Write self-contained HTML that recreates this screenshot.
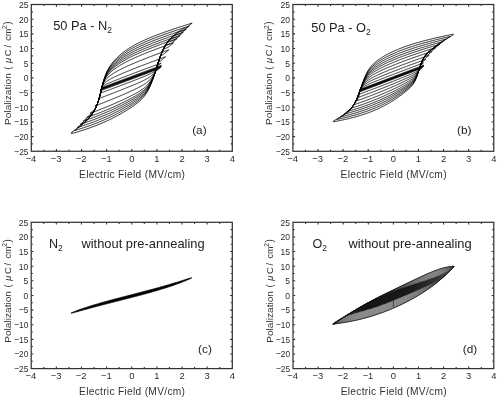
<!DOCTYPE html>
<html><head><meta charset="utf-8"><style>
html,body{margin:0;padding:0;background:#fff;width:498px;height:398px;overflow:hidden}
svg{display:block;will-change:transform}
text{font-family:"Liberation Sans", sans-serif}
</style></head><body>
<svg width="498" height="398" viewBox="0 0 498 398">
<path d="M43.86 151.25v-1.6M43.86 4.5v1.6M56.42 151.25v-2.2M56.42 4.5v2.2M68.99 151.25v-1.6M68.99 4.5v1.6M81.55 151.25v-2.2M81.55 4.5v2.2M94.11 151.25v-1.6M94.11 4.5v1.6M106.67 151.25v-2.2M106.67 4.5v2.2M119.24 151.25v-1.6M119.24 4.5v1.6M131.8 151.25v-2.2M131.8 4.5v2.2M144.36 151.25v-1.6M144.36 4.5v1.6M156.93 151.25v-2.2M156.93 4.5v2.2M169.49 151.25v-1.6M169.49 4.5v1.6M182.05 151.25v-2.2M182.05 4.5v2.2M194.61 151.25v-1.6M194.61 4.5v1.6M207.18 151.25v-2.2M207.18 4.5v2.2M219.74 151.25v-1.6M219.74 4.5v1.6M31.3 143.91h1.6M232.3 143.91h-1.6M31.3 136.58h2.2M232.3 136.58h-2.2M31.3 129.24h1.6M232.3 129.24h-1.6M31.3 121.9h2.2M232.3 121.9h-2.2M31.3 114.56h1.6M232.3 114.56h-1.6M31.3 107.22h2.2M232.3 107.22h-2.2M31.3 99.89h1.6M232.3 99.89h-1.6M31.3 92.55h2.2M232.3 92.55h-2.2M31.3 85.21h1.6M232.3 85.21h-1.6M31.3 77.88h2.2M232.3 77.88h-2.2M31.3 70.54h1.6M232.3 70.54h-1.6M31.3 63.2h2.2M232.3 63.2h-2.2M31.3 55.86h1.6M232.3 55.86h-1.6M31.3 48.52h2.2M232.3 48.52h-2.2M31.3 41.19h1.6M232.3 41.19h-1.6M31.3 33.85h2.2M232.3 33.85h-2.2M31.3 26.51h1.6M232.3 26.51h-1.6M31.3 19.18h2.2M232.3 19.18h-2.2M31.3 11.84h1.6M232.3 11.84h-1.6" stroke="#333" stroke-width="1.1" fill="none"/>
<rect x="31.3" y="4.5" width="201" height="146.75" stroke="#333" stroke-width="1.25" fill="none"/>
<g font-size="9.4" fill="#2a2a2a" text-anchor="middle">
<text x="31" y="161.85">−4</text>
<text x="56.12" y="161.85">−3</text>
<text x="81.25" y="161.85">−2</text>
<text x="106.38" y="161.85">−1</text>
<text x="131.8" y="161.85">0</text>
<text x="156.93" y="161.85">1</text>
<text x="182.05" y="161.85">2</text>
<text x="207.18" y="161.85">3</text>
<text x="232.3" y="161.85">4</text>
</g>
<g font-size="9.4" fill="#2a2a2a" text-anchor="end">
<text x="28.4" y="154.65" textLength="14.1" lengthAdjust="spacingAndGlyphs">−25</text>
<text x="28.4" y="139.98" textLength="14.1" lengthAdjust="spacingAndGlyphs">−20</text>
<text x="28.4" y="125.3" textLength="14.1" lengthAdjust="spacingAndGlyphs">−15</text>
<text x="28.4" y="110.62" textLength="14.1" lengthAdjust="spacingAndGlyphs">−10</text>
<text x="28.4" y="95.95" textLength="9.35" lengthAdjust="spacingAndGlyphs">−5</text>
<text x="28.4" y="81.28" textLength="4.75" lengthAdjust="spacingAndGlyphs">0</text>
<text x="28.4" y="66.6" textLength="4.75" lengthAdjust="spacingAndGlyphs">5</text>
<text x="28.4" y="51.92" textLength="9.5" lengthAdjust="spacingAndGlyphs">10</text>
<text x="28.4" y="37.25" textLength="9.5" lengthAdjust="spacingAndGlyphs">15</text>
<text x="28.4" y="22.57" textLength="9.5" lengthAdjust="spacingAndGlyphs">20</text>
<text x="28.4" y="7.9" textLength="9.5" lengthAdjust="spacingAndGlyphs">25</text>
</g>
<text x="132.2" y="178.05" font-size="10.2" fill="#333" text-anchor="middle" letter-spacing="0.3">Electric Field (MV/cm)</text>
<text transform="translate(10.8 125) rotate(-90)" font-size="9.4" fill="#333"><tspan x="0" textLength="51.8" lengthAdjust="spacingAndGlyphs">Polalization</tspan><tspan x="55.2">(</tspan><tspan x="62" font-style="italic">μ</tspan><tspan x="68.8" textLength="6.9" lengthAdjust="spacingAndGlyphs">C</tspan><tspan x="77.4">/</tspan><tspan x="84.2" textLength="12" lengthAdjust="spacingAndGlyphs">cm</tspan><tspan x="96.1" font-size="6.8" dy="-3.9">2</tspan><tspan x="100.2" dy="3.9" font-size="10.2">)</tspan></text>
<path d="M305.45 151.3v-1.6M305.45 4.5v1.6M318.01 151.3v-2.2M318.01 4.5v2.2M330.56 151.3v-1.6M330.56 4.5v1.6M343.11 151.3v-2.2M343.11 4.5v2.2M355.67 151.3v-1.6M355.67 4.5v1.6M368.22 151.3v-2.2M368.22 4.5v2.2M380.77 151.3v-1.6M380.77 4.5v1.6M393.32 151.3v-2.2M393.32 4.5v2.2M405.88 151.3v-1.6M405.88 4.5v1.6M418.43 151.3v-2.2M418.43 4.5v2.2M430.98 151.3v-1.6M430.98 4.5v1.6M443.54 151.3v-2.2M443.54 4.5v2.2M456.09 151.3v-1.6M456.09 4.5v1.6M468.64 151.3v-2.2M468.64 4.5v2.2M481.2 151.3v-1.6M481.2 4.5v1.6M292.9 143.96h1.6M493.75 143.96h-1.6M292.9 136.62h2.2M493.75 136.62h-2.2M292.9 129.28h1.6M493.75 129.28h-1.6M292.9 121.94h2.2M493.75 121.94h-2.2M292.9 114.6h1.6M493.75 114.6h-1.6M292.9 107.26h2.2M493.75 107.26h-2.2M292.9 99.92h1.6M493.75 99.92h-1.6M292.9 92.58h2.2M493.75 92.58h-2.2M292.9 85.24h1.6M493.75 85.24h-1.6M292.9 77.9h2.2M493.75 77.9h-2.2M292.9 70.56h1.6M493.75 70.56h-1.6M292.9 63.22h2.2M493.75 63.22h-2.2M292.9 55.88h1.6M493.75 55.88h-1.6M292.9 48.54h2.2M493.75 48.54h-2.2M292.9 41.2h1.6M493.75 41.2h-1.6M292.9 33.86h2.2M493.75 33.86h-2.2M292.9 26.52h1.6M493.75 26.52h-1.6M292.9 19.18h2.2M493.75 19.18h-2.2M292.9 11.84h1.6M493.75 11.84h-1.6" stroke="#333" stroke-width="1.1" fill="none"/>
<rect x="292.9" y="4.5" width="200.85" height="146.8" stroke="#333" stroke-width="1.25" fill="none"/>
<g font-size="9.4" fill="#2a2a2a" text-anchor="middle">
<text x="292.6" y="161.9">−4</text>
<text x="317.71" y="161.9">−3</text>
<text x="342.81" y="161.9">−2</text>
<text x="367.92" y="161.9">−1</text>
<text x="393.32" y="161.9">0</text>
<text x="418.43" y="161.9">1</text>
<text x="443.54" y="161.9">2</text>
<text x="468.64" y="161.9">3</text>
<text x="493.75" y="161.9">4</text>
</g>
<g font-size="9.4" fill="#2a2a2a" text-anchor="end">
<text x="290" y="154.7" textLength="14.1" lengthAdjust="spacingAndGlyphs">−25</text>
<text x="290" y="140.02" textLength="14.1" lengthAdjust="spacingAndGlyphs">−20</text>
<text x="290" y="125.34" textLength="14.1" lengthAdjust="spacingAndGlyphs">−15</text>
<text x="290" y="110.66" textLength="14.1" lengthAdjust="spacingAndGlyphs">−10</text>
<text x="290" y="95.98" textLength="9.35" lengthAdjust="spacingAndGlyphs">−5</text>
<text x="290" y="81.3" textLength="4.75" lengthAdjust="spacingAndGlyphs">0</text>
<text x="290" y="66.62" textLength="4.75" lengthAdjust="spacingAndGlyphs">5</text>
<text x="290" y="51.94" textLength="9.5" lengthAdjust="spacingAndGlyphs">10</text>
<text x="290" y="37.26" textLength="9.5" lengthAdjust="spacingAndGlyphs">15</text>
<text x="290" y="22.58" textLength="9.5" lengthAdjust="spacingAndGlyphs">20</text>
<text x="290" y="7.9" textLength="9.5" lengthAdjust="spacingAndGlyphs">25</text>
</g>
<text x="393.72" y="178.1" font-size="10.2" fill="#333" text-anchor="middle" letter-spacing="0.3">Electric Field (MV/cm)</text>
<text transform="translate(272.4 125) rotate(-90)" font-size="9.4" fill="#333"><tspan x="0" textLength="51.8" lengthAdjust="spacingAndGlyphs">Polalization</tspan><tspan x="55.2">(</tspan><tspan x="62" font-style="italic">μ</tspan><tspan x="68.8" textLength="6.9" lengthAdjust="spacingAndGlyphs">C</tspan><tspan x="77.4">/</tspan><tspan x="84.2" textLength="12" lengthAdjust="spacingAndGlyphs">cm</tspan><tspan x="96.1" font-size="6.8" dy="-3.9">2</tspan><tspan x="100.2" dy="3.9" font-size="10.2">)</tspan></text>
<path d="M43.77 368.6v-1.6M43.77 222.3v1.6M56.34 368.6v-2.2M56.34 222.3v2.2M68.91 368.6v-1.6M68.91 222.3v1.6M81.48 368.6v-2.2M81.48 222.3v2.2M94.04 368.6v-1.6M94.04 222.3v1.6M106.61 368.6v-2.2M106.61 222.3v2.2M119.18 368.6v-1.6M119.18 222.3v1.6M131.75 368.6v-2.2M131.75 222.3v2.2M144.32 368.6v-1.6M144.32 222.3v1.6M156.89 368.6v-2.2M156.89 222.3v2.2M169.46 368.6v-1.6M169.46 222.3v1.6M182.03 368.6v-2.2M182.03 222.3v2.2M194.59 368.6v-1.6M194.59 222.3v1.6M207.16 368.6v-2.2M207.16 222.3v2.2M219.73 368.6v-1.6M219.73 222.3v1.6M31.2 361.29h1.6M232.3 361.29h-1.6M31.2 353.97h2.2M232.3 353.97h-2.2M31.2 346.66h1.6M232.3 346.66h-1.6M31.2 339.34h2.2M232.3 339.34h-2.2M31.2 332.03h1.6M232.3 332.03h-1.6M31.2 324.71h2.2M232.3 324.71h-2.2M31.2 317.4h1.6M232.3 317.4h-1.6M31.2 310.08h2.2M232.3 310.08h-2.2M31.2 302.77h1.6M232.3 302.77h-1.6M31.2 295.45h2.2M232.3 295.45h-2.2M31.2 288.13h1.6M232.3 288.13h-1.6M31.2 280.82h2.2M232.3 280.82h-2.2M31.2 273.5h1.6M232.3 273.5h-1.6M31.2 266.19h2.2M232.3 266.19h-2.2M31.2 258.88h1.6M232.3 258.88h-1.6M31.2 251.56h2.2M232.3 251.56h-2.2M31.2 244.25h1.6M232.3 244.25h-1.6M31.2 236.93h2.2M232.3 236.93h-2.2M31.2 229.62h1.6M232.3 229.62h-1.6" stroke="#333" stroke-width="1.1" fill="none"/>
<rect x="31.2" y="222.3" width="201.1" height="146.3" stroke="#333" stroke-width="1.25" fill="none"/>
<g font-size="9.4" fill="#2a2a2a" text-anchor="middle">
<text x="30.9" y="379.2">−4</text>
<text x="56.04" y="379.2">−3</text>
<text x="81.18" y="379.2">−2</text>
<text x="106.31" y="379.2">−1</text>
<text x="131.75" y="379.2">0</text>
<text x="156.89" y="379.2">1</text>
<text x="182.03" y="379.2">2</text>
<text x="207.16" y="379.2">3</text>
<text x="232.3" y="379.2">4</text>
</g>
<g font-size="9.4" fill="#2a2a2a" text-anchor="end">
<text x="28.3" y="372" textLength="14.1" lengthAdjust="spacingAndGlyphs">−25</text>
<text x="28.3" y="357.37" textLength="14.1" lengthAdjust="spacingAndGlyphs">−20</text>
<text x="28.3" y="342.74" textLength="14.1" lengthAdjust="spacingAndGlyphs">−15</text>
<text x="28.3" y="328.11" textLength="14.1" lengthAdjust="spacingAndGlyphs">−10</text>
<text x="28.3" y="313.48" textLength="9.35" lengthAdjust="spacingAndGlyphs">−5</text>
<text x="28.3" y="298.85" textLength="4.75" lengthAdjust="spacingAndGlyphs">0</text>
<text x="28.3" y="284.22" textLength="4.75" lengthAdjust="spacingAndGlyphs">5</text>
<text x="28.3" y="269.59" textLength="9.5" lengthAdjust="spacingAndGlyphs">10</text>
<text x="28.3" y="254.96" textLength="9.5" lengthAdjust="spacingAndGlyphs">15</text>
<text x="28.3" y="240.33" textLength="9.5" lengthAdjust="spacingAndGlyphs">20</text>
<text x="28.3" y="225.7" textLength="9.5" lengthAdjust="spacingAndGlyphs">25</text>
</g>
<text x="132.15" y="395.4" font-size="10.2" fill="#333" text-anchor="middle" letter-spacing="0.3">Electric Field (MV/cm)</text>
<text transform="translate(10.7 342.8) rotate(-90)" font-size="9.4" fill="#333"><tspan x="0" textLength="51.8" lengthAdjust="spacingAndGlyphs">Polalization</tspan><tspan x="55.2">(</tspan><tspan x="62" font-style="italic">μ</tspan><tspan x="68.8" textLength="6.9" lengthAdjust="spacingAndGlyphs">C</tspan><tspan x="77.4">/</tspan><tspan x="84.2" textLength="12" lengthAdjust="spacingAndGlyphs">cm</tspan><tspan x="96.1" font-size="6.8" dy="-3.9">2</tspan><tspan x="100.2" dy="3.9" font-size="10.2">)</tspan></text>
<path d="M305.55 368.6v-1.6M305.55 222.3v1.6M318.1 368.6v-2.2M318.1 222.3v2.2M330.65 368.6v-1.6M330.65 222.3v1.6M343.2 368.6v-2.2M343.2 222.3v2.2M355.75 368.6v-1.6M355.75 222.3v1.6M368.3 368.6v-2.2M368.3 222.3v2.2M380.85 368.6v-1.6M380.85 222.3v1.6M393.4 368.6v-2.2M393.4 222.3v2.2M405.95 368.6v-1.6M405.95 222.3v1.6M418.5 368.6v-2.2M418.5 222.3v2.2M431.05 368.6v-1.6M431.05 222.3v1.6M443.6 368.6v-2.2M443.6 222.3v2.2M456.15 368.6v-1.6M456.15 222.3v1.6M468.7 368.6v-2.2M468.7 222.3v2.2M481.25 368.6v-1.6M481.25 222.3v1.6M293 361.29h1.6M493.8 361.29h-1.6M293 353.97h2.2M493.8 353.97h-2.2M293 346.66h1.6M493.8 346.66h-1.6M293 339.34h2.2M493.8 339.34h-2.2M293 332.03h1.6M493.8 332.03h-1.6M293 324.71h2.2M493.8 324.71h-2.2M293 317.4h1.6M493.8 317.4h-1.6M293 310.08h2.2M493.8 310.08h-2.2M293 302.77h1.6M493.8 302.77h-1.6M293 295.45h2.2M493.8 295.45h-2.2M293 288.13h1.6M493.8 288.13h-1.6M293 280.82h2.2M493.8 280.82h-2.2M293 273.5h1.6M493.8 273.5h-1.6M293 266.19h2.2M493.8 266.19h-2.2M293 258.88h1.6M493.8 258.88h-1.6M293 251.56h2.2M493.8 251.56h-2.2M293 244.25h1.6M493.8 244.25h-1.6M293 236.93h2.2M493.8 236.93h-2.2M293 229.62h1.6M493.8 229.62h-1.6" stroke="#333" stroke-width="1.1" fill="none"/>
<rect x="293" y="222.3" width="200.8" height="146.3" stroke="#333" stroke-width="1.25" fill="none"/>
<g font-size="9.4" fill="#2a2a2a" text-anchor="middle">
<text x="292.7" y="379.2">−4</text>
<text x="317.8" y="379.2">−3</text>
<text x="342.9" y="379.2">−2</text>
<text x="368" y="379.2">−1</text>
<text x="393.4" y="379.2">0</text>
<text x="418.5" y="379.2">1</text>
<text x="443.6" y="379.2">2</text>
<text x="468.7" y="379.2">3</text>
<text x="493.8" y="379.2">4</text>
</g>
<g font-size="9.4" fill="#2a2a2a" text-anchor="end">
<text x="290.1" y="372" textLength="14.1" lengthAdjust="spacingAndGlyphs">−25</text>
<text x="290.1" y="357.37" textLength="14.1" lengthAdjust="spacingAndGlyphs">−20</text>
<text x="290.1" y="342.74" textLength="14.1" lengthAdjust="spacingAndGlyphs">−15</text>
<text x="290.1" y="328.11" textLength="14.1" lengthAdjust="spacingAndGlyphs">−10</text>
<text x="290.1" y="313.48" textLength="9.35" lengthAdjust="spacingAndGlyphs">−5</text>
<text x="290.1" y="298.85" textLength="4.75" lengthAdjust="spacingAndGlyphs">0</text>
<text x="290.1" y="284.22" textLength="4.75" lengthAdjust="spacingAndGlyphs">5</text>
<text x="290.1" y="269.59" textLength="9.5" lengthAdjust="spacingAndGlyphs">10</text>
<text x="290.1" y="254.96" textLength="9.5" lengthAdjust="spacingAndGlyphs">15</text>
<text x="290.1" y="240.33" textLength="9.5" lengthAdjust="spacingAndGlyphs">20</text>
<text x="290.1" y="225.7" textLength="9.5" lengthAdjust="spacingAndGlyphs">25</text>
</g>
<text x="393.8" y="395.4" font-size="10.2" fill="#333" text-anchor="middle" letter-spacing="0.3">Electric Field (MV/cm)</text>
<text transform="translate(272.5 342.8) rotate(-90)" font-size="9.4" fill="#333"><tspan x="0" textLength="51.8" lengthAdjust="spacingAndGlyphs">Polalization</tspan><tspan x="55.2">(</tspan><tspan x="62" font-style="italic">μ</tspan><tspan x="68.8" textLength="6.9" lengthAdjust="spacingAndGlyphs">C</tspan><tspan x="77.4">/</tspan><tspan x="84.2" textLength="12" lengthAdjust="spacingAndGlyphs">cm</tspan><tspan x="96.1" font-size="6.8" dy="-3.9">2</tspan><tspan x="100.2" dy="3.9" font-size="10.2">)</tspan></text>
<text x="53.2" y="29.8" font-size="12.8" fill="#222">50 Pa - N<tspan font-size="8.5" dy="2.8">2</tspan></text>
<text x="311.3" y="31.8" font-size="12.8" fill="#222">50 Pa - O<tspan font-size="8.5" dy="2.8">2</tspan></text>
<text x="49" y="248.1" font-size="12.5" fill="#222">N<tspan font-size="8.5" dy="3">2</tspan></text>
<text x="81.4" y="248.1" font-size="12.9" fill="#222">without pre-annealing</text>
<text x="312.6" y="248.1" font-size="12.5" fill="#222">O<tspan font-size="8.5" dy="3">2</tspan></text>
<text x="348.4" y="248.1" font-size="12.9" fill="#222">without pre-annealing</text>
<text x="192.2" y="134.4" font-size="11.8" fill="#222">(a)</text>
<text x="457.1" y="134.4" font-size="11.8" fill="#222">(b)</text>
<text x="198.1" y="353" font-size="11.8" fill="#222">(c)</text>
<text x="462.8" y="353" font-size="11.8" fill="#222">(d)</text>
<path d="M161.2 66.84L160.92 66.95L160.64 67.05L160.37 67.15L160.09 67.25L159.81 67.35L159.54 67.46L159.26 67.56L158.98 67.66L158.71 67.76L158.43 67.87L158.15 67.97L157.88 68.07L157.6 68.17L157.33 68.28L157.05 68.38L156.77 68.48L156.5 68.58L156.22 68.69L155.94 68.79L155.67 68.89L155.39 68.99L155.11 69.1L154.84 69.2L154.56 69.3L154.28 69.4L154.01 69.5L153.73 69.61L153.45 69.71L153.18 69.81L152.9 69.91L152.63 70.02L152.35 70.12L152.07 70.22L151.8 70.32L151.52 70.43L151.24 70.53L150.97 70.63L150.69 70.73L150.41 70.84L150.14 70.94L149.86 71.04L149.58 71.14L149.31 71.25L149.03 71.35L148.75 71.45L148.48 71.55L148.2 71.65L147.92 71.76L147.65 71.86L147.37 71.96L147.1 72.06L146.82 72.17L146.54 72.27L146.27 72.37L145.99 72.47L145.71 72.58L145.44 72.68L145.16 72.78L144.88 72.88L144.61 72.99L144.33 73.09L144.05 73.19L143.78 73.29L143.5 73.4L143.22 73.5L142.95 73.6L142.67 73.7L142.39 73.8L142.12 73.91L141.84 74.01L141.57 74.11L141.29 74.21L141.01 74.32L140.74 74.42L140.46 74.52L140.18 74.62L139.91 74.73L139.63 74.83L139.35 74.93L139.08 75.03L138.8 75.14L138.52 75.24L138.25 75.34L137.97 75.44L137.69 75.55L137.42 75.65L137.14 75.75L136.87 75.85L136.59 75.95L136.31 76.06L136.04 76.16L135.76 76.26L135.48 76.36L135.21 76.47L134.93 76.57L134.65 76.67L134.38 76.77L134.1 76.88L133.82 76.98L133.55 77.08L133.27 77.18L132.99 77.29L132.72 77.39L132.44 77.49L132.16 77.59L131.89 77.7L131.61 77.8L131.34 77.9L131.06 78L130.78 78.11L130.51 78.21L130.23 78.31L129.95 78.41L129.68 78.51L129.4 78.62L129.12 78.72L128.85 78.82L128.57 78.92L128.29 79.03L128.02 79.13L127.74 79.23L127.46 79.33L127.19 79.44L126.91 79.54L126.64 79.64L126.36 79.74L126.08 79.85L125.81 79.95L125.53 80.05L125.25 80.15L124.98 80.26L124.7 80.36L124.42 80.46L124.15 80.56L123.87 80.66L123.59 80.77L123.32 80.87L123.04 80.97L122.76 81.07L122.49 81.18L122.21 81.28L121.93 81.38L121.66 81.48L121.38 81.59L121.11 81.69L120.83 81.79L120.55 81.89L120.28 82L120 82.1L119.72 82.2L119.45 82.3L119.17 82.41L118.89 82.51L118.62 82.61L118.34 82.71L118.06 82.81L117.79 82.92L117.51 83.02L117.23 83.12L116.96 83.22L116.68 83.33L116.4 83.43L116.13 83.53L115.85 83.63L115.58 83.74L115.3 83.84L115.02 83.94L114.75 84.04L114.47 84.15L114.19 84.25L113.92 84.35L113.64 84.45L113.36 84.56L113.09 84.66L112.81 84.76L112.53 84.86L112.26 84.96L111.98 85.07L111.7 85.17L111.43 85.27L111.15 85.37L110.88 85.48L110.6 85.58L110.32 85.68L110.05 85.78L109.77 85.89L109.49 85.99L109.22 86.09L108.94 86.19L108.66 86.3L108.39 86.4L108.11 86.5L107.83 86.6L107.56 86.71L107.28 86.81L107 86.91L106.73 87.01L106.45 87.12L106.17 87.22L105.9 87.32L105.62 87.42L105.35 87.52L105.07 87.63L104.79 87.73L104.52 87.83L104.24 87.93L103.96 88.04L103.69 88.14L103.41 88.24L103.13 88.34L102.86 88.45L102.58 88.55L102.3 88.65L102.03 88.75L101.75 88.86L101.47 88.56L101.2 88.8L100.92 89.03L100.64 89.27L100.92 89.16L101.2 89.06L101.47 88.96L101.75 88.86L102.03 88.75L102.3 88.65L102.58 88.55L102.86 88.45L103.13 88.34L103.41 88.24L103.69 88.14L103.96 88.04L104.24 87.93L104.52 87.83L104.79 87.73L105.07 87.63L105.35 87.52L105.62 87.42L105.9 87.32L106.17 87.22L106.45 87.12L106.73 87.01L107 86.91L107.28 86.81L107.56 86.71L107.83 86.6L108.11 86.5L108.39 86.4L108.66 86.3L108.94 86.19L109.22 86.09L109.49 85.99L109.77 85.89L110.05 85.78L110.32 85.68L110.6 85.58L110.88 85.48L111.15 85.37L111.43 85.27L111.7 85.17L111.98 85.07L112.26 84.96L112.53 84.86L112.81 84.76L113.09 84.66L113.36 84.56L113.64 84.45L113.92 84.35L114.19 84.25L114.47 84.15L114.75 84.04L115.02 83.94L115.3 83.84L115.58 83.74L115.85 83.63L116.13 83.53L116.4 83.43L116.68 83.33L116.96 83.22L117.23 83.12L117.51 83.02L117.79 82.92L118.06 82.81L118.34 82.71L118.62 82.61L118.89 82.51L119.17 82.41L119.45 82.3L119.72 82.2L120 82.1L120.28 82L120.55 81.89L120.83 81.79L121.11 81.69L121.38 81.59L121.66 81.48L121.93 81.38L122.21 81.28L122.49 81.18L122.76 81.07L123.04 80.97L123.32 80.87L123.59 80.77L123.87 80.66L124.15 80.56L124.42 80.46L124.7 80.36L124.98 80.26L125.25 80.15L125.53 80.05L125.81 79.95L126.08 79.85L126.36 79.74L126.64 79.64L126.91 79.54L127.19 79.44L127.46 79.33L127.74 79.23L128.02 79.13L128.29 79.03L128.57 78.92L128.85 78.82L129.12 78.72L129.4 78.62L129.68 78.51L129.95 78.41L130.23 78.31L130.51 78.21L130.78 78.11L131.06 78L131.34 77.9L131.61 77.8L131.89 77.7L132.16 77.59L132.44 77.49L132.72 77.39L132.99 77.29L133.27 77.18L133.55 77.08L133.82 76.98L134.1 76.88L134.38 76.77L134.65 76.67L134.93 76.57L135.21 76.47L135.48 76.36L135.76 76.26L136.04 76.16L136.31 76.06L136.59 75.95L136.87 75.85L137.14 75.75L137.42 75.65L137.69 75.55L137.97 75.44L138.25 75.34L138.52 75.24L138.8 75.14L139.08 75.03L139.35 74.93L139.63 74.83L139.91 74.73L140.18 74.62L140.46 74.52L140.74 74.42L141.01 74.32L141.29 74.21L141.57 74.11L141.84 74.01L142.12 73.91L142.39 73.8L142.67 73.7L142.95 73.6L143.22 73.5L143.5 73.4L143.78 73.29L144.05 73.19L144.33 73.09L144.61 72.99L144.88 72.88L145.16 72.78L145.44 72.68L145.71 72.58L145.99 72.47L146.27 72.37L146.54 72.27L146.82 72.17L147.1 72.06L147.37 71.96L147.65 71.86L147.92 71.76L148.2 71.65L148.48 71.55L148.75 71.45L149.03 71.35L149.31 71.25L149.58 71.14L149.86 71.04L150.14 70.94L150.41 70.84L150.69 70.73L150.97 70.63L151.24 70.53L151.52 70.43L151.8 70.32L152.07 70.22L152.35 70.12L152.63 70.02L152.9 69.91L153.18 69.81L153.45 69.71L153.73 69.61L154.01 69.5L154.28 69.4L154.56 69.3L154.84 69.2L155.11 69.1L155.39 68.99L155.67 68.89L155.94 68.79L156.22 68.69L156.5 70.83L156.77 70.59L157.05 70.36L157.33 70.13L157.6 69.89L157.88 69.66L158.15 69.42L158.43 69.19L158.71 68.95L158.98 68.72L159.26 68.48L159.54 68.25L159.81 68.02L160.09 67.78L160.37 67.55L160.64 67.31L160.92 67.08L161.2 66.84ZM161.2 66.54L160.92 66.65L160.64 66.75L160.37 66.85L160.09 66.95L159.81 67.05L159.54 67.16L159.26 67.26L158.98 67.36L158.71 67.46L158.43 67.57L158.15 67.67L157.88 67.77L157.6 67.87L157.33 67.98L157.05 68.08L156.77 68.18L156.5 68.28L156.22 68.39L155.94 68.49L155.67 68.59L155.39 68.69L155.11 68.8L154.84 68.9L154.56 69L154.28 69.1L154.01 69.2L153.73 69.31L153.45 69.41L153.18 69.51L152.9 69.61L152.63 69.72L152.35 69.82L152.07 69.92L151.8 70.02L151.52 70.13L151.24 70.23L150.97 70.33L150.69 70.43L150.41 70.54L150.14 70.64L149.86 70.74L149.58 70.84L149.31 70.95L149.03 71.05L148.75 71.15L148.48 71.25L148.2 71.36L147.92 71.46L147.65 71.56L147.37 71.66L147.1 71.76L146.82 71.87L146.54 71.97L146.27 72.07L145.99 72.17L145.71 72.28L145.44 72.38L145.16 72.48L144.88 72.58L144.61 72.69L144.33 72.79L144.05 72.89L143.78 72.99L143.5 73.1L143.22 73.2L142.95 73.3L142.67 73.4L142.39 73.51L142.12 73.61L141.84 73.71L141.57 73.81L141.29 73.92L141.01 74.02L140.74 74.12L140.46 74.22L140.18 74.33L139.91 74.43L139.63 74.53L139.35 74.63L139.08 74.74L138.8 74.84L138.52 74.94L138.25 75.04L137.97 75.14L137.69 75.25L137.42 75.35L137.14 75.45L136.87 75.55L136.59 75.66L136.31 75.76L136.04 75.86L135.76 75.96L135.48 76.07L135.21 76.17L134.93 76.27L134.65 76.37L134.38 76.48L134.1 76.58L133.82 76.68L133.55 76.78L133.27 76.89L132.99 76.99L132.72 77.09L132.44 77.19L132.16 77.3L131.89 77.4L131.61 77.5L131.34 77.6L131.06 77.71L130.78 77.81L130.51 77.91L130.23 78.01L129.95 78.12L129.68 78.22L129.4 78.32L129.12 78.42L128.85 78.53L128.57 78.63L128.29 78.73L128.02 78.83L127.74 78.94L127.46 79.04L127.19 79.14L126.91 79.24L126.64 79.35L126.36 79.45L126.08 79.55L125.81 79.65L125.53 79.76L125.25 79.86L124.98 79.96L124.7 80.06L124.42 80.17L124.15 80.27L123.87 80.37L123.59 80.47L123.32 80.58L123.04 80.68L122.76 80.78L122.49 80.88L122.21 80.99L121.93 81.09L121.66 81.19L121.38 81.29L121.11 81.4L120.83 81.5L120.55 81.6L120.28 81.7L120 81.81L119.72 81.91L119.45 82.01L119.17 82.12L118.89 82.22L118.62 82.32L118.34 82.42L118.06 82.53L117.79 82.63L117.51 82.73L117.23 82.83L116.96 82.94L116.68 83.04L116.4 83.14L116.13 83.24L115.85 83.35L115.58 83.45L115.3 83.55L115.02 83.66L114.75 83.76L114.47 83.86L114.19 83.96L113.92 84.07L113.64 84.17L113.36 84.27L113.09 84.37L112.81 84.48L112.53 84.58L112.26 84.68L111.98 84.79L111.7 84.89L111.43 84.99L111.15 85.09L110.88 85.2L110.6 85.3L110.32 85.4L110.05 85.51L109.77 85.61L109.49 85.71L109.22 85.82L108.94 85.92L108.66 86.02L108.39 86.13L108.11 86.23L107.83 86.33L107.56 86.44L107.28 86.54L107 86.64L106.73 86.75L106.45 86.85L106.17 86.95L105.9 87.06L105.62 87.16L105.35 87.27L105.07 87.37L104.79 87.48L104.52 87.58L104.24 87.69L103.96 87.79L103.69 87.9L103.41 88.01L103.13 88.11L102.86 88.22L102.58 88.33L102.3 88.45L102.03 88.56L101.75 88.69L101.47 88.86L101.2 89.1L100.92 89.33L100.64 89.57L100.92 89.46L101.2 89.36L101.47 89.26L101.75 89.16L102.03 89.05L102.3 88.95L102.58 88.85L102.86 88.75L103.13 88.64L103.41 88.54L103.69 88.44L103.96 88.34L104.24 88.24L104.52 88.13L104.79 88.03L105.07 87.93L105.35 87.83L105.62 87.72L105.9 87.62L106.17 87.52L106.45 87.42L106.73 87.31L107 87.21L107.28 87.11L107.56 87.01L107.83 86.9L108.11 86.8L108.39 86.7L108.66 86.6L108.94 86.49L109.22 86.39L109.49 86.29L109.77 86.19L110.05 86.08L110.32 85.98L110.6 85.88L110.88 85.78L111.15 85.67L111.43 85.57L111.7 85.47L111.98 85.37L112.26 85.26L112.53 85.16L112.81 85.06L113.09 84.96L113.36 84.85L113.64 84.75L113.92 84.65L114.19 84.55L114.47 84.45L114.75 84.34L115.02 84.24L115.3 84.14L115.58 84.04L115.85 83.93L116.13 83.83L116.4 83.73L116.68 83.63L116.96 83.52L117.23 83.42L117.51 83.32L117.79 83.22L118.06 83.11L118.34 83.01L118.62 82.91L118.89 82.81L119.17 82.7L119.45 82.6L119.72 82.5L120 82.4L120.28 82.29L120.55 82.19L120.83 82.09L121.11 81.99L121.38 81.88L121.66 81.78L121.93 81.68L122.21 81.58L122.49 81.47L122.76 81.37L123.04 81.27L123.32 81.17L123.59 81.06L123.87 80.96L124.15 80.86L124.42 80.76L124.7 80.65L124.98 80.55L125.25 80.45L125.53 80.35L125.81 80.24L126.08 80.14L126.36 80.04L126.64 79.94L126.91 79.83L127.19 79.73L127.46 79.63L127.74 79.53L128.02 79.42L128.29 79.32L128.57 79.22L128.85 79.12L129.12 79.01L129.4 78.91L129.68 78.81L129.95 78.71L130.23 78.6L130.51 78.5L130.78 78.4L131.06 78.3L131.34 78.19L131.61 78.09L131.89 77.99L132.16 77.89L132.44 77.78L132.72 77.68L132.99 77.58L133.27 77.48L133.55 77.37L133.82 77.27L134.1 77.17L134.38 77.07L134.65 76.96L134.93 76.86L135.21 76.76L135.48 76.66L135.76 76.55L136.04 76.45L136.31 76.35L136.59 76.25L136.87 76.14L137.14 76.04L137.42 75.94L137.69 75.84L137.97 75.73L138.25 75.63L138.52 75.53L138.8 75.43L139.08 75.32L139.35 75.22L139.63 75.12L139.91 75.02L140.18 74.91L140.46 74.81L140.74 74.71L141.01 74.6L141.29 74.5L141.57 74.4L141.84 74.3L142.12 74.19L142.39 74.09L142.67 73.99L142.95 73.89L143.22 73.78L143.5 73.68L143.78 73.58L144.05 73.47L144.33 73.37L144.61 73.27L144.88 73.17L145.16 73.06L145.44 72.96L145.71 72.86L145.99 72.75L146.27 72.65L146.54 72.55L146.82 72.45L147.1 72.34L147.37 72.24L147.65 72.14L147.92 72.03L148.2 71.93L148.48 71.83L148.75 71.72L149.03 71.62L149.31 71.52L149.58 71.41L149.86 71.31L150.14 71.2L150.41 71.1L150.69 71L150.97 70.89L151.24 70.79L151.52 70.68L151.8 70.58L152.07 70.48L152.35 70.37L152.63 70.27L152.9 70.16L153.18 70.06L153.45 69.95L153.73 69.84L154.01 69.74L154.28 69.63L154.56 69.52L154.84 69.42L155.11 69.31L155.39 69.2L155.67 69.08L155.94 68.97L156.22 68.83L156.5 70.53L156.77 70.3L157.05 70.06L157.33 69.83L157.6 69.59L157.88 69.36L158.15 69.12L158.43 68.89L158.71 68.65L158.98 68.42L159.26 68.18L159.54 67.95L159.81 67.72L160.09 67.48L160.37 67.25L160.64 67.01L160.92 66.78L161.2 66.54ZM161.2 66.09L160.92 66.2L160.64 66.3L160.37 66.4L160.09 66.5L159.81 66.6L159.54 66.71L159.26 66.81L158.98 66.91L158.71 67.01L158.43 67.12L158.15 67.22L157.88 67.32L157.6 67.42L157.33 67.53L157.05 67.63L156.77 67.73L156.5 67.83L156.22 67.94L155.94 68.04L155.67 68.14L155.39 68.24L155.11 68.35L154.84 68.45L154.56 68.55L154.28 68.65L154.01 68.76L153.73 68.86L153.45 68.96L153.18 69.06L152.9 69.16L152.63 69.27L152.35 69.37L152.07 69.47L151.8 69.57L151.52 69.68L151.24 69.78L150.97 69.88L150.69 69.98L150.41 70.09L150.14 70.19L149.86 70.29L149.58 70.39L149.31 70.5L149.03 70.6L148.75 70.7L148.48 70.8L148.2 70.91L147.92 71.01L147.65 71.11L147.37 71.21L147.1 71.32L146.82 71.42L146.54 71.52L146.27 71.62L145.99 71.73L145.71 71.83L145.44 71.93L145.16 72.03L144.88 72.14L144.61 72.24L144.33 72.34L144.05 72.44L143.78 72.55L143.5 72.65L143.22 72.75L142.95 72.85L142.67 72.96L142.39 73.06L142.12 73.16L141.84 73.26L141.57 73.37L141.29 73.47L141.01 73.57L140.74 73.67L140.46 73.78L140.18 73.88L139.91 73.98L139.63 74.08L139.35 74.19L139.08 74.29L138.8 74.39L138.52 74.49L138.25 74.6L137.97 74.7L137.69 74.8L137.42 74.9L137.14 75.01L136.87 75.11L136.59 75.21L136.31 75.31L136.04 75.42L135.76 75.52L135.48 75.62L135.21 75.72L134.93 75.83L134.65 75.93L134.38 76.03L134.1 76.13L133.82 76.24L133.55 76.34L133.27 76.44L132.99 76.54L132.72 76.65L132.44 76.75L132.16 76.85L131.89 76.95L131.61 77.06L131.34 77.16L131.06 77.26L130.78 77.36L130.51 77.47L130.23 77.57L129.95 77.67L129.68 77.77L129.4 77.88L129.12 77.98L128.85 78.08L128.57 78.19L128.29 78.29L128.02 78.39L127.74 78.49L127.46 78.6L127.19 78.7L126.91 78.8L126.64 78.9L126.36 79.01L126.08 79.11L125.81 79.21L125.53 79.32L125.25 79.42L124.98 79.52L124.7 79.62L124.42 79.73L124.15 79.83L123.87 79.93L123.59 80.03L123.32 80.14L123.04 80.24L122.76 80.34L122.49 80.45L122.21 80.55L121.93 80.65L121.66 80.75L121.38 80.86L121.11 80.96L120.83 81.06L120.55 81.17L120.28 81.27L120 81.37L119.72 81.47L119.45 81.58L119.17 81.68L118.89 81.78L118.62 81.89L118.34 81.99L118.06 82.09L117.79 82.2L117.51 82.3L117.23 82.4L116.96 82.51L116.68 82.61L116.4 82.71L116.13 82.81L115.85 82.92L115.58 83.02L115.3 83.12L115.02 83.23L114.75 83.33L114.47 83.43L114.19 83.54L113.92 83.64L113.64 83.74L113.36 83.85L113.09 83.95L112.81 84.05L112.53 84.16L112.26 84.26L111.98 84.37L111.7 84.47L111.43 84.57L111.15 84.68L110.88 84.78L110.6 84.88L110.32 84.99L110.05 85.09L109.77 85.2L109.49 85.3L109.22 85.4L108.94 85.51L108.66 85.61L108.39 85.72L108.11 85.82L107.83 85.93L107.56 86.03L107.28 86.14L107 86.24L106.73 86.35L106.45 86.45L106.17 86.56L105.9 86.67L105.62 86.77L105.35 86.88L105.07 86.99L104.79 87.1L104.52 87.21L104.24 87.32L103.96 87.43L103.69 87.54L103.41 87.66L103.13 87.77L102.86 87.89L102.58 88.01L102.3 88.14L102.03 88.28L101.75 88.44L101.47 89.31L101.2 89.55L100.92 89.78L100.64 90.02L100.92 89.92L101.2 89.81L101.47 89.71L101.75 89.61L102.03 89.51L102.3 89.4L102.58 89.3L102.86 89.2L103.13 89.1L103.41 88.99L103.69 88.89L103.96 88.79L104.24 88.69L104.52 88.58L104.79 88.48L105.07 88.38L105.35 88.28L105.62 88.17L105.9 88.07L106.17 87.97L106.45 87.87L106.73 87.76L107 87.66L107.28 87.56L107.56 87.46L107.83 87.35L108.11 87.25L108.39 87.15L108.66 87.05L108.94 86.94L109.22 86.84L109.49 86.74L109.77 86.64L110.05 86.53L110.32 86.43L110.6 86.33L110.88 86.23L111.15 86.12L111.43 86.02L111.7 85.92L111.98 85.82L112.26 85.71L112.53 85.61L112.81 85.51L113.09 85.41L113.36 85.3L113.64 85.2L113.92 85.1L114.19 85L114.47 84.89L114.75 84.79L115.02 84.69L115.3 84.59L115.58 84.48L115.85 84.38L116.13 84.28L116.4 84.18L116.68 84.07L116.96 83.97L117.23 83.87L117.51 83.77L117.79 83.66L118.06 83.56L118.34 83.46L118.62 83.36L118.89 83.25L119.17 83.15L119.45 83.05L119.72 82.95L120 82.84L120.28 82.74L120.55 82.64L120.83 82.54L121.11 82.43L121.38 82.33L121.66 82.23L121.93 82.13L122.21 82.02L122.49 81.92L122.76 81.82L123.04 81.71L123.32 81.61L123.59 81.51L123.87 81.41L124.15 81.3L124.42 81.2L124.7 81.1L124.98 81L125.25 80.89L125.53 80.79L125.81 80.69L126.08 80.59L126.36 80.48L126.64 80.38L126.91 80.28L127.19 80.18L127.46 80.07L127.74 79.97L128.02 79.87L128.29 79.77L128.57 79.66L128.85 79.56L129.12 79.46L129.4 79.35L129.68 79.25L129.95 79.15L130.23 79.05L130.51 78.94L130.78 78.84L131.06 78.74L131.34 78.64L131.61 78.53L131.89 78.43L132.16 78.33L132.44 78.22L132.72 78.12L132.99 78.02L133.27 77.92L133.55 77.81L133.82 77.71L134.1 77.61L134.38 77.51L134.65 77.4L134.93 77.3L135.21 77.2L135.48 77.09L135.76 76.99L136.04 76.89L136.31 76.79L136.59 76.68L136.87 76.58L137.14 76.48L137.42 76.37L137.69 76.27L137.97 76.17L138.25 76.07L138.52 75.96L138.8 75.86L139.08 75.76L139.35 75.65L139.63 75.55L139.91 75.45L140.18 75.35L140.46 75.24L140.74 75.14L141.01 75.04L141.29 74.93L141.57 74.83L141.84 74.73L142.12 74.62L142.39 74.52L142.67 74.42L142.95 74.31L143.22 74.21L143.5 74.11L143.78 74L144.05 73.9L144.33 73.8L144.61 73.69L144.88 73.59L145.16 73.49L145.44 73.38L145.71 73.28L145.99 73.17L146.27 73.07L146.54 72.97L146.82 72.86L147.1 72.76L147.37 72.65L147.65 72.55L147.92 72.45L148.2 72.34L148.48 72.24L148.75 72.13L149.03 72.03L149.31 71.92L149.58 71.82L149.86 71.71L150.14 71.6L150.41 71.5L150.69 71.39L150.97 71.29L151.24 71.18L151.52 71.07L151.8 70.96L152.07 70.86L152.35 70.75L152.63 70.64L152.9 70.53L153.18 70.42L153.45 70.31L153.73 70.2L154.01 70.09L154.28 69.97L154.56 69.86L154.84 69.74L155.11 69.62L155.39 69.5L155.67 69.37L155.94 69.23L156.22 69.04L156.5 70.08L156.77 69.85L157.05 69.61L157.33 69.38L157.6 69.14L157.88 68.91L158.15 68.67L158.43 68.44L158.71 68.2L158.98 67.97L159.26 67.73L159.54 67.5L159.81 67.27L160.09 67.03L160.37 66.8L160.64 66.56L160.92 66.33L161.2 66.09ZM161.2 65.49L160.92 65.59L160.64 65.7L160.37 65.8L160.09 65.9L159.81 66L159.54 66.11L159.26 66.21L158.98 66.31L158.71 66.41L158.43 66.52L158.15 66.62L157.88 66.72L157.6 66.82L157.33 66.92L157.05 67.03L156.77 67.13L156.5 67.23L156.22 67.33L155.94 67.44L155.67 67.54L155.39 67.64L155.11 67.74L154.84 67.85L154.56 67.95L154.28 68.05L154.01 68.15L153.73 68.26L153.45 68.36L153.18 68.46L152.9 68.56L152.63 68.67L152.35 68.77L152.07 68.87L151.8 68.97L151.52 69.08L151.24 69.18L150.97 69.28L150.69 69.38L150.41 69.49L150.14 69.59L149.86 69.69L149.58 69.79L149.31 69.9L149.03 70L148.75 70.1L148.48 70.2L148.2 70.31L147.92 70.41L147.65 70.51L147.37 70.61L147.1 70.72L146.82 70.82L146.54 70.92L146.27 71.02L145.99 71.13L145.71 71.23L145.44 71.33L145.16 71.43L144.88 71.54L144.61 71.64L144.33 71.74L144.05 71.84L143.78 71.95L143.5 72.05L143.22 72.15L142.95 72.25L142.67 72.36L142.39 72.46L142.12 72.56L141.84 72.66L141.57 72.77L141.29 72.87L141.01 72.97L140.74 73.08L140.46 73.18L140.18 73.28L139.91 73.38L139.63 73.49L139.35 73.59L139.08 73.69L138.8 73.79L138.52 73.9L138.25 74L137.97 74.1L137.69 74.2L137.42 74.31L137.14 74.41L136.87 74.51L136.59 74.62L136.31 74.72L136.04 74.82L135.76 74.92L135.48 75.03L135.21 75.13L134.93 75.23L134.65 75.34L134.38 75.44L134.1 75.54L133.82 75.64L133.55 75.75L133.27 75.85L132.99 75.95L132.72 76.05L132.44 76.16L132.16 76.26L131.89 76.36L131.61 76.47L131.34 76.57L131.06 76.67L130.78 76.78L130.51 76.88L130.23 76.98L129.95 77.08L129.68 77.19L129.4 77.29L129.12 77.39L128.85 77.5L128.57 77.6L128.29 77.7L128.02 77.81L127.74 77.91L127.46 78.01L127.19 78.11L126.91 78.22L126.64 78.32L126.36 78.42L126.08 78.53L125.81 78.63L125.53 78.73L125.25 78.84L124.98 78.94L124.7 79.04L124.42 79.15L124.15 79.25L123.87 79.35L123.59 79.46L123.32 79.56L123.04 79.66L122.76 79.77L122.49 79.87L122.21 79.97L121.93 80.08L121.66 80.18L121.38 80.29L121.11 80.39L120.83 80.49L120.55 80.6L120.28 80.7L120 80.8L119.72 80.91L119.45 81.01L119.17 81.11L118.89 81.22L118.62 81.32L118.34 81.43L118.06 81.53L117.79 81.63L117.51 81.74L117.23 81.84L116.96 81.95L116.68 82.05L116.4 82.15L116.13 82.26L115.85 82.36L115.58 82.47L115.3 82.57L115.02 82.68L114.75 82.78L114.47 82.89L114.19 82.99L113.92 83.09L113.64 83.2L113.36 83.3L113.09 83.41L112.81 83.51L112.53 83.62L112.26 83.72L111.98 83.83L111.7 83.93L111.43 84.04L111.15 84.15L110.88 84.25L110.6 84.36L110.32 84.46L110.05 84.57L109.77 84.68L109.49 84.78L109.22 84.89L108.94 85L108.66 85.1L108.39 85.21L108.11 85.32L107.83 85.43L107.56 85.54L107.28 85.64L107 85.75L106.73 85.86L106.45 85.98L106.17 86.09L105.9 86.2L105.62 86.31L105.35 86.43L105.07 86.54L104.79 86.66L104.52 86.78L104.24 86.9L103.96 87.02L103.69 87.14L103.41 87.27L103.13 87.4L102.86 87.54L102.58 87.68L102.3 87.84L102.03 88.02L101.75 88.25L101.47 89.32L101.2 90.16L100.92 90.39L100.64 90.62L100.92 90.52L101.2 90.42L101.47 90.32L101.75 90.21L102.03 90.11L102.3 90.01L102.58 89.91L102.86 89.8L103.13 89.7L103.41 89.6L103.69 89.5L103.96 89.39L104.24 89.29L104.52 89.19L104.79 89.09L105.07 88.98L105.35 88.88L105.62 88.78L105.9 88.68L106.17 88.57L106.45 88.47L106.73 88.37L107 88.27L107.28 88.16L107.56 88.06L107.83 87.96L108.11 87.86L108.39 87.75L108.66 87.65L108.94 87.55L109.22 87.45L109.49 87.34L109.77 87.24L110.05 87.14L110.32 87.03L110.6 86.93L110.88 86.83L111.15 86.73L111.43 86.62L111.7 86.52L111.98 86.42L112.26 86.32L112.53 86.21L112.81 86.11L113.09 86.01L113.36 85.91L113.64 85.8L113.92 85.7L114.19 85.6L114.47 85.49L114.75 85.39L115.02 85.29L115.3 85.19L115.58 85.08L115.85 84.98L116.13 84.88L116.4 84.78L116.68 84.67L116.96 84.57L117.23 84.47L117.51 84.36L117.79 84.26L118.06 84.16L118.34 84.06L118.62 83.95L118.89 83.85L119.17 83.75L119.45 83.64L119.72 83.54L120 83.44L120.28 83.34L120.55 83.23L120.83 83.13L121.11 83.03L121.38 82.92L121.66 82.82L121.93 82.72L122.21 82.62L122.49 82.51L122.76 82.41L123.04 82.31L123.32 82.2L123.59 82.1L123.87 82L124.15 81.9L124.42 81.79L124.7 81.69L124.98 81.59L125.25 81.48L125.53 81.38L125.81 81.28L126.08 81.18L126.36 81.07L126.64 80.97L126.91 80.87L127.19 80.76L127.46 80.66L127.74 80.56L128.02 80.45L128.29 80.35L128.57 80.25L128.85 80.15L129.12 80.04L129.4 79.94L129.68 79.84L129.95 79.73L130.23 79.63L130.51 79.53L130.78 79.42L131.06 79.32L131.34 79.22L131.61 79.11L131.89 79.01L132.16 78.91L132.44 78.8L132.72 78.7L132.99 78.6L133.27 78.49L133.55 78.39L133.82 78.29L134.1 78.19L134.38 78.08L134.65 77.98L134.93 77.88L135.21 77.77L135.48 77.67L135.76 77.57L136.04 77.46L136.31 77.36L136.59 77.26L136.87 77.15L137.14 77.05L137.42 76.94L137.69 76.84L137.97 76.74L138.25 76.63L138.52 76.53L138.8 76.43L139.08 76.32L139.35 76.22L139.63 76.12L139.91 76.01L140.18 75.91L140.46 75.8L140.74 75.7L141.01 75.6L141.29 75.49L141.57 75.39L141.84 75.28L142.12 75.18L142.39 75.07L142.67 74.97L142.95 74.87L143.22 74.76L143.5 74.66L143.78 74.55L144.05 74.45L144.33 74.34L144.61 74.24L144.88 74.13L145.16 74.03L145.44 73.92L145.71 73.81L145.99 73.71L146.27 73.6L146.54 73.5L146.82 73.39L147.1 73.28L147.37 73.18L147.65 73.07L147.92 72.96L148.2 72.85L148.48 72.75L148.75 72.64L149.03 72.53L149.31 72.42L149.58 72.31L149.86 72.2L150.14 72.09L150.41 71.98L150.69 71.87L150.97 71.76L151.24 71.64L151.52 71.53L151.8 71.42L152.07 71.3L152.35 71.19L152.63 71.07L152.9 70.95L153.18 70.83L153.45 70.71L153.73 70.59L154.01 70.47L154.28 70.34L154.56 70.21L154.84 70.08L155.11 69.94L155.39 69.8L155.67 69.64L155.94 69.45L156.22 69.18L156.5 69.48L156.77 69.24L157.05 69.01L157.33 68.77L157.6 68.54L157.88 68.31L158.15 68.07L158.43 67.84L158.71 67.6L158.98 67.37L159.26 67.13L159.54 66.9L159.81 66.66L160.09 66.43L160.37 66.19L160.64 65.96L160.92 65.73L161.2 65.49ZM161.2 63.08L160.92 63.18L160.64 63.28L160.37 63.38L160.09 63.48L159.81 63.59L159.54 63.69L159.26 63.79L158.98 63.89L158.71 64L158.43 64.1L158.15 64.2L157.88 64.3L157.6 64.41L157.33 64.51L157.05 64.61L156.77 64.71L156.5 64.82L156.22 64.92L155.94 65.02L155.67 65.12L155.39 65.23L155.11 65.33L154.84 65.43L154.56 65.53L154.28 65.64L154.01 65.74L153.73 65.84L153.45 65.95L153.18 66.05L152.9 66.15L152.63 66.25L152.35 66.36L152.07 66.46L151.8 66.56L151.52 66.66L151.24 66.77L150.97 66.87L150.69 66.97L150.41 67.08L150.14 67.18L149.86 67.28L149.58 67.38L149.31 67.49L149.03 67.59L148.75 67.69L148.48 67.8L148.2 67.9L147.92 68L147.65 68.1L147.37 68.21L147.1 68.31L146.82 68.41L146.54 68.52L146.27 68.62L145.99 68.72L145.71 68.83L145.44 68.93L145.16 69.03L144.88 69.14L144.61 69.24L144.33 69.34L144.05 69.45L143.78 69.55L143.5 69.65L143.22 69.76L142.95 69.86L142.67 69.96L142.39 70.07L142.12 70.17L141.84 70.27L141.57 70.38L141.29 70.48L141.01 70.58L140.74 70.69L140.46 70.79L140.18 70.89L139.91 71L139.63 71.1L139.35 71.2L139.08 71.31L138.8 71.41L138.52 71.52L138.25 71.62L137.97 71.72L137.69 71.83L137.42 71.93L137.14 72.04L136.87 72.14L136.59 72.24L136.31 72.35L136.04 72.45L135.76 72.56L135.48 72.66L135.21 72.76L134.93 72.87L134.65 72.97L134.38 73.08L134.1 73.18L133.82 73.29L133.55 73.39L133.27 73.49L132.99 73.6L132.72 73.7L132.44 73.81L132.16 73.91L131.89 74.02L131.61 74.12L131.34 74.23L131.06 74.33L130.78 74.44L130.51 74.54L130.23 74.65L129.95 74.75L129.68 74.86L129.4 74.96L129.12 75.07L128.85 75.17L128.57 75.28L128.29 75.38L128.02 75.49L127.74 75.6L127.46 75.7L127.19 75.81L126.91 75.91L126.64 76.02L126.36 76.13L126.08 76.23L125.81 76.34L125.53 76.44L125.25 76.55L124.98 76.66L124.7 76.76L124.42 76.87L124.15 76.98L123.87 77.08L123.59 77.19L123.32 77.3L123.04 77.4L122.76 77.51L122.49 77.62L122.21 77.73L121.93 77.83L121.66 77.94L121.38 78.05L121.11 78.16L120.83 78.26L120.55 78.37L120.28 78.48L120 78.59L119.72 78.7L119.45 78.81L119.17 78.92L118.89 79.02L118.62 79.13L118.34 79.24L118.06 79.35L117.79 79.46L117.51 79.57L117.23 79.68L116.96 79.79L116.68 79.9L116.4 80.01L116.13 80.12L115.85 80.23L115.58 80.34L115.3 80.46L115.02 80.57L114.75 80.68L114.47 80.79L114.19 80.9L113.92 81.02L113.64 81.13L113.36 81.24L113.09 81.36L112.81 81.47L112.53 81.58L112.26 81.7L111.98 81.81L111.7 81.93L111.43 82.04L111.15 82.16L110.88 82.28L110.6 82.39L110.32 82.51L110.05 82.63L109.77 82.75L109.49 82.87L109.22 82.99L108.94 83.11L108.66 83.24L108.39 83.36L108.11 83.49L107.83 83.62L107.56 83.74L107.28 83.87L107 84.01L106.73 84.14L106.45 84.28L106.17 84.42L105.9 84.56L105.62 84.71L105.35 84.86L105.07 85.01L104.79 85.17L104.52 85.34L104.24 85.51L103.96 85.69L103.69 85.88L103.41 86.07L103.13 86.28L102.86 86.51L102.58 86.76L102.3 87.04L102.03 87.38L101.75 87.86L101.47 89.32L101.2 90.46L100.92 91.59L100.64 93.07L100.92 92.97L101.2 92.86L101.47 92.76L101.75 92.66L102.03 92.55L102.3 92.45L102.58 92.35L102.86 92.25L103.13 92.14L103.41 92.04L103.69 91.94L103.96 91.83L104.24 91.73L104.52 91.63L104.79 91.52L105.07 91.42L105.35 91.32L105.62 91.21L105.9 91.11L106.17 91.01L106.45 90.9L106.73 90.8L107 90.7L107.28 90.59L107.56 90.49L107.83 90.39L108.11 90.28L108.39 90.18L108.66 90.08L108.94 89.97L109.22 89.87L109.49 89.77L109.77 89.66L110.05 89.56L110.32 89.46L110.6 89.35L110.88 89.25L111.15 89.15L111.43 89.04L111.7 88.94L111.98 88.83L112.26 88.73L112.53 88.63L112.81 88.52L113.09 88.42L113.36 88.31L113.64 88.21L113.92 88.11L114.19 88L114.47 87.9L114.75 87.8L115.02 87.69L115.3 87.59L115.58 87.48L115.85 87.38L116.13 87.28L116.4 87.17L116.68 87.07L116.96 86.96L117.23 86.86L117.51 86.75L117.79 86.65L118.06 86.55L118.34 86.44L118.62 86.34L118.89 86.23L119.17 86.13L119.45 86.02L119.72 85.92L120 85.82L120.28 85.71L120.55 85.61L120.83 85.5L121.11 85.4L121.38 85.29L121.66 85.19L121.93 85.08L122.21 84.98L122.49 84.87L122.76 84.77L123.04 84.67L123.32 84.56L123.59 84.46L123.87 84.35L124.15 84.25L124.42 84.14L124.7 84.04L124.98 83.93L125.25 83.83L125.53 83.72L125.81 83.62L126.08 83.51L126.36 83.41L126.64 83.3L126.91 83.2L127.19 83.09L127.46 82.99L127.74 82.88L128.02 82.78L128.29 82.67L128.57 82.56L128.85 82.46L129.12 82.35L129.4 82.25L129.68 82.14L129.95 82.04L130.23 81.93L130.51 81.83L130.78 81.72L131.06 81.61L131.34 81.51L131.61 81.4L131.89 81.3L132.16 81.19L132.44 81.09L132.72 80.98L132.99 80.87L133.27 80.77L133.55 80.66L133.82 80.55L134.1 80.45L134.38 80.34L134.65 80.24L134.93 80.13L135.21 80.02L135.48 79.92L135.76 79.81L136.04 79.7L136.31 79.59L136.59 79.49L136.87 79.38L137.14 79.27L137.42 79.17L137.69 79.06L137.97 78.95L138.25 78.84L138.52 78.73L138.8 78.63L139.08 78.52L139.35 78.41L139.63 78.3L139.91 78.19L140.18 78.08L140.46 77.97L140.74 77.86L141.01 77.75L141.29 77.64L141.57 77.53L141.84 77.42L142.12 77.31L142.39 77.2L142.67 77.09L142.95 76.98L143.22 76.86L143.5 76.75L143.78 76.64L144.05 76.52L144.33 76.41L144.61 76.3L144.88 76.18L145.16 76.06L145.44 75.95L145.71 75.83L145.99 75.71L146.27 75.59L146.54 75.47L146.82 75.35L147.1 75.23L147.37 75.11L147.65 74.99L147.92 74.86L148.2 74.74L148.48 74.61L148.75 74.49L149.03 74.36L149.31 74.23L149.58 74.09L149.86 73.96L150.14 73.83L150.41 73.69L150.69 73.55L150.97 73.41L151.24 73.27L151.52 73.12L151.8 72.97L152.07 72.82L152.35 72.67L152.63 72.51L152.9 72.35L153.18 72.18L153.45 72.01L153.73 71.83L154.01 71.65L154.28 71.46L154.56 71.26L154.84 71.05L155.11 70.82L155.39 70.57L155.67 70.29L155.94 69.95L156.22 69.4L156.5 68.05L156.77 67.17L157.05 66.59L157.33 66.36L157.6 66.12L157.88 65.89L158.15 65.66L158.43 65.42L158.71 65.19L158.98 64.95L159.26 64.72L159.54 64.48L159.81 64.25L160.09 64.01L160.37 63.78L160.64 63.54L160.92 63.31L161.2 63.08ZM165.47 56.79L165.16 56.9L164.85 57.02L164.55 57.13L164.24 57.24L163.93 57.36L163.62 57.47L163.32 57.58L163.01 57.7L162.7 57.81L162.39 57.92L162.09 58.04L161.78 58.15L161.47 58.26L161.16 58.38L160.86 58.49L160.55 58.61L160.24 58.72L159.93 58.83L159.63 58.95L159.32 59.06L159.01 59.17L158.7 59.29L158.4 59.4L158.09 59.52L157.78 59.63L157.47 59.75L157.17 59.86L156.86 59.97L156.55 60.09L156.24 60.2L155.94 60.32L155.63 60.43L155.32 60.55L155.01 60.66L154.71 60.78L154.4 60.89L154.09 61L153.78 61.12L153.48 61.23L153.17 61.35L152.86 61.46L152.55 61.58L152.25 61.69L151.94 61.81L151.63 61.93L151.32 62.04L151.02 62.16L150.71 62.27L150.4 62.39L150.09 62.5L149.79 62.62L149.48 62.73L149.17 62.85L148.86 62.97L148.56 63.08L148.25 63.2L147.94 63.31L147.63 63.43L147.33 63.55L147.02 63.66L146.71 63.78L146.4 63.89L146.1 64.01L145.79 64.13L145.48 64.24L145.17 64.36L144.87 64.48L144.56 64.59L144.25 64.71L143.94 64.83L143.64 64.95L143.33 65.06L143.02 65.18L142.72 65.3L142.41 65.42L142.1 65.53L141.79 65.65L141.49 65.77L141.18 65.89L140.87 66.01L140.56 66.12L140.26 66.24L139.95 66.36L139.64 66.48L139.33 66.6L139.03 66.72L138.72 66.84L138.41 66.96L138.1 67.07L137.8 67.19L137.49 67.31L137.18 67.43L136.87 67.55L136.57 67.67L136.26 67.79L135.95 67.91L135.64 68.03L135.34 68.15L135.03 68.28L134.72 68.4L134.41 68.52L134.11 68.64L133.8 68.76L133.49 68.88L133.18 69L132.88 69.13L132.57 69.25L132.26 69.37L131.95 69.49L131.65 69.62L131.34 69.74L131.03 69.86L130.72 69.99L130.42 70.11L130.11 70.23L129.8 70.36L129.49 70.48L129.19 70.61L128.88 70.73L128.57 70.86L128.26 70.98L127.96 71.11L127.65 71.23L127.34 71.36L127.03 71.49L126.73 71.61L126.42 71.74L126.11 71.87L125.8 72L125.5 72.12L125.19 72.25L124.88 72.38L124.57 72.51L124.27 72.64L123.96 72.77L123.65 72.9L123.34 73.03L123.04 73.16L122.73 73.29L122.42 73.42L122.11 73.56L121.81 73.69L121.5 73.82L121.19 73.96L120.88 74.09L120.58 74.22L120.27 74.36L119.96 74.49L119.66 74.63L119.35 74.77L119.04 74.9L118.73 75.04L118.43 75.18L118.12 75.32L117.81 75.46L117.5 75.6L117.2 75.74L116.89 75.88L116.58 76.02L116.27 76.17L115.97 76.31L115.66 76.45L115.35 76.6L115.04 76.75L114.74 76.89L114.43 77.04L114.12 77.19L113.81 77.34L113.51 77.49L113.2 77.64L112.89 77.8L112.58 77.95L112.28 78.11L111.97 78.26L111.66 78.42L111.35 78.58L111.05 78.75L110.74 78.91L110.43 79.08L110.12 79.25L109.82 79.42L109.51 79.59L109.2 79.77L108.89 79.95L108.59 80.14L108.28 80.33L107.97 80.52L107.66 80.72L107.36 80.93L107.05 81.14L106.74 81.36L106.43 81.59L106.13 81.82L105.82 82.07L105.51 82.33L105.2 82.6L104.9 82.88L104.59 83.18L104.28 83.5L103.97 83.84L103.67 84.21L103.36 84.6L103.05 85.03L102.74 85.5L102.44 86.03L102.13 86.65L101.82 87.45L101.51 89.16L101.21 90.42L100.9 91.67L100.59 92.92L100.28 94.14L99.98 95.34L99.67 96.5L99.36 97.64L99.05 98.03L98.75 98.29L98.44 98.55L98.13 98.81L98.44 98.7L98.75 98.58L99.05 98.47L99.36 98.35L99.67 98.23L99.98 98.12L100.28 98L100.59 97.89L100.9 97.77L101.21 97.66L101.51 97.54L101.82 97.42L102.13 97.31L102.44 97.19L102.74 97.08L103.05 96.96L103.36 96.84L103.67 96.73L103.97 96.61L104.28 96.49L104.59 96.38L104.9 96.26L105.2 96.14L105.51 96.02L105.82 95.91L106.13 95.79L106.43 95.67L106.74 95.56L107.05 95.44L107.36 95.32L107.66 95.2L107.97 95.09L108.28 94.97L108.59 94.85L108.89 94.73L109.2 94.61L109.51 94.5L109.82 94.38L110.12 94.26L110.43 94.14L110.74 94.02L111.05 93.9L111.35 93.78L111.66 93.67L111.97 93.55L112.28 93.43L112.58 93.31L112.89 93.19L113.2 93.07L113.51 92.95L113.81 92.83L114.12 92.71L114.43 92.59L114.74 92.47L115.04 92.35L115.35 92.23L115.66 92.11L115.97 91.99L116.27 91.87L116.58 91.75L116.89 91.63L117.2 91.51L117.5 91.39L117.81 91.27L118.12 91.15L118.43 91.03L118.73 90.91L119.04 90.79L119.35 90.67L119.66 90.54L119.96 90.42L120.27 90.3L120.58 90.18L120.88 90.06L121.19 89.94L121.5 89.81L121.81 89.69L122.11 89.57L122.42 89.45L122.73 89.33L123.04 89.2L123.34 89.08L123.65 88.96L123.96 88.83L124.27 88.71L124.57 88.59L124.88 88.47L125.19 88.34L125.5 88.22L125.8 88.1L126.11 87.97L126.42 87.85L126.73 87.72L127.03 87.6L127.34 87.48L127.65 87.35L127.96 87.23L128.26 87.1L128.57 86.98L128.88 86.85L129.19 86.73L129.49 86.6L129.8 86.48L130.11 86.35L130.42 86.23L130.72 86.1L131.03 85.97L131.34 85.85L131.65 85.72L131.95 85.59L132.26 85.47L132.57 85.34L132.88 85.21L133.18 85.09L133.49 84.96L133.8 84.83L134.11 84.7L134.41 84.57L134.72 84.44L135.03 84.31L135.34 84.18L135.64 84.05L135.95 83.92L136.26 83.79L136.57 83.66L136.87 83.53L137.18 83.4L137.49 83.27L137.8 83.13L138.1 83L138.41 82.87L138.72 82.73L139.03 82.6L139.33 82.46L139.64 82.32L139.95 82.19L140.26 82.05L140.56 81.91L140.87 81.77L141.18 81.63L141.49 81.49L141.79 81.34L142.1 81.2L142.41 81.05L142.72 80.91L143.02 80.76L143.33 80.61L143.64 80.46L143.94 80.3L144.25 80.15L144.56 79.99L144.87 79.83L145.17 79.67L145.48 79.51L145.79 79.34L146.1 79.18L146.4 79L146.71 78.83L147.02 78.65L147.33 78.47L147.63 78.29L147.94 78.1L148.25 77.91L148.56 77.71L148.86 77.51L149.17 77.31L149.48 77.1L149.79 76.88L150.09 76.66L150.4 76.44L150.71 76.2L151.02 75.97L151.32 75.72L151.63 75.46L151.94 75.2L152.25 74.93L152.55 74.65L152.86 74.36L153.17 74.05L153.48 73.74L153.78 73.41L154.09 73.06L154.4 72.69L154.71 72.3L155.01 71.88L155.32 71.41L155.63 70.89L155.94 70.25L156.24 69.28L156.55 67.88L156.86 66.9L157.17 65.93L157.47 64.96L157.78 64L158.09 63.04L158.4 62.1L158.7 61.93L159.01 61.82L159.32 61.7L159.63 61.59L159.93 61.47L160.24 61.22L160.55 60.96L160.86 60.7L161.16 60.43L161.47 60.17L161.78 59.91L162.09 59.65L162.39 59.39L162.7 59.13L163.01 58.87L163.32 58.61L163.62 58.35L163.93 58.09L164.24 57.83L164.55 57.57L164.85 57.31L165.16 57.05L165.47 56.79ZM168.73 49.86L168.4 49.98L168.06 50.1L167.72 50.22L167.38 50.35L167.05 50.47L166.71 50.59L166.37 50.72L166.04 50.84L165.7 50.96L165.36 51.09L165.02 51.21L164.69 51.33L164.35 51.46L164.01 51.58L163.67 51.7L163.34 51.83L163 51.95L162.66 52.08L162.33 52.2L161.99 52.32L161.65 52.45L161.31 52.57L160.98 52.7L160.64 52.82L160.3 52.95L159.96 53.07L159.63 53.2L159.29 53.32L158.95 53.45L158.61 53.57L158.28 53.7L157.94 53.82L157.6 53.95L157.27 54.08L156.93 54.2L156.59 54.33L156.25 54.45L155.92 54.58L155.58 54.71L155.24 54.83L154.9 54.96L154.57 55.09L154.23 55.21L153.89 55.34L153.56 55.47L153.22 55.6L152.88 55.72L152.54 55.85L152.21 55.98L151.87 56.11L151.53 56.24L151.19 56.36L150.86 56.49L150.52 56.62L150.18 56.75L149.85 56.88L149.51 57.01L149.17 57.14L148.83 57.27L148.5 57.4L148.16 57.53L147.82 57.66L147.48 57.79L147.15 57.92L146.81 58.05L146.47 58.18L146.14 58.31L145.8 58.44L145.46 58.57L145.12 58.71L144.79 58.84L144.45 58.97L144.11 59.1L143.77 59.24L143.44 59.37L143.1 59.5L142.76 59.64L142.42 59.77L142.09 59.9L141.75 60.04L141.41 60.17L141.08 60.31L140.74 60.44L140.4 60.58L140.06 60.71L139.73 60.85L139.39 60.99L139.05 61.12L138.71 61.26L138.38 61.4L138.04 61.54L137.7 61.67L137.37 61.81L137.03 61.95L136.69 62.09L136.35 62.23L136.02 62.37L135.68 62.51L135.34 62.65L135 62.79L134.67 62.93L134.33 63.08L133.99 63.22L133.66 63.36L133.32 63.51L132.98 63.65L132.64 63.79L132.31 63.94L131.97 64.08L131.63 64.23L131.29 64.38L130.96 64.52L130.62 64.67L130.28 64.82L129.94 64.97L129.61 65.12L129.27 65.27L128.93 65.42L128.6 65.57L128.26 65.72L127.92 65.88L127.58 66.03L127.25 66.18L126.91 66.34L126.57 66.49L126.23 66.65L125.9 66.81L125.56 66.96L125.22 67.12L124.89 67.28L124.55 67.44L124.21 67.6L123.87 67.77L123.54 67.93L123.2 68.09L122.86 68.26L122.52 68.43L122.19 68.59L121.85 68.76L121.51 68.93L121.18 69.1L120.84 69.27L120.5 69.44L120.16 69.62L119.83 69.79L119.49 69.97L119.15 70.15L118.81 70.33L118.48 70.51L118.14 70.69L117.8 70.87L117.46 71.06L117.13 71.25L116.79 71.43L116.45 71.62L116.12 71.82L115.78 72.01L115.44 72.21L115.1 72.4L114.77 72.6L114.43 72.81L114.09 73.01L113.75 73.22L113.42 73.43L113.08 73.64L112.74 73.85L112.41 74.07L112.07 74.29L111.73 74.52L111.39 74.75L111.06 74.98L110.72 75.22L110.38 75.46L110.04 75.71L109.71 75.96L109.37 76.22L109.03 76.49L108.7 76.77L108.36 77.05L108.02 77.35L107.68 77.66L107.35 77.98L107.01 78.31L106.67 78.66L106.33 79.03L106 79.42L105.66 79.83L105.32 80.27L104.99 80.73L104.65 81.23L104.31 81.75L103.97 82.32L103.64 82.93L103.3 83.58L102.96 84.3L102.62 85.08L102.29 85.97L101.95 87L101.61 88.5L101.27 90.14L100.94 91.52L100.6 92.88L100.26 94.23L99.93 95.54L99.59 96.81L99.25 98.04L98.91 99.22L98.58 100.35L98.24 101.42L97.9 102.45L97.56 103.42L97.23 103.94L96.89 104.23L96.55 104.52L96.22 104.8L95.88 105.09L95.54 105.38L95.2 105.67L94.87 105.96L95.2 105.83L95.54 105.7L95.88 105.58L96.22 105.45L96.55 105.32L96.89 105.19L97.23 105.07L97.56 104.94L97.9 104.81L98.24 104.68L98.58 104.55L98.91 104.43L99.25 104.3L99.59 104.17L99.93 104.04L100.26 103.91L100.6 103.78L100.94 103.65L101.27 103.52L101.61 103.39L101.95 103.26L102.29 103.13L102.62 103L102.96 102.87L103.3 102.74L103.64 102.61L103.97 102.47L104.31 102.34L104.65 102.21L104.99 102.08L105.32 101.95L105.66 101.81L106 101.68L106.33 101.55L106.67 101.41L107.01 101.28L107.35 101.15L107.68 101.01L108.02 100.88L108.36 100.74L108.7 100.61L109.03 100.48L109.37 100.34L109.71 100.2L110.04 100.07L110.38 99.93L110.72 99.8L111.06 99.66L111.39 99.52L111.73 99.39L112.07 99.25L112.41 99.11L112.74 98.98L113.08 98.84L113.42 98.7L113.75 98.56L114.09 98.42L114.43 98.29L114.77 98.15L115.1 98.01L115.44 97.87L115.78 97.73L116.12 97.59L116.45 97.45L116.79 97.31L117.13 97.17L117.46 97.03L117.8 96.89L118.14 96.75L118.48 96.6L118.81 96.46L119.15 96.32L119.49 96.18L119.83 96.04L120.16 95.89L120.5 95.75L120.84 95.61L121.18 95.46L121.51 95.32L121.85 95.17L122.19 95.03L122.52 94.88L122.86 94.74L123.2 94.59L123.54 94.45L123.87 94.3L124.21 94.16L124.55 94.01L124.89 93.86L125.22 93.72L125.56 93.57L125.9 93.42L126.23 93.27L126.57 93.12L126.91 92.98L127.25 92.83L127.58 92.68L127.92 92.53L128.26 92.38L128.6 92.23L128.93 92.08L129.27 91.92L129.61 91.77L129.94 91.62L130.28 91.47L130.62 91.32L130.96 91.16L131.29 91.01L131.63 90.85L131.97 90.7L132.31 90.54L132.64 90.39L132.98 90.23L133.32 90.07L133.66 89.92L133.99 89.76L134.33 89.6L134.67 89.44L135 89.28L135.34 89.12L135.68 88.95L136.02 88.79L136.35 88.63L136.69 88.46L137.03 88.3L137.37 88.13L137.7 87.96L138.04 87.79L138.38 87.62L138.71 87.45L139.05 87.27L139.39 87.1L139.73 86.92L140.06 86.74L140.4 86.56L140.74 86.37L141.08 86.19L141.41 86L141.75 85.81L142.09 85.61L142.42 85.42L142.76 85.22L143.1 85.01L143.44 84.81L143.77 84.59L144.11 84.38L144.45 84.16L144.79 83.94L145.12 83.71L145.46 83.47L145.8 83.23L146.14 82.98L146.47 82.73L146.81 82.47L147.15 82.2L147.48 81.93L147.82 81.65L148.16 81.36L148.5 81.05L148.83 80.74L149.17 80.42L149.51 80.09L149.85 79.75L150.18 79.4L150.52 79.03L150.86 78.65L151.19 78.25L151.53 77.85L151.87 77.42L152.21 76.98L152.54 76.52L152.88 76.04L153.22 75.55L153.56 75.03L153.89 74.48L154.23 73.91L154.57 73.31L154.9 72.66L155.24 71.97L155.58 71.2L155.92 70.32L156.25 69.09L156.59 67.75L156.93 66.68L157.27 65.61L157.6 64.55L157.94 63.5L158.28 62.46L158.61 61.43L158.95 60.42L159.29 59.43L159.63 58.46L159.96 57.51L160.3 56.57L160.64 55.66L160.98 55.34L161.31 55.21L161.65 55.09L161.99 54.97L162.33 54.84L162.66 54.72L163 54.59L163.34 54.41L163.67 54.12L164.01 53.84L164.35 53.55L164.69 53.27L165.02 52.98L165.36 52.7L165.7 52.41L166.04 52.13L166.37 51.84L166.71 51.56L167.05 51.28L167.38 50.99L167.72 50.71L168.06 50.42L168.4 50.14L168.73 49.86ZM173.51 42.79L173.13 42.93L172.75 43.06L172.36 43.2L171.98 43.33L171.6 43.47L171.22 43.6L170.84 43.74L170.46 43.88L170.08 44.01L169.7 44.15L169.32 44.29L168.94 44.42L168.56 44.56L168.18 44.7L167.79 44.83L167.41 44.97L167.03 45.11L166.65 45.25L166.27 45.38L165.89 45.52L165.51 45.66L165.13 45.8L164.75 45.94L164.37 46.08L163.99 46.21L163.6 46.35L163.22 46.49L162.84 46.63L162.46 46.77L162.08 46.91L161.7 47.05L161.32 47.19L160.94 47.33L160.56 47.47L160.18 47.61L159.8 47.76L159.41 47.9L159.03 48.04L158.65 48.18L158.27 48.32L157.89 48.47L157.51 48.61L157.13 48.75L156.75 48.89L156.37 49.04L155.99 49.18L155.61 49.32L155.22 49.47L154.84 49.61L154.46 49.76L154.08 49.9L153.7 50.05L153.32 50.19L152.94 50.34L152.56 50.49L152.18 50.63L151.8 50.78L151.42 50.93L151.03 51.07L150.65 51.22L150.27 51.37L149.89 51.52L149.51 51.67L149.13 51.82L148.75 51.97L148.37 52.12L147.99 52.27L147.61 52.42L147.23 52.57L146.85 52.72L146.46 52.87L146.08 53.02L145.7 53.18L145.32 53.33L144.94 53.49L144.56 53.64L144.18 53.79L143.8 53.95L143.42 54.11L143.04 54.26L142.66 54.42L142.27 54.58L141.89 54.73L141.51 54.89L141.13 55.05L140.75 55.21L140.37 55.37L139.99 55.53L139.61 55.7L139.23 55.86L138.85 56.02L138.47 56.18L138.08 56.35L137.7 56.51L137.32 56.68L136.94 56.85L136.56 57.01L136.18 57.18L135.8 57.35L135.42 57.52L135.04 57.69L134.66 57.86L134.28 58.03L133.89 58.21L133.51 58.38L133.13 58.56L132.75 58.73L132.37 58.91L131.99 59.09L131.61 59.27L131.23 59.45L130.85 59.63L130.47 59.81L130.09 60L129.71 60.18L129.32 60.37L128.94 60.55L128.56 60.74L128.18 60.93L127.8 61.12L127.42 61.32L127.04 61.51L126.66 61.71L126.28 61.9L125.9 62.1L125.52 62.3L125.13 62.51L124.75 62.71L124.37 62.92L123.99 63.12L123.61 63.33L123.23 63.54L122.85 63.76L122.47 63.97L122.09 64.19L121.71 64.41L121.33 64.63L120.94 64.85L120.56 65.08L120.18 65.31L119.8 65.54L119.42 65.77L119.04 66.01L118.66 66.25L118.28 66.49L117.9 66.73L117.52 66.98L117.14 67.23L116.75 67.48L116.37 67.74L115.99 68L115.61 68.26L115.23 68.53L114.85 68.8L114.47 69.08L114.09 69.36L113.71 69.64L113.33 69.93L112.95 70.23L112.57 70.53L112.18 70.83L111.8 71.15L111.42 71.47L111.04 71.8L110.66 72.13L110.28 72.48L109.9 72.84L109.52 73.2L109.14 73.59L108.76 73.98L108.38 74.39L107.99 74.83L107.61 75.28L107.23 75.76L106.85 76.26L106.47 76.79L106.09 77.36L105.71 77.96L105.33 78.61L104.95 79.3L104.57 80.04L104.19 80.83L103.8 81.69L103.42 82.61L103.04 83.61L102.66 84.69L102.28 85.89L101.9 87.26L101.52 89.14L101.14 90.7L100.76 92.25L100.38 93.78L100 95.27L99.61 96.71L99.23 98.1L98.85 99.42L98.47 100.68L98.09 101.88L97.71 103.01L97.33 104.07L96.95 105.07L96.57 106.02L96.19 106.9L95.81 107.74L95.42 108.53L95.04 109.1L94.66 109.43L94.28 109.75L93.9 110.08L93.52 110.4L93.14 110.73L92.76 111.05L92.38 111.37L92 111.7L91.62 112.02L91.24 112.34L90.85 112.66L90.47 112.98L90.09 113.31L90.47 113.17L90.85 113.03L91.24 112.89L91.62 112.75L92 112.61L92.38 112.47L92.76 112.32L93.14 112.18L93.52 112.04L93.9 111.9L94.28 111.76L94.66 111.61L95.04 111.47L95.42 111.32L95.81 111.18L96.19 111.04L96.57 110.89L96.95 110.74L97.33 110.6L97.71 110.45L98.09 110.31L98.47 110.16L98.85 110.01L99.23 109.86L99.61 109.71L100 109.57L100.38 109.42L100.76 109.27L101.14 109.12L101.52 108.97L101.9 108.82L102.28 108.66L102.66 108.51L103.04 108.36L103.42 108.21L103.8 108.05L104.19 107.9L104.57 107.75L104.95 107.59L105.33 107.44L105.71 107.28L106.09 107.13L106.47 106.97L106.85 106.81L107.23 106.66L107.61 106.5L107.99 106.34L108.38 106.18L108.76 106.03L109.14 105.87L109.52 105.71L109.9 105.55L110.28 105.39L110.66 105.22L111.04 105.06L111.42 104.9L111.8 104.74L112.18 104.57L112.57 104.41L112.95 104.25L113.33 104.08L113.71 103.92L114.09 103.75L114.47 103.59L114.85 103.42L115.23 103.25L115.61 103.09L115.99 102.92L116.37 102.75L116.75 102.58L117.14 102.41L117.52 102.24L117.9 102.07L118.28 101.9L118.66 101.73L119.04 101.55L119.42 101.38L119.8 101.21L120.18 101.04L120.56 100.86L120.94 100.69L121.33 100.51L121.71 100.34L122.09 100.16L122.47 99.98L122.85 99.8L123.23 99.63L123.61 99.45L123.99 99.27L124.37 99.09L124.75 98.91L125.13 98.73L125.52 98.55L125.9 98.36L126.28 98.18L126.66 98L127.04 97.81L127.42 97.63L127.8 97.44L128.18 97.26L128.56 97.07L128.94 96.88L129.32 96.69L129.71 96.5L130.09 96.31L130.47 96.12L130.85 95.93L131.23 95.74L131.61 95.54L131.99 95.35L132.37 95.15L132.75 94.95L133.13 94.76L133.51 94.56L133.89 94.36L134.28 94.15L134.66 93.95L135.04 93.75L135.42 93.54L135.8 93.33L136.18 93.12L136.56 92.91L136.94 92.69L137.32 92.48L137.7 92.26L138.08 92.04L138.47 91.81L138.85 91.59L139.23 91.36L139.61 91.12L139.99 90.89L140.37 90.64L140.75 90.4L141.13 90.15L141.51 89.9L141.89 89.64L142.27 89.37L142.66 89.1L143.04 88.82L143.42 88.54L143.8 88.24L144.18 87.94L144.56 87.63L144.94 87.32L145.32 86.99L145.7 86.65L146.08 86.3L146.46 85.94L146.85 85.56L147.23 85.18L147.61 84.77L147.99 84.35L148.37 83.92L148.75 83.47L149.13 83L149.51 82.51L149.89 82L150.27 81.48L150.65 80.92L151.03 80.35L151.42 79.75L151.8 79.13L152.18 78.49L152.56 77.81L152.94 77.11L153.32 76.38L153.7 75.61L154.08 74.82L154.46 73.98L154.84 73.1L155.22 72.16L155.61 71.14L155.99 69.99L156.37 68.46L156.75 67.25L157.13 66.04L157.51 64.84L157.89 63.65L158.27 62.48L158.65 61.32L159.03 60.18L159.41 59.07L159.8 57.98L160.18 56.92L160.56 55.88L160.94 54.88L161.32 53.9L161.7 52.96L162.08 52.05L162.46 51.17L162.84 50.32L163.22 49.5L163.6 49L163.99 48.86L164.37 48.72L164.75 48.58L165.13 48.44L165.51 48.3L165.89 48.16L166.27 48.03L166.65 47.89L167.03 47.75L167.41 47.61L167.79 47.48L168.18 47.24L168.56 46.93L168.94 46.61L169.32 46.29L169.7 45.97L170.08 45.65L170.46 45.33L170.84 45.01L171.22 44.7L171.6 44.38L171.98 44.06L172.36 43.74L172.75 43.43L173.13 43.11L173.51 42.79ZM177.03 38.6L176.61 38.74L176.2 38.89L175.79 39.03L175.37 39.17L174.96 39.32L174.55 39.46L174.13 39.61L173.72 39.75L173.31 39.9L172.89 40.04L172.48 40.19L172.07 40.33L171.66 40.48L171.24 40.62L170.83 40.77L170.42 40.92L170 41.06L169.59 41.21L169.18 41.36L168.76 41.5L168.35 41.65L167.94 41.8L167.53 41.95L167.11 42.1L166.7 42.24L166.29 42.39L165.87 42.54L165.46 42.69L165.05 42.84L164.63 42.99L164.22 43.14L163.81 43.29L163.4 43.44L162.98 43.59L162.57 43.74L162.16 43.89L161.74 44.05L161.33 44.2L160.92 44.35L160.5 44.5L160.09 44.65L159.68 44.81L159.27 44.96L158.85 45.12L158.44 45.27L158.03 45.42L157.61 45.58L157.2 45.73L156.79 45.89L156.37 46.05L155.96 46.2L155.55 46.36L155.14 46.52L154.72 46.67L154.31 46.83L153.9 46.99L153.48 47.15L153.07 47.31L152.66 47.47L152.24 47.63L151.83 47.79L151.42 47.95L151.01 48.11L150.59 48.27L150.18 48.44L149.77 48.6L149.35 48.76L148.94 48.93L148.53 49.09L148.11 49.26L147.7 49.42L147.29 49.59L146.88 49.76L146.46 49.92L146.05 50.09L145.64 50.26L145.22 50.43L144.81 50.6L144.4 50.77L143.98 50.94L143.57 51.12L143.16 51.29L142.74 51.46L142.33 51.64L141.92 51.81L141.51 51.99L141.09 52.17L140.68 52.35L140.27 52.53L139.85 52.71L139.44 52.89L139.03 53.07L138.61 53.25L138.2 53.43L137.79 53.62L137.38 53.81L136.96 53.99L136.55 54.18L136.14 54.37L135.72 54.56L135.31 54.75L134.9 54.94L134.48 55.14L134.07 55.33L133.66 55.53L133.25 55.73L132.83 55.93L132.42 56.13L132.01 56.33L131.59 56.54L131.18 56.74L130.77 56.95L130.35 57.16L129.94 57.37L129.53 57.58L129.12 57.79L128.7 58.01L128.29 58.23L127.88 58.45L127.46 58.67L127.05 58.89L126.64 59.12L126.22 59.35L125.81 59.58L125.4 59.81L124.99 60.04L124.57 60.28L124.16 60.52L123.75 60.76L123.33 61.01L122.92 61.26L122.51 61.51L122.09 61.76L121.68 62.02L121.27 62.28L120.86 62.54L120.44 62.81L120.03 63.08L119.62 63.35L119.2 63.63L118.79 63.91L118.38 64.19L117.96 64.48L117.55 64.77L117.14 65.07L116.72 65.37L116.31 65.68L115.9 65.99L115.49 66.31L115.07 66.63L114.66 66.96L114.25 67.29L113.83 67.63L113.42 67.97L113.01 68.33L112.59 68.69L112.18 69.06L111.77 69.44L111.36 69.82L110.94 70.22L110.53 70.64L110.12 71.06L109.7 71.5L109.29 71.96L108.88 72.44L108.46 72.94L108.05 73.46L107.64 74.01L107.23 74.6L106.81 75.22L106.4 75.88L105.99 76.58L105.57 77.34L105.16 78.15L104.75 79.03L104.33 79.97L103.92 80.99L103.51 82.08L103.1 83.26L102.68 84.54L102.27 85.93L101.86 87.51L101.44 89.45L101.03 91.14L100.62 92.81L100.2 94.45L99.79 96.05L99.38 97.58L98.97 99.04L98.55 100.42L98.14 101.73L97.73 102.96L97.31 104.11L96.9 105.19L96.49 106.21L96.07 107.16L95.66 108.05L95.25 108.89L94.84 109.68L94.42 110.43L94.01 111.15L93.6 111.83L93.18 112.48L92.77 112.8L92.36 112.95L91.94 113.18L91.53 113.53L91.12 113.88L90.71 114.23L90.29 114.57L89.88 114.92L89.47 115.27L89.05 115.61L88.64 115.96L88.23 116.31L87.81 116.65L87.4 117L86.99 117.34L86.58 117.68L86.99 117.54L87.4 117.39L87.81 117.24L88.23 117.1L88.64 116.95L89.05 116.8L89.47 116.65L89.88 116.5L90.29 116.35L90.71 116.2L91.12 116.05L91.53 115.9L91.94 115.74L92.36 115.59L92.77 115.44L93.18 115.28L93.6 115.13L94.01 114.98L94.42 114.82L94.84 114.66L95.25 114.51L95.66 114.35L96.07 114.19L96.49 114.03L96.9 113.87L97.31 113.72L97.73 113.56L98.14 113.39L98.55 113.23L98.97 113.07L99.38 112.91L99.79 112.75L100.2 112.58L100.62 112.42L101.03 112.25L101.44 112.09L101.86 111.92L102.27 111.76L102.68 111.59L103.1 111.42L103.51 111.25L103.92 111.08L104.33 110.91L104.75 110.74L105.16 110.57L105.57 110.4L105.99 110.23L106.4 110.05L106.81 109.88L107.23 109.71L107.64 109.53L108.05 109.36L108.46 109.18L108.88 109L109.29 108.82L109.7 108.65L110.12 108.47L110.53 108.29L110.94 108.11L111.36 107.93L111.77 107.74L112.18 107.56L112.59 107.38L113.01 107.19L113.42 107.01L113.83 106.82L114.25 106.64L114.66 106.45L115.07 106.26L115.49 106.08L115.9 105.89L116.31 105.7L116.73 105.51L117.14 105.32L117.55 105.13L117.96 104.93L118.38 104.74L118.79 104.55L119.2 104.35L119.62 104.16L120.03 103.96L120.44 103.76L120.86 103.56L121.27 103.37L121.68 103.17L122.09 102.97L122.51 102.76L122.92 102.56L123.33 102.36L123.75 102.16L124.16 101.95L124.57 101.75L124.99 101.54L125.4 101.33L125.81 101.13L126.22 100.92L126.64 100.71L127.05 100.5L127.46 100.29L127.88 100.07L128.29 99.86L128.7 99.65L129.12 99.43L129.53 99.21L129.94 99L130.35 98.78L130.77 98.56L131.18 98.33L131.59 98.11L132.01 97.89L132.42 97.66L132.83 97.43L133.25 97.2L133.66 96.97L134.07 96.74L134.48 96.5L134.9 96.27L135.31 96.03L135.72 95.79L136.14 95.54L136.55 95.29L136.96 95.04L137.38 94.79L137.79 94.53L138.2 94.27L138.61 94.01L139.03 93.74L139.44 93.47L139.85 93.19L140.27 92.91L140.68 92.62L141.09 92.32L141.51 92.02L141.92 91.71L142.33 91.39L142.74 91.07L143.16 90.73L143.57 90.38L143.98 90.03L144.4 89.66L144.81 89.28L145.22 88.89L145.64 88.48L146.05 88.05L146.46 87.61L146.88 87.15L147.29 86.68L147.7 86.18L148.11 85.66L148.53 85.12L148.94 84.55L149.35 83.96L149.77 83.35L150.18 82.71L150.59 82.03L151.01 81.33L151.42 80.6L151.83 79.84L152.24 79.04L152.66 78.21L153.07 77.35L153.48 76.45L153.9 75.51L154.31 74.53L154.72 73.5L155.14 72.42L155.55 71.27L155.96 70.01L156.37 68.44L156.79 67.13L157.2 65.82L157.61 64.52L158.03 63.23L158.44 61.97L158.85 60.72L159.27 59.5L159.68 58.31L160.09 57.15L160.5 56.02L160.92 54.93L161.33 53.87L161.74 52.85L162.16 51.87L162.57 50.92L162.98 50.02L163.4 49.14L163.81 48.31L164.22 47.51L164.63 46.74L165.05 46L165.46 45.33L165.87 45.18L166.29 45.03L166.7 44.89L167.11 44.74L167.53 44.59L167.94 44.44L168.35 44.29L168.76 44.15L169.18 44L169.59 43.85L170 43.71L170.42 43.56L170.83 43.41L171.24 43.27L171.66 43.04L172.07 42.7L172.48 42.36L172.89 42.02L173.31 41.67L173.72 41.33L174.13 40.99L174.55 40.65L174.96 40.3L175.37 39.96L175.79 39.62L176.2 39.28L176.61 38.94L177.03 38.6ZM180.29 35.35L179.85 35.5L179.41 35.65L178.96 35.8L178.52 35.95L178.08 36.11L177.63 36.26L177.19 36.41L176.75 36.56L176.31 36.71L175.86 36.87L175.42 37.02L174.98 37.17L174.53 37.33L174.09 37.48L173.65 37.64L173.21 37.79L172.76 37.94L172.32 38.1L171.88 38.25L171.43 38.41L170.99 38.56L170.55 38.72L170.11 38.88L169.66 39.03L169.22 39.19L168.78 39.35L168.33 39.5L167.89 39.66L167.45 39.82L167.01 39.98L166.56 40.14L166.12 40.29L165.68 40.45L165.23 40.61L164.79 40.77L164.35 40.93L163.91 41.09L163.46 41.25L163.02 41.42L162.58 41.58L162.13 41.74L161.69 41.9L161.25 42.06L160.81 42.23L160.36 42.39L159.92 42.55L159.48 42.72L159.03 42.88L158.59 43.05L158.15 43.22L157.71 43.38L157.26 43.55L156.82 43.72L156.38 43.88L155.93 44.05L155.49 44.22L155.05 44.39L154.61 44.56L154.16 44.73L153.72 44.9L153.28 45.07L152.84 45.24L152.39 45.42L151.95 45.59L151.51 45.76L151.06 45.94L150.62 46.11L150.18 46.29L149.74 46.47L149.29 46.64L148.85 46.82L148.41 47L147.96 47.18L147.52 47.36L147.08 47.54L146.64 47.72L146.19 47.91L145.75 48.09L145.31 48.27L144.86 48.46L144.42 48.64L143.98 48.83L143.54 49.02L143.09 49.21L142.65 49.4L142.21 49.59L141.76 49.78L141.32 49.98L140.88 50.17L140.44 50.37L139.99 50.56L139.55 50.76L139.11 50.96L138.66 51.16L138.22 51.36L137.78 51.56L137.34 51.77L136.89 51.97L136.45 52.18L136.01 52.39L135.56 52.6L135.12 52.81L134.68 53.03L134.24 53.24L133.79 53.46L133.35 53.68L132.91 53.9L132.46 54.12L132.02 54.35L131.58 54.57L131.14 54.8L130.69 55.03L130.25 55.26L129.81 55.5L129.36 55.74L128.92 55.98L128.48 56.22L128.04 56.46L127.59 56.71L127.15 56.96L126.71 57.21L126.26 57.47L125.82 57.73L125.38 57.99L124.94 58.25L124.49 58.52L124.05 58.79L123.61 59.07L123.16 59.34L122.72 59.63L122.28 59.91L121.84 60.2L121.39 60.49L120.95 60.79L120.51 61.09L120.06 61.4L119.62 61.71L119.18 62.03L118.74 62.35L118.29 62.67L117.85 63L117.41 63.34L116.96 63.68L116.52 64.03L116.08 64.38L115.64 64.74L115.19 65.1L114.75 65.48L114.31 65.86L113.86 66.25L113.42 66.65L112.98 67.05L112.54 67.47L112.09 67.9L111.65 68.34L111.21 68.79L110.76 69.26L110.32 69.74L109.88 70.24L109.44 70.77L108.99 71.31L108.55 71.89L108.11 72.49L107.67 73.13L107.22 73.81L106.78 74.53L106.34 75.3L105.89 76.14L105.45 77.03L105.01 78L104.57 79.05L104.12 80.17L103.68 81.39L103.24 82.71L102.79 84.12L102.35 85.65L101.91 87.34L101.47 89.36L101.02 91.17L100.58 92.97L100.14 94.72L99.69 96.41L99.25 98.04L98.81 99.57L98.37 101.03L97.92 102.39L97.48 103.66L97.04 104.85L96.59 105.95L96.15 106.98L95.71 107.95L95.27 108.85L94.82 109.71L94.38 110.51L93.94 111.27L93.49 111.99L93.05 112.69L92.61 113.35L92.17 113.98L91.72 114.6L91.28 115.19L90.84 115.77L90.39 115.93L89.95 116.09L89.51 116.25L89.07 116.41L88.62 116.67L88.18 117.04L87.74 117.41L87.29 117.78L86.85 118.15L86.41 118.51L85.97 118.88L85.52 119.24L85.08 119.61L84.64 119.97L84.19 120.34L83.75 120.7L83.31 121.06L83.75 120.91L84.19 120.76L84.64 120.61L85.08 120.46L85.52 120.3L85.97 120.15L86.41 119.99L86.85 119.84L87.29 119.68L87.74 119.53L88.18 119.37L88.62 119.21L89.07 119.05L89.51 118.89L89.95 118.73L90.39 118.57L90.84 118.41L91.28 118.25L91.72 118.09L92.17 117.92L92.61 117.76L93.05 117.59L93.49 117.43L93.94 117.26L94.38 117.09L94.82 116.93L95.27 116.76L95.71 116.59L96.15 116.42L96.59 116.25L97.04 116.08L97.48 115.9L97.92 115.73L98.37 115.56L98.81 115.38L99.25 115.21L99.69 115.03L100.14 114.85L100.58 114.68L101.02 114.5L101.47 114.32L101.91 114.14L102.35 113.96L102.79 113.78L103.24 113.59L103.68 113.41L104.12 113.23L104.57 113.04L105.01 112.85L105.45 112.67L105.89 112.48L106.34 112.29L106.78 112.1L107.22 111.91L107.67 111.72L108.11 111.53L108.55 111.34L108.99 111.14L109.44 110.95L109.88 110.75L110.32 110.56L110.76 110.36L111.21 110.16L111.65 109.96L112.09 109.76L112.54 109.56L112.98 109.36L113.42 109.15L113.86 108.95L114.31 108.75L114.75 108.54L115.19 108.33L115.64 108.13L116.08 107.92L116.52 107.71L116.96 107.5L117.41 107.29L117.85 107.08L118.29 106.86L118.74 106.65L119.18 106.43L119.62 106.22L120.06 106L120.51 105.78L120.95 105.56L121.39 105.34L121.84 105.12L122.28 104.9L122.72 104.67L123.16 104.45L123.61 104.22L124.05 104L124.49 103.77L124.94 103.54L125.38 103.31L125.82 103.08L126.26 102.85L126.71 102.61L127.15 102.38L127.59 102.14L128.04 101.91L128.48 101.67L128.92 101.43L129.36 101.18L129.81 100.94L130.25 100.7L130.69 100.45L131.14 100.2L131.58 99.95L132.02 99.7L132.46 99.45L132.91 99.19L133.35 98.93L133.79 98.67L134.24 98.41L134.68 98.15L135.12 97.88L135.56 97.61L136.01 97.33L136.45 97.05L136.89 96.77L137.34 96.49L137.78 96.2L138.22 95.9L138.66 95.6L139.11 95.3L139.55 94.98L139.99 94.67L140.44 94.34L140.88 94.01L141.32 93.67L141.76 93.32L142.21 92.95L142.65 92.58L143.09 92.2L143.54 91.8L143.98 91.39L144.42 90.97L144.86 90.53L145.31 90.07L145.75 89.59L146.19 89.09L146.64 88.57L147.08 88.03L147.52 87.46L147.96 86.87L148.41 86.25L148.85 85.6L149.29 84.92L149.74 84.2L150.18 83.45L150.62 82.67L151.06 81.85L151.51 80.99L151.95 80.1L152.39 79.17L152.84 78.19L153.28 77.18L153.72 76.12L154.16 75.02L154.61 73.87L155.05 72.67L155.49 71.41L155.93 70.04L156.38 68.43L156.82 67.02L157.26 65.62L157.71 64.23L158.15 62.85L158.59 61.5L159.03 60.18L159.48 58.89L159.92 57.63L160.36 56.4L160.81 55.22L161.25 54.08L161.69 52.98L162.13 51.92L162.58 50.91L163.02 49.93L163.46 49L163.91 48.11L164.35 47.26L164.79 46.45L165.23 45.68L165.68 44.94L166.12 44.23L166.56 43.56L167.01 42.91L167.45 42.46L167.89 42.3L168.33 42.15L168.78 41.99L169.22 41.83L169.66 41.67L170.11 41.52L170.55 41.36L170.99 41.21L171.43 41.05L171.88 40.9L172.32 40.74L172.76 40.59L173.21 40.43L173.65 40.28L174.09 40.12L174.53 39.97L174.98 39.71L175.42 39.35L175.86 38.98L176.31 38.62L176.75 38.25L177.19 37.89L177.63 37.53L178.08 37.16L178.52 36.8L178.96 36.44L179.41 36.07L179.85 35.71L180.29 35.35ZM183.31 32.22L182.84 32.37L182.37 32.53L181.9 32.69L181.42 32.85L180.95 33L180.48 33.16L180.01 33.32L179.54 33.48L179.07 33.64L178.6 33.8L178.13 33.96L177.66 34.12L177.19 34.28L176.72 34.44L176.25 34.6L175.78 34.76L175.31 34.92L174.84 35.08L174.37 35.24L173.9 35.4L173.43 35.57L172.96 35.73L172.49 35.89L172.02 36.06L171.55 36.22L171.08 36.38L170.61 36.55L170.14 36.71L169.67 36.88L169.19 37.04L168.72 37.21L168.25 37.37L167.78 37.54L167.31 37.71L166.84 37.88L166.37 38.04L165.9 38.21L165.43 38.38L164.96 38.55L164.49 38.72L164.02 38.89L163.55 39.06L163.08 39.23L162.61 39.4L162.14 39.57L161.67 39.74L161.2 39.92L160.73 40.09L160.26 40.26L159.79 40.44L159.32 40.61L158.85 40.79L158.38 40.96L157.91 41.14L157.44 41.32L156.97 41.5L156.49 41.67L156.02 41.85L155.55 42.03L155.08 42.21L154.61 42.4L154.14 42.58L153.67 42.76L153.2 42.94L152.73 43.13L152.26 43.31L151.79 43.5L151.32 43.68L150.85 43.87L150.38 44.06L149.91 44.25L149.44 44.44L148.97 44.63L148.5 44.82L148.03 45.01L147.56 45.21L147.09 45.4L146.62 45.6L146.15 45.79L145.68 45.99L145.21 46.19L144.74 46.39L144.26 46.59L143.79 46.79L143.32 47L142.85 47.2L142.38 47.41L141.91 47.62L141.44 47.83L140.97 48.04L140.5 48.25L140.03 48.46L139.56 48.68L139.09 48.89L138.62 49.11L138.15 49.33L137.68 49.55L137.21 49.78L136.74 50L136.27 50.23L135.8 50.46L135.33 50.69L134.86 50.92L134.39 51.16L133.92 51.39L133.45 51.63L132.98 51.87L132.51 52.12L132.04 52.37L131.56 52.61L131.09 52.87L130.62 53.12L130.15 53.38L129.68 53.64L129.21 53.9L128.74 54.17L128.27 54.44L127.8 54.71L127.33 54.98L126.86 55.26L126.39 55.55L125.92 55.83L125.45 56.12L124.98 56.42L124.51 56.72L124.04 57.02L123.57 57.33L123.1 57.64L122.63 57.95L122.16 58.27L121.69 58.6L121.22 58.93L120.75 59.27L120.28 59.61L119.81 59.95L119.34 60.31L118.86 60.66L118.39 61.03L117.92 61.4L117.45 61.78L116.98 62.16L116.51 62.56L116.04 62.96L115.57 63.37L115.1 63.78L114.63 64.21L114.16 64.64L113.69 65.09L113.22 65.54L112.75 66.01L112.28 66.49L111.81 66.99L111.34 67.5L110.87 68.03L110.4 68.58L109.93 69.15L109.46 69.74L108.99 70.37L108.52 71.02L108.05 71.72L107.58 72.46L107.11 73.25L106.63 74.09L106.16 75L105.69 75.99L105.22 77.05L104.75 78.2L104.28 79.45L103.81 80.79L103.34 82.25L102.87 83.81L102.4 85.48L101.93 87.3L101.46 89.38L100.99 91.3L100.52 93.21L100.05 95.06L99.58 96.84L99.11 98.54L98.64 100.14L98.17 101.64L97.7 103.04L97.23 104.35L96.76 105.55L96.29 106.68L95.82 107.72L95.35 108.69L94.88 109.61L94.41 110.46L93.93 111.27L93.46 112.04L92.99 112.77L92.52 113.47L92.05 114.14L91.58 114.79L91.11 115.41L90.64 116.01L90.17 116.6L89.7 117.16L89.23 117.72L88.76 118.26L88.29 118.78L87.82 119.12L87.35 119.28L86.88 119.45L86.41 119.61L85.94 119.78L85.47 120.11L85 120.49L84.53 120.88L84.06 121.26L83.59 121.65L83.12 122.03L82.65 122.41L82.18 122.79L81.7 123.17L81.23 123.55L80.76 123.93L80.29 124.31L80.76 124.16L81.23 124L81.7 123.85L82.18 123.69L82.65 123.53L83.12 123.38L83.59 123.22L84.06 123.06L84.53 122.9L85 122.74L85.47 122.58L85.94 122.42L86.41 122.25L86.88 122.09L87.35 121.93L87.82 121.76L88.29 121.59L88.76 121.43L89.23 121.26L89.7 121.09L90.17 120.92L90.64 120.75L91.11 120.58L91.58 120.41L92.05 120.23L92.52 120.06L92.99 119.88L93.46 119.71L93.93 119.53L94.41 119.35L94.88 119.17L95.35 118.99L95.82 118.81L96.29 118.63L96.76 118.45L97.23 118.26L97.7 118.08L98.17 117.89L98.64 117.71L99.11 117.52L99.58 117.33L100.05 117.14L100.52 116.95L100.99 116.76L101.46 116.57L101.93 116.37L102.4 116.18L102.87 115.98L103.34 115.79L103.81 115.59L104.28 115.39L104.75 115.19L105.22 114.99L105.69 114.79L106.16 114.58L106.63 114.38L107.11 114.17L107.58 113.97L108.05 113.76L108.52 113.55L108.99 113.34L109.46 113.13L109.93 112.92L110.4 112.7L110.87 112.49L111.34 112.27L111.81 112.06L112.28 111.84L112.75 111.62L113.22 111.4L113.69 111.18L114.16 110.95L114.63 110.73L115.1 110.5L115.57 110.28L116.04 110.05L116.51 109.82L116.98 109.59L117.45 109.36L117.92 109.13L118.39 108.89L118.86 108.66L119.34 108.42L119.81 108.19L120.28 107.95L120.75 107.71L121.22 107.47L121.69 107.22L122.16 106.98L122.63 106.73L123.1 106.49L123.57 106.24L124.04 105.99L124.51 105.74L124.98 105.49L125.45 105.23L125.92 104.98L126.39 104.72L126.86 104.46L127.33 104.2L127.8 103.94L128.27 103.68L128.74 103.41L129.21 103.15L129.68 102.88L130.15 102.61L130.62 102.34L131.09 102.06L131.56 101.78L132.04 101.51L132.51 101.22L132.98 100.94L133.45 100.65L133.92 100.36L134.39 100.07L134.86 99.77L135.33 99.47L135.8 99.17L136.27 98.86L136.74 98.55L137.21 98.23L137.68 97.9L138.15 97.57L138.62 97.24L139.09 96.9L139.56 96.55L140.03 96.19L140.5 95.82L140.97 95.44L141.44 95.05L141.91 94.65L142.38 94.24L142.85 93.81L143.32 93.37L143.79 92.91L144.26 92.43L144.74 91.94L145.21 91.42L145.68 90.88L146.15 90.31L146.62 89.72L147.09 89.09L147.56 88.44L148.03 87.76L148.5 87.04L148.97 86.28L149.44 85.49L149.91 84.66L150.38 83.78L150.85 82.86L151.32 81.9L151.79 80.9L152.26 79.85L152.73 78.75L153.2 77.61L153.67 76.43L154.14 75.19L154.61 73.91L155.08 72.58L155.55 71.19L156.02 69.69L156.49 68.06L156.97 66.56L157.44 65.08L157.91 63.61L158.38 62.16L158.85 60.74L159.32 59.35L159.79 58L160.26 56.69L160.73 55.43L161.2 54.21L161.67 53.03L162.14 51.91L162.61 50.83L163.08 49.81L163.55 48.83L164.02 47.89L164.49 47L164.96 46.15L165.43 45.35L165.9 44.58L166.37 43.85L166.84 43.15L167.31 42.48L167.78 41.85L168.25 41.24L168.72 40.66L169.19 40.1L169.67 39.56L170.14 39.35L170.61 39.19L171.08 39.02L171.55 38.86L172.02 38.7L172.49 38.53L172.96 38.37L173.43 38.21L173.9 38.05L174.37 37.88L174.84 37.72L175.31 37.56L175.78 37.4L176.25 37.24L176.72 37.08L177.19 36.92L177.66 36.76L178.13 36.43L178.6 36.05L179.07 35.66L179.54 35.28L180.01 34.89L180.48 34.51L180.95 34.13L181.42 33.75L181.9 33.36L182.37 32.98L182.84 32.6L183.31 32.22ZM186.32 29.12L185.82 29.28L185.33 29.44L184.83 29.61L184.33 29.77L183.83 29.93L183.33 30.1L182.84 30.26L182.34 30.43L181.84 30.59L181.34 30.76L180.84 30.92L180.35 31.09L179.85 31.25L179.35 31.42L178.85 31.58L178.35 31.75L177.86 31.92L177.36 32.09L176.86 32.25L176.36 32.42L175.87 32.59L175.37 32.76L174.87 32.93L174.37 33.1L173.87 33.27L173.38 33.44L172.88 33.61L172.38 33.78L171.88 33.95L171.38 34.12L170.89 34.3L170.39 34.47L169.89 34.64L169.39 34.82L168.89 34.99L168.4 35.16L167.9 35.34L167.4 35.51L166.9 35.69L166.4 35.87L165.91 36.04L165.41 36.22L164.91 36.4L164.41 36.58L163.92 36.76L163.42 36.94L162.92 37.12L162.42 37.3L161.92 37.48L161.43 37.66L160.93 37.85L160.43 38.03L159.93 38.22L159.43 38.4L158.94 38.59L158.44 38.77L157.94 38.96L157.44 39.15L156.94 39.34L156.45 39.53L155.95 39.72L155.45 39.91L154.95 40.1L154.45 40.29L153.96 40.49L153.46 40.68L152.96 40.88L152.46 41.07L151.97 41.27L151.47 41.47L150.97 41.67L150.47 41.87L149.97 42.07L149.48 42.27L148.98 42.48L148.48 42.68L147.98 42.89L147.48 43.1L146.99 43.31L146.49 43.52L145.99 43.73L145.49 43.94L144.99 44.16L144.5 44.37L144 44.59L143.5 44.81L143 45.03L142.51 45.25L142.01 45.47L141.51 45.7L141.01 45.93L140.51 46.16L140.02 46.39L139.52 46.62L139.02 46.85L138.52 47.09L138.02 47.33L137.53 47.57L137.03 47.81L136.53 48.06L136.03 48.31L135.53 48.56L135.04 48.81L134.54 49.07L134.04 49.33L133.54 49.59L133.04 49.85L132.55 50.12L132.05 50.39L131.55 50.66L131.05 50.94L130.56 51.22L130.06 51.5L129.56 51.79L129.06 52.08L128.56 52.37L128.07 52.67L127.57 52.98L127.07 53.28L126.57 53.59L126.07 53.91L125.58 54.23L125.08 54.56L124.58 54.89L124.08 55.22L123.58 55.56L123.09 55.91L122.59 56.26L122.09 56.62L121.59 56.98L121.09 57.35L120.6 57.73L120.1 58.11L119.6 58.5L119.1 58.9L118.61 59.31L118.11 59.72L117.61 60.14L117.11 60.57L116.61 61.01L116.12 61.46L115.62 61.92L115.12 62.39L114.62 62.87L114.12 63.36L113.63 63.86L113.13 64.38L112.63 64.91L112.13 65.46L111.63 66.03L111.14 66.61L110.64 67.22L110.14 67.86L109.64 68.52L109.15 69.22L108.65 69.95L108.15 70.73L107.65 71.56L107.15 72.45L106.66 73.4L106.16 74.43L105.66 75.55L105.16 76.77L104.66 78.09L104.17 79.51L103.67 81.06L103.17 82.72L102.67 84.49L102.17 86.38L101.68 88.43L101.18 90.54L100.68 92.56L100.18 94.54L99.68 96.45L99.19 98.26L98.69 99.97L98.19 101.57L97.69 103.06L97.2 104.43L96.7 105.7L96.2 106.88L95.7 107.96L95.2 108.98L94.71 109.92L94.21 110.81L93.71 111.65L93.21 112.44L92.71 113.19L92.22 113.91L91.72 114.6L91.22 115.27L90.72 115.91L90.22 116.53L89.73 117.13L89.23 117.72L88.73 118.29L88.23 118.84L87.73 119.38L87.24 119.91L86.74 120.43L86.24 120.93L85.74 121.42L85.25 121.91L84.75 122.38L84.25 122.61L83.75 122.78L83.25 122.94L82.76 123.13L82.26 123.54L81.76 123.94L81.26 124.34L80.76 124.73L80.27 125.13L79.77 125.53L79.27 125.92L78.77 126.32L78.27 126.71L77.78 127.11L77.28 127.5L77.78 127.34L78.27 127.19L78.77 127.03L79.27 126.88L79.77 126.72L80.27 126.56L80.76 126.4L81.26 126.24L81.76 126.08L82.26 125.91L82.76 125.75L83.25 125.59L83.75 125.42L84.25 125.25L84.75 125.09L85.25 124.92L85.74 124.75L86.24 124.58L86.74 124.41L87.24 124.23L87.73 124.06L88.23 123.89L88.73 123.71L89.23 123.53L89.73 123.35L90.22 123.18L90.72 122.99L91.22 122.81L91.72 122.63L92.22 122.45L92.71 122.26L93.21 122.08L93.71 121.89L94.21 121.7L94.71 121.51L95.2 121.32L95.7 121.13L96.2 120.94L96.7 120.74L97.2 120.55L97.69 120.35L98.19 120.15L98.69 119.95L99.19 119.75L99.68 119.55L100.18 119.35L100.68 119.14L101.18 118.94L101.68 118.73L102.17 118.52L102.67 118.31L103.17 118.1L103.67 117.89L104.17 117.68L104.66 117.46L105.16 117.24L105.66 117.03L106.16 116.81L106.66 116.59L107.15 116.37L107.65 116.14L108.15 115.92L108.65 115.69L109.15 115.46L109.64 115.24L110.14 115.01L110.64 114.77L111.14 114.54L111.63 114.31L112.13 114.07L112.63 113.83L113.13 113.59L113.63 113.35L114.12 113.11L114.62 112.87L115.12 112.62L115.62 112.38L116.12 112.13L116.61 111.88L117.11 111.63L117.61 111.38L118.11 111.12L118.61 110.87L119.1 110.61L119.6 110.35L120.1 110.09L120.6 109.83L121.09 109.56L121.59 109.3L122.09 109.03L122.59 108.76L123.09 108.49L123.58 108.22L124.08 107.95L124.58 107.67L125.08 107.4L125.58 107.12L126.07 106.84L126.57 106.55L127.07 106.27L127.57 105.98L128.07 105.69L128.56 105.4L129.06 105.11L129.56 104.81L130.06 104.52L130.56 104.22L131.05 103.91L131.55 103.61L132.05 103.3L132.55 102.99L133.04 102.67L133.54 102.35L134.04 102.03L134.54 101.7L135.04 101.37L135.53 101.04L136.03 100.7L136.53 100.35L137.03 100L137.53 99.64L138.02 99.28L138.52 98.9L139.02 98.52L139.52 98.13L140.02 97.73L140.51 97.32L141.01 96.89L141.51 96.45L142.01 96L142.51 95.53L143 95.05L143.5 94.54L144 94.01L144.5 93.46L144.99 92.89L145.49 92.28L145.99 91.65L146.49 90.99L146.99 90.29L147.48 89.55L147.98 88.78L148.48 87.96L148.98 87.1L149.48 86.2L149.97 85.24L150.47 84.24L150.97 83.19L151.47 82.09L151.97 80.93L152.46 79.73L152.96 78.47L153.46 77.16L153.96 75.81L154.45 74.41L154.95 72.96L155.45 71.46L155.95 69.89L156.45 68.21L156.94 66.63L157.44 65.05L157.94 63.5L158.44 61.97L158.94 60.47L159.43 59.01L159.93 57.6L160.43 56.22L160.93 54.9L161.43 53.64L161.92 52.42L162.42 51.26L162.92 50.15L163.42 49.1L163.92 48.1L164.41 47.14L164.91 46.24L165.41 45.38L165.91 44.57L166.4 43.8L166.9 43.06L167.4 42.36L167.9 41.7L168.4 41.06L168.89 40.45L169.39 39.87L169.89 39.31L170.39 38.78L170.89 38.26L171.38 37.76L171.88 37.28L172.38 36.81L172.88 36.36L173.38 36.08L173.87 35.91L174.37 35.74L174.87 35.57L175.37 35.4L175.87 35.23L176.36 35.06L176.86 34.89L177.36 34.73L177.86 34.56L178.35 34.39L178.85 34.23L179.35 34.06L179.85 33.89L180.35 33.73L180.84 33.54L181.34 33.13L181.84 32.73L182.34 32.33L182.84 31.93L183.33 31.53L183.83 31.12L184.33 30.72L184.83 30.32L185.33 29.92L185.82 29.52L186.32 29.12ZM189.34 26.06L188.81 26.23L188.29 26.4L187.76 26.56L187.23 26.73L186.71 26.9L186.18 27.07L185.66 27.24L185.13 27.41L184.61 27.58L184.08 27.75L183.56 27.92L183.03 28.09L182.51 28.26L181.98 28.43L181.45 28.6L180.93 28.77L180.4 28.94L179.88 29.12L179.35 29.29L178.83 29.46L178.3 29.64L177.78 29.81L177.25 29.99L176.73 30.16L176.2 30.34L175.67 30.51L175.15 30.69L174.62 30.87L174.1 31.04L173.57 31.22L173.05 31.4L172.52 31.58L172 31.76L171.47 31.94L170.95 32.12L170.42 32.3L169.89 32.48L169.37 32.66L168.84 32.85L168.32 33.03L167.79 33.21L167.27 33.4L166.74 33.58L166.22 33.77L165.69 33.95L165.17 34.14L164.64 34.33L164.11 34.52L163.59 34.71L163.06 34.9L162.54 35.09L162.01 35.28L161.49 35.47L160.96 35.66L160.44 35.86L159.91 36.05L159.39 36.25L158.86 36.44L158.33 36.64L157.81 36.84L157.28 37.04L156.76 37.24L156.23 37.44L155.71 37.64L155.18 37.84L154.66 38.05L154.13 38.25L153.61 38.46L153.08 38.67L152.56 38.87L152.03 39.08L151.5 39.3L150.98 39.51L150.45 39.72L149.93 39.94L149.4 40.15L148.88 40.37L148.35 40.59L147.83 40.81L147.3 41.03L146.78 41.26L146.25 41.48L145.72 41.71L145.2 41.94L144.67 42.17L144.15 42.4L143.62 42.64L143.1 42.87L142.57 43.11L142.05 43.35L141.52 43.6L141 43.84L140.47 44.09L139.94 44.34L139.42 44.59L138.89 44.84L138.37 45.1L137.84 45.36L137.32 45.62L136.79 45.89L136.27 46.16L135.74 46.43L135.22 46.7L134.69 46.98L134.16 47.26L133.64 47.54L133.11 47.83L132.59 48.12L132.06 48.42L131.54 48.71L131.01 49.02L130.49 49.32L129.96 49.64L129.44 49.95L128.91 50.27L128.38 50.6L127.86 50.93L127.33 51.26L126.81 51.6L126.28 51.95L125.76 52.3L125.23 52.66L124.71 53.02L124.18 53.39L123.66 53.77L123.13 54.15L122.6 54.54L122.08 54.94L121.55 55.34L121.03 55.76L120.5 56.18L119.98 56.61L119.45 57.04L118.93 57.49L118.4 57.95L117.88 58.41L117.35 58.89L116.82 59.37L116.3 59.87L115.77 60.38L115.25 60.9L114.72 61.44L114.2 61.99L113.67 62.55L113.15 63.13L112.62 63.73L112.1 64.35L111.57 64.98L111.04 65.65L110.52 66.34L109.99 67.06L109.47 67.82L108.94 68.62L108.42 69.47L107.89 70.37L107.37 71.34L106.84 72.39L106.32 73.52L105.79 74.75L105.27 76.09L104.74 77.55L104.21 79.13L103.69 80.84L103.16 82.67L102.64 84.62L102.11 86.67L101.59 88.85L101.06 91.01L100.54 93.14L100.01 95.21L99.49 97.19L98.96 99.06L98.43 100.81L97.91 102.43L97.38 103.92L96.86 105.3L96.33 106.57L95.81 107.74L95.28 108.82L94.76 109.83L94.23 110.77L93.71 111.65L93.18 112.49L92.65 113.28L92.13 114.04L91.6 114.76L91.08 115.46L90.55 116.13L90.03 116.77L89.5 117.4L88.98 118.01L88.45 118.6L87.93 119.18L87.4 119.74L86.87 120.29L86.35 120.82L85.82 121.34L85.3 121.85L84.77 122.35L84.25 122.84L83.72 123.32L83.2 123.79L82.67 124.24L82.15 124.69L81.62 125.13L81.09 125.56L80.57 125.99L80.04 126.23L79.52 126.53L78.99 126.94L78.47 127.35L77.94 127.77L77.42 128.18L76.89 128.59L76.37 128.99L75.84 129.4L75.31 129.81L74.79 130.16L74.26 130.62L74.79 130.46L75.31 130.31L75.84 130.15L76.37 130L76.89 129.84L77.42 129.68L77.94 129.52L78.47 129.36L78.99 129.2L79.52 129.04L80.04 128.88L80.57 128.71L81.09 128.54L81.62 128.38L82.15 128.21L82.67 128.04L83.2 127.87L83.72 127.69L84.25 127.52L84.77 127.35L85.3 127.17L85.82 126.99L86.35 126.81L86.87 126.63L87.4 126.45L87.93 126.27L88.45 126.09L88.98 125.9L89.5 125.72L90.03 125.53L90.55 125.34L91.08 125.15L91.6 124.96L92.13 124.76L92.65 124.57L93.18 124.37L93.71 124.17L94.23 123.97L94.76 123.77L95.28 123.57L95.81 123.37L96.33 123.16L96.86 122.96L97.38 122.75L97.91 122.54L98.43 122.33L98.96 122.11L99.49 121.9L100.01 121.68L100.54 121.47L101.06 121.25L101.59 121.03L102.11 120.8L102.64 120.58L103.16 120.35L103.69 120.13L104.21 119.9L104.74 119.67L105.27 119.43L105.79 119.2L106.32 118.96L106.84 118.73L107.37 118.49L107.89 118.25L108.42 118L108.94 117.76L109.47 117.51L109.99 117.27L110.52 117.02L111.04 116.77L111.57 116.51L112.1 116.26L112.62 116L113.15 115.74L113.67 115.48L114.2 115.22L114.72 114.95L115.25 114.69L115.77 114.42L116.3 114.15L116.82 113.88L117.35 113.6L117.88 113.33L118.4 113.05L118.93 112.77L119.45 112.49L119.98 112.21L120.5 111.92L121.03 111.64L121.55 111.35L122.08 111.06L122.6 110.76L123.13 110.47L123.66 110.17L124.18 109.87L124.71 109.57L125.23 109.26L125.76 108.96L126.28 108.65L126.81 108.34L127.33 108.02L127.86 107.71L128.38 107.39L128.91 107.07L129.44 106.75L129.96 106.42L130.49 106.09L131.01 105.76L131.54 105.42L132.06 105.08L132.59 104.74L133.11 104.39L133.64 104.04L134.16 103.68L134.69 103.32L135.22 102.95L135.74 102.58L136.27 102.2L136.79 101.81L137.32 101.42L137.84 101.02L138.37 100.6L138.89 100.18L139.42 99.75L139.94 99.3L140.47 98.84L141 98.37L141.52 97.88L142.05 97.37L142.57 96.85L143.1 96.3L143.62 95.72L144.15 95.12L144.67 94.49L145.2 93.83L145.72 93.14L146.25 92.41L146.78 91.64L147.3 90.82L147.83 89.96L148.35 89.05L148.88 88.09L149.4 87.08L149.93 86.01L150.45 84.89L150.98 83.7L151.5 82.46L152.03 81.16L152.56 79.8L153.08 78.39L153.61 76.92L154.13 75.41L154.66 73.85L155.18 72.25L155.71 70.61L156.23 68.91L156.76 67.22L157.28 65.55L157.81 63.91L158.33 62.28L158.86 60.7L159.39 59.15L159.91 57.65L160.44 56.21L160.96 54.81L161.49 53.48L162.01 52.21L162.54 50.99L163.06 49.84L163.59 48.75L164.11 47.71L164.64 46.73L165.17 45.8L165.69 44.92L166.22 44.08L166.74 43.29L167.27 42.55L167.79 41.83L168.32 41.16L168.84 40.51L169.37 39.9L169.89 39.31L170.42 38.74L170.95 38.2L171.47 37.68L172 37.17L172.52 36.68L173.05 36.21L173.57 35.75L174.1 35.3L174.62 34.87L175.15 34.44L175.67 34.03L176.2 33.62L176.73 33.22L177.25 32.83L177.78 32.45L178.3 32.28L178.83 32.1L179.35 31.93L179.88 31.76L180.4 31.59L180.93 31.41L181.45 31.24L181.98 31.07L182.51 30.9L183.03 30.73L183.56 30.56L184.08 30.26L184.61 29.84L185.13 29.41L185.66 28.99L186.18 28.57L186.71 28.15L187.23 27.74L187.76 27.32L188.29 26.9L188.81 26.48L189.34 26.06ZM192.1 23.12L191.55 23.29L191 23.46L190.45 23.63L189.9 23.81L189.35 23.98L188.8 24.15L188.25 24.32L187.69 24.49L187.14 24.67L186.59 24.84L186.04 25.02L185.49 25.19L184.94 25.36L184.39 25.54L183.84 25.71L183.29 25.89L182.74 26.07L182.19 26.24L181.64 26.42L181.09 26.6L180.54 26.78L179.98 26.96L179.43 27.13L178.88 27.31L178.33 27.49L177.78 27.67L177.23 27.85L176.68 28.04L176.13 28.22L175.58 28.4L175.03 28.58L174.48 28.77L173.93 28.95L173.38 29.14L172.83 29.32L172.28 29.51L171.72 29.69L171.17 29.88L170.62 30.07L170.07 30.26L169.52 30.45L168.97 30.64L168.42 30.83L167.87 31.02L167.32 31.21L166.77 31.4L166.22 31.6L165.67 31.79L165.12 31.99L164.57 32.18L164.02 32.38L163.46 32.58L162.91 32.78L162.36 32.98L161.81 33.18L161.26 33.38L160.71 33.58L160.16 33.78L159.61 33.99L159.06 34.19L158.51 34.4L157.96 34.61L157.41 34.82L156.86 35.03L156.31 35.24L155.75 35.45L155.2 35.66L154.65 35.88L154.1 36.09L153.55 36.31L153 36.53L152.45 36.75L151.9 36.97L151.35 37.2L150.8 37.42L150.25 37.65L149.7 37.88L149.15 38.11L148.6 38.34L148.05 38.57L147.49 38.81L146.94 39.05L146.39 39.28L145.84 39.53L145.29 39.77L144.74 40.02L144.19 40.26L143.64 40.51L143.09 40.77L142.54 41.02L141.99 41.28L141.44 41.54L140.89 41.8L140.34 42.07L139.78 42.33L139.23 42.61L138.68 42.88L138.13 43.16L137.58 43.44L137.03 43.72L136.48 44.01L135.93 44.3L135.38 44.59L134.83 44.89L134.28 45.2L133.73 45.5L133.18 45.81L132.63 46.13L132.08 46.45L131.52 46.77L130.97 47.1L130.42 47.44L129.87 47.78L129.32 48.12L128.77 48.47L128.22 48.83L127.67 49.19L127.12 49.56L126.57 49.93L126.02 50.32L125.47 50.7L124.92 51.1L124.37 51.5L123.82 51.91L123.26 52.33L122.71 52.76L122.16 53.2L121.61 53.64L121.06 54.1L120.51 54.56L119.96 55.03L119.41 55.52L118.86 56.01L118.31 56.52L117.76 57.04L117.21 57.57L116.66 58.11L116.11 58.67L115.55 59.24L115 59.82L114.45 60.42L113.9 61.04L113.35 61.68L112.8 62.34L112.25 63.02L111.7 63.72L111.15 64.46L110.6 65.22L110.05 66.02L109.5 66.86L108.95 67.75L108.4 68.7L107.85 69.72L107.29 70.81L106.74 71.99L106.19 73.27L105.64 74.67L105.09 76.2L104.54 77.86L103.99 79.66L103.44 81.6L102.89 83.66L102.34 85.82L101.79 88.04L101.24 90.3L100.69 92.54L100.14 94.72L99.58 96.82L99.03 98.8L98.48 100.65L97.93 102.36L97.38 103.93L96.83 105.37L96.28 106.69L95.73 107.9L95.18 109.02L94.63 110.06L94.08 111.03L93.53 111.94L92.98 112.8L92.43 113.61L91.88 114.39L91.32 115.13L90.77 115.85L90.22 116.53L89.67 117.2L89.12 117.84L88.57 118.47L88.02 119.08L87.47 119.67L86.92 120.24L86.37 120.8L85.82 121.35L85.27 121.88L84.72 122.41L84.17 122.92L83.62 123.41L83.06 123.9L82.51 124.38L81.96 124.85L81.41 125.3L80.86 125.75L80.31 126.19L79.76 126.62L79.21 127.04L78.66 127.46L78.11 127.86L77.56 128.26L77.01 128.65L76.46 129.04L75.91 129.42L75.35 129.79L74.8 130.15L74.25 130.51L73.7 130.86L73.15 131.21L72.6 131.55L72.05 131.89L71.5 133.59L72.05 133.44L72.6 133.29L73.15 133.13L73.7 132.98L74.25 132.83L74.8 132.67L75.35 132.52L75.91 132.36L76.46 132.2L77.01 132.04L77.56 131.88L78.11 131.71L78.66 131.55L79.21 131.38L79.76 131.21L80.31 131.04L80.86 130.87L81.41 130.7L81.96 130.53L82.51 130.35L83.06 130.18L83.62 130L84.17 129.82L84.72 129.64L85.27 129.46L85.82 129.27L86.37 129.09L86.92 128.9L87.47 128.71L88.02 128.52L88.57 128.33L89.12 128.14L89.67 127.94L90.22 127.75L90.77 127.55L91.32 127.35L91.88 127.14L92.43 126.94L92.98 126.74L93.53 126.53L94.08 126.32L94.63 126.11L95.18 125.9L95.73 125.68L96.28 125.47L96.83 125.25L97.38 125.03L97.93 124.81L98.48 124.58L99.03 124.36L99.58 124.13L100.14 123.9L100.69 123.67L101.24 123.44L101.79 123.2L102.34 122.97L102.89 122.73L103.44 122.49L103.99 122.24L104.54 122L105.09 121.75L105.64 121.5L106.19 121.25L106.74 121L107.29 120.74L107.85 120.49L108.4 120.23L108.95 119.97L109.5 119.7L110.05 119.44L110.6 119.17L111.15 118.9L111.7 118.63L112.25 118.35L112.8 118.07L113.35 117.79L113.9 117.51L114.45 117.23L115 116.94L115.55 116.66L116.11 116.37L116.66 116.07L117.21 115.78L117.76 115.48L118.31 115.18L118.86 114.88L119.41 114.58L119.96 114.27L120.51 113.96L121.06 113.65L121.61 113.34L122.16 113.02L122.71 112.7L123.26 112.38L123.82 112.06L124.37 111.73L124.92 111.4L125.47 111.07L126.02 110.74L126.57 110.4L127.12 110.06L127.67 109.72L128.22 109.37L128.77 109.02L129.32 108.67L129.87 108.31L130.42 107.95L130.97 107.59L131.52 107.22L132.08 106.85L132.63 106.48L133.18 106.1L133.73 105.71L134.28 105.32L134.83 104.92L135.38 104.51L135.93 104.1L136.48 103.68L137.03 103.25L137.58 102.82L138.13 102.37L138.68 101.91L139.23 101.43L139.78 100.95L140.34 100.44L140.89 99.92L141.44 99.38L141.99 98.82L142.54 98.24L143.09 97.63L143.64 96.99L144.19 96.32L144.74 95.61L145.29 94.87L145.84 94.09L146.39 93.26L146.94 92.39L147.49 91.46L148.05 90.48L148.6 89.44L149.15 88.33L149.7 87.17L150.25 85.94L150.8 84.64L151.35 83.28L151.9 81.85L152.45 80.36L153 78.82L153.55 77.21L154.1 75.56L154.65 73.87L155.2 72.15L155.75 70.41L156.31 68.66L156.86 66.91L157.41 65.17L157.96 63.45L158.51 61.76L159.06 60.11L159.61 58.51L160.16 56.96L160.71 55.47L161.26 54.05L161.81 52.69L162.36 51.39L162.91 50.16L163.46 49L164.02 47.9L164.57 46.86L165.12 45.88L165.67 44.96L166.22 44.08L166.77 43.26L167.32 42.47L167.87 41.73L168.42 41.03L168.97 40.36L169.52 39.72L170.07 39.11L170.62 38.53L171.17 37.97L171.72 37.43L172.28 36.91L172.83 36.41L173.38 35.92L173.93 35.45L174.48 34.99L175.03 34.54L175.58 34.1L176.13 33.67L176.68 33.25L177.23 32.84L177.78 32.44L178.33 32.04L178.88 31.65L179.43 31.26L179.98 30.88L180.54 30.5L181.09 30.13L181.64 29.77L182.19 29.4L182.74 29.04L183.29 28.69L183.84 28.36L184.39 28.18L184.94 28.01L185.49 27.83L186.04 27.66L186.59 27.47L187.14 27.04L187.69 26.6L188.25 26.16L188.8 25.73L189.35 25.29L189.9 24.86L190.45 24.42L191 24.02L191.55 23.71L192.1 23.12Z" stroke="#000" stroke-width="0.9" fill="none" stroke-linejoin="round"/>
<path d="M423.45 66.4L423.16 66.51L422.87 66.62L422.57 66.73L422.28 66.84L421.99 66.96L421.69 67.07L421.4 67.18L421.1 67.29L420.81 67.4L420.52 67.51L420.22 67.62L419.93 67.73L419.64 67.84L419.34 67.95L419.05 68.06L418.76 68.17L418.46 68.29L418.17 68.4L417.88 68.51L417.58 68.62L417.29 68.73L417 68.84L416.7 68.95L416.41 69.06L416.12 69.17L415.82 69.28L415.53 69.39L415.24 69.5L414.94 69.62L414.65 69.73L414.35 69.84L414.06 69.95L413.77 70.06L413.47 70.17L413.18 70.28L412.89 70.39L412.59 70.5L412.3 70.61L412.01 70.72L411.71 70.83L411.42 70.95L411.13 71.06L410.83 71.17L410.54 71.28L410.25 71.39L409.95 71.5L409.66 71.61L409.37 71.72L409.07 71.83L408.78 71.94L408.49 72.05L408.19 72.17L407.9 72.28L407.6 72.39L407.31 72.5L407.02 72.61L406.72 72.72L406.43 72.83L406.14 72.94L405.84 73.05L405.55 73.16L405.26 73.27L404.96 73.38L404.67 73.5L404.38 73.61L404.08 73.72L403.79 73.83L403.5 73.94L403.2 74.05L402.91 74.16L402.62 74.27L402.32 74.38L402.03 74.49L401.74 74.6L401.44 74.71L401.15 74.83L400.85 74.94L400.56 75.05L400.27 75.16L399.97 75.27L399.68 75.38L399.39 75.49L399.09 75.6L398.8 75.71L398.51 75.82L398.21 75.93L397.92 76.04L397.63 76.16L397.33 76.27L397.04 76.38L396.75 76.49L396.45 76.6L396.16 76.71L395.87 76.82L395.57 76.93L395.28 77.04L394.98 77.15L394.69 77.26L394.4 77.38L394.1 77.49L393.81 77.6L393.52 77.71L393.22 77.82L392.93 77.93L392.64 78.04L392.34 78.15L392.05 78.26L391.76 78.37L391.46 78.48L391.17 78.59L390.88 78.71L390.58 78.82L390.29 78.93L390 79.04L389.7 79.15L389.41 79.26L389.12 79.37L388.82 79.48L388.53 79.59L388.23 79.7L387.94 79.81L387.65 79.93L387.35 80.04L387.06 80.15L386.77 80.26L386.47 80.37L386.18 80.48L385.89 80.59L385.59 80.7L385.3 80.81L385.01 80.92L384.71 81.03L384.42 81.15L384.13 81.26L383.83 81.37L383.54 81.48L383.25 81.59L382.95 81.7L382.66 81.81L382.37 81.92L382.07 82.03L381.78 82.14L381.48 82.25L381.19 82.37L380.9 82.48L380.6 82.59L380.31 82.7L380.02 82.81L379.72 82.92L379.43 83.03L379.14 83.14L378.84 83.25L378.55 83.36L378.26 83.47L377.96 83.59L377.67 83.7L377.38 83.81L377.08 83.92L376.79 84.03L376.5 84.14L376.2 84.25L375.91 84.36L375.62 84.47L375.32 84.58L375.03 84.69L374.73 84.81L374.44 84.92L374.15 85.03L373.85 85.14L373.56 85.25L373.27 85.36L372.97 85.47L372.68 85.58L372.39 85.69L372.09 85.8L371.8 85.92L371.51 86.03L371.21 86.14L370.92 86.25L370.63 86.36L370.33 86.47L370.04 86.58L369.75 86.69L369.45 86.8L369.16 86.92L368.87 87.03L368.57 87.14L368.28 87.25L367.98 87.36L367.69 87.47L367.4 87.58L367.1 87.69L366.81 87.81L366.52 87.92L366.22 88.03L365.93 88.14L365.64 88.25L365.34 88.36L365.05 88.47L364.76 88.59L364.46 88.7L364.17 88.81L363.88 88.92L363.58 89.03L363.29 89.15L363 89.26L362.7 89.37L362.41 89.48L362.12 89.6L361.82 89.71L361.53 89.82L361.23 89.94L360.94 90.05L360.65 90.17L360.35 90.29L360.06 90.16L359.77 90.41L359.47 90.66L359.18 90.92L359.47 90.8L359.77 90.69L360.06 90.58L360.35 90.47L360.65 90.36L360.94 90.25L361.23 90.14L361.53 90.03L361.82 89.92L362.12 89.81L362.41 89.7L362.7 89.59L363 89.47L363.29 89.36L363.58 89.25L363.88 89.14L364.17 89.03L364.46 88.92L364.76 88.81L365.05 88.7L365.34 88.59L365.64 88.48L365.93 88.37L366.22 88.26L366.52 88.14L366.81 88.03L367.1 87.92L367.4 87.81L367.69 87.7L367.98 87.59L368.28 87.48L368.57 87.37L368.87 87.26L369.16 87.15L369.45 87.04L369.75 86.93L370.04 86.81L370.33 86.7L370.63 86.59L370.92 86.48L371.21 86.37L371.51 86.26L371.8 86.15L372.09 86.04L372.39 85.93L372.68 85.82L372.97 85.71L373.27 85.59L373.56 85.48L373.85 85.37L374.15 85.26L374.44 85.15L374.73 85.04L375.03 84.93L375.32 84.82L375.62 84.71L375.91 84.6L376.2 84.49L376.5 84.38L376.79 84.26L377.08 84.15L377.38 84.04L377.67 83.93L377.96 83.82L378.26 83.71L378.55 83.6L378.84 83.49L379.14 83.38L379.43 83.27L379.72 83.16L380.02 83.04L380.31 82.93L380.6 82.82L380.9 82.71L381.19 82.6L381.48 82.49L381.78 82.38L382.07 82.27L382.37 82.16L382.66 82.05L382.95 81.94L383.25 81.83L383.54 81.71L383.83 81.6L384.13 81.49L384.42 81.38L384.71 81.27L385.01 81.16L385.3 81.05L385.59 80.94L385.89 80.83L386.18 80.72L386.47 80.61L386.77 80.49L387.06 80.38L387.35 80.27L387.65 80.16L387.94 80.05L388.23 79.94L388.53 79.83L388.82 79.72L389.12 79.61L389.41 79.5L389.7 79.39L390 79.27L390.29 79.16L390.58 79.05L390.88 78.94L391.17 78.83L391.46 78.72L391.76 78.61L392.05 78.5L392.34 78.39L392.64 78.28L392.93 78.17L393.22 78.05L393.52 77.94L393.81 77.83L394.1 77.72L394.4 77.61L394.69 77.5L394.98 77.39L395.28 77.28L395.57 77.17L395.87 77.06L396.16 76.95L396.45 76.83L396.75 76.72L397.04 76.61L397.33 76.5L397.63 76.39L397.92 76.28L398.21 76.17L398.51 76.06L398.8 75.95L399.09 75.84L399.39 75.73L399.68 75.61L399.97 75.5L400.27 75.39L400.56 75.28L400.85 75.17L401.15 75.06L401.44 74.95L401.74 74.84L402.03 74.73L402.32 74.62L402.62 74.5L402.91 74.39L403.2 74.28L403.5 74.17L403.79 74.06L404.08 73.95L404.38 73.84L404.67 73.73L404.96 73.62L405.26 73.51L405.55 73.4L405.84 73.28L406.14 73.17L406.43 73.06L406.72 72.95L407.02 72.84L407.31 72.73L407.6 72.62L407.9 72.51L408.19 72.4L408.49 72.29L408.78 72.17L409.07 72.06L409.37 71.95L409.66 71.84L409.95 71.73L410.25 71.62L410.54 71.51L410.83 71.4L411.13 71.29L411.42 71.17L411.71 71.06L412.01 70.95L412.3 70.84L412.59 70.73L412.89 70.62L413.18 70.51L413.47 70.4L413.77 70.29L414.06 70.17L414.35 70.06L414.65 69.95L414.94 69.84L415.24 69.73L415.53 69.62L415.82 69.5L416.12 69.39L416.41 69.28L416.7 69.17L417 69.06L417.29 68.94L417.58 68.83L417.88 68.72L418.17 68.61L418.46 68.49L418.76 68.38L419.05 68.26L419.34 68.14L419.64 68.01L419.93 69.42L420.22 69.17L420.52 68.91L420.81 68.66L421.1 68.41L421.4 68.16L421.69 67.91L421.99 67.66L422.28 67.41L422.57 67.16L422.87 66.9L423.16 66.65L423.45 66.4ZM423.45 66.16L423.16 66.27L422.87 66.39L422.57 66.5L422.28 66.61L421.99 66.72L421.69 66.83L421.4 66.94L421.1 67.05L420.81 67.16L420.52 67.27L420.22 67.38L419.93 67.49L419.64 67.6L419.34 67.72L419.05 67.83L418.76 67.94L418.46 68.05L418.17 68.16L417.88 68.27L417.58 68.38L417.29 68.49L417 68.6L416.7 68.71L416.41 68.82L416.12 68.93L415.82 69.04L415.53 69.16L415.24 69.27L414.94 69.38L414.65 69.49L414.35 69.6L414.06 69.71L413.77 69.82L413.47 69.93L413.18 70.04L412.89 70.15L412.59 70.26L412.3 70.37L412.01 70.49L411.71 70.6L411.42 70.71L411.13 70.82L410.83 70.93L410.54 71.04L410.25 71.15L409.95 71.26L409.66 71.37L409.37 71.48L409.07 71.59L408.78 71.7L408.49 71.82L408.19 71.93L407.9 72.04L407.6 72.15L407.31 72.26L407.02 72.37L406.72 72.48L406.43 72.59L406.14 72.7L405.84 72.81L405.55 72.92L405.26 73.03L404.96 73.15L404.67 73.26L404.38 73.37L404.08 73.48L403.79 73.59L403.5 73.7L403.2 73.81L402.91 73.92L402.62 74.03L402.32 74.14L402.03 74.25L401.74 74.36L401.44 74.48L401.15 74.59L400.85 74.7L400.56 74.81L400.27 74.92L399.97 75.03L399.68 75.14L399.39 75.25L399.09 75.36L398.8 75.47L398.51 75.58L398.21 75.7L397.92 75.81L397.63 75.92L397.33 76.03L397.04 76.14L396.75 76.25L396.45 76.36L396.16 76.47L395.87 76.58L395.57 76.69L395.28 76.8L394.98 76.91L394.69 77.03L394.4 77.14L394.1 77.25L393.81 77.36L393.52 77.47L393.22 77.58L392.93 77.69L392.64 77.8L392.34 77.91L392.05 78.02L391.76 78.13L391.46 78.25L391.17 78.36L390.88 78.47L390.58 78.58L390.29 78.69L390 78.8L389.7 78.91L389.41 79.02L389.12 79.13L388.82 79.24L388.53 79.36L388.23 79.47L387.94 79.58L387.65 79.69L387.35 79.8L387.06 79.91L386.77 80.02L386.47 80.13L386.18 80.24L385.89 80.35L385.59 80.46L385.3 80.58L385.01 80.69L384.71 80.8L384.42 80.91L384.13 81.02L383.83 81.13L383.54 81.24L383.25 81.35L382.95 81.46L382.66 81.57L382.37 81.69L382.07 81.8L381.78 81.91L381.48 82.02L381.19 82.13L380.9 82.24L380.6 82.35L380.31 82.46L380.02 82.57L379.72 82.68L379.43 82.8L379.14 82.91L378.84 83.02L378.55 83.13L378.26 83.24L377.96 83.35L377.67 83.46L377.38 83.57L377.08 83.68L376.79 83.8L376.5 83.91L376.2 84.02L375.91 84.13L375.62 84.24L375.32 84.35L375.03 84.46L374.73 84.57L374.44 84.68L374.15 84.8L373.85 84.91L373.56 85.02L373.27 85.13L372.97 85.24L372.68 85.35L372.39 85.46L372.09 85.57L371.8 85.69L371.51 85.8L371.21 85.91L370.92 86.02L370.63 86.13L370.33 86.24L370.04 86.36L369.75 86.47L369.45 86.58L369.16 86.69L368.87 86.8L368.57 86.91L368.28 87.03L367.98 87.14L367.69 87.25L367.4 87.36L367.1 87.47L366.81 87.59L366.52 87.7L366.22 87.81L365.93 87.92L365.64 88.04L365.34 88.15L365.05 88.26L364.76 88.38L364.46 88.49L364.17 88.6L363.88 88.72L363.58 88.83L363.29 88.95L363 89.06L362.7 89.18L362.41 89.29L362.12 89.41L361.82 89.53L361.53 89.64L361.23 89.76L360.94 89.89L360.65 90.01L360.35 90.15L360.06 90.4L359.77 90.65L359.47 90.9L359.18 91.15L359.47 91.04L359.77 90.93L360.06 90.82L360.35 90.71L360.65 90.6L360.94 90.49L361.23 90.38L361.53 90.27L361.82 90.15L362.12 90.04L362.41 89.93L362.7 89.82L363 89.71L363.29 89.6L363.58 89.49L363.88 89.38L364.17 89.27L364.46 89.16L364.76 89.05L365.05 88.94L365.34 88.82L365.64 88.71L365.93 88.6L366.22 88.49L366.52 88.38L366.81 88.27L367.1 88.16L367.4 88.05L367.69 87.94L367.98 87.83L368.28 87.72L368.57 87.61L368.87 87.49L369.16 87.38L369.45 87.27L369.75 87.16L370.04 87.05L370.33 86.94L370.63 86.83L370.92 86.72L371.21 86.61L371.51 86.5L371.8 86.39L372.09 86.28L372.39 86.16L372.68 86.05L372.97 85.94L373.27 85.83L373.56 85.72L373.85 85.61L374.15 85.5L374.44 85.39L374.73 85.28L375.03 85.17L375.32 85.06L375.62 84.94L375.91 84.83L376.2 84.72L376.5 84.61L376.79 84.5L377.08 84.39L377.38 84.28L377.67 84.17L377.96 84.06L378.26 83.95L378.55 83.84L378.84 83.72L379.14 83.61L379.43 83.5L379.72 83.39L380.02 83.28L380.31 83.17L380.6 83.06L380.9 82.95L381.19 82.84L381.48 82.73L381.78 82.62L382.07 82.5L382.37 82.39L382.66 82.28L382.95 82.17L383.25 82.06L383.54 81.95L383.83 81.84L384.13 81.73L384.42 81.62L384.71 81.51L385.01 81.4L385.3 81.28L385.59 81.17L385.89 81.06L386.18 80.95L386.47 80.84L386.77 80.73L387.06 80.62L387.35 80.51L387.65 80.4L387.94 80.29L388.23 80.17L388.53 80.06L388.82 79.95L389.12 79.84L389.41 79.73L389.7 79.62L390 79.51L390.29 79.4L390.58 79.29L390.88 79.18L391.17 79.06L391.46 78.95L391.76 78.84L392.05 78.73L392.34 78.62L392.64 78.51L392.93 78.4L393.22 78.29L393.52 78.18L393.81 78.07L394.1 77.95L394.4 77.84L394.69 77.73L394.98 77.62L395.28 77.51L395.57 77.4L395.87 77.29L396.16 77.18L396.45 77.07L396.75 76.95L397.04 76.84L397.33 76.73L397.63 76.62L397.92 76.51L398.21 76.4L398.51 76.29L398.8 76.18L399.09 76.07L399.39 75.96L399.68 75.84L399.97 75.73L400.27 75.62L400.56 75.51L400.85 75.4L401.15 75.29L401.44 75.18L401.74 75.07L402.03 74.95L402.32 74.84L402.62 74.73L402.91 74.62L403.2 74.51L403.5 74.4L403.79 74.29L404.08 74.18L404.38 74.07L404.67 73.95L404.96 73.84L405.26 73.73L405.55 73.62L405.84 73.51L406.14 73.4L406.43 73.29L406.72 73.18L407.02 73.06L407.31 72.95L407.6 72.84L407.9 72.73L408.19 72.62L408.49 72.51L408.78 72.4L409.07 72.29L409.37 72.17L409.66 72.06L409.95 71.95L410.25 71.84L410.54 71.73L410.83 71.62L411.13 71.51L411.42 71.39L411.71 71.28L412.01 71.17L412.3 71.06L412.59 70.95L412.89 70.84L413.18 70.72L413.47 70.61L413.77 70.5L414.06 70.39L414.35 70.28L414.65 70.16L414.94 70.05L415.24 69.94L415.53 69.82L415.82 69.71L416.12 69.6L416.41 69.48L416.7 69.37L417 69.25L417.29 69.14L417.58 69.02L417.88 68.9L418.17 68.79L418.46 68.67L418.76 68.54L419.05 68.42L419.34 68.29L419.64 68.09L419.93 69.18L420.22 68.93L420.52 68.68L420.81 68.42L421.1 68.17L421.4 67.92L421.69 67.67L421.99 67.42L422.28 67.17L422.57 66.92L422.87 66.67L423.16 66.42L423.45 66.16ZM423.45 65.8L423.16 65.92L422.87 66.03L422.57 66.14L422.28 66.25L421.99 66.36L421.69 66.47L421.4 66.58L421.1 66.69L420.81 66.8L420.52 66.91L420.22 67.02L419.93 67.13L419.64 67.24L419.34 67.35L419.05 67.46L418.76 67.58L418.46 67.69L418.17 67.8L417.88 67.91L417.58 68.02L417.29 68.13L417 68.24L416.7 68.35L416.41 68.46L416.12 68.57L415.82 68.68L415.53 68.79L415.24 68.9L414.94 69.02L414.65 69.13L414.35 69.24L414.06 69.35L413.77 69.46L413.47 69.57L413.18 69.68L412.89 69.79L412.59 69.9L412.3 70.01L412.01 70.12L411.71 70.23L411.42 70.34L411.13 70.45L410.83 70.57L410.54 70.68L410.25 70.79L409.95 70.9L409.66 71.01L409.37 71.12L409.07 71.23L408.78 71.34L408.49 71.45L408.19 71.56L407.9 71.67L407.6 71.78L407.31 71.9L407.02 72.01L406.72 72.12L406.43 72.23L406.14 72.34L405.84 72.45L405.55 72.56L405.26 72.67L404.96 72.78L404.67 72.89L404.38 73L404.08 73.11L403.79 73.23L403.5 73.34L403.2 73.45L402.91 73.56L402.62 73.67L402.32 73.78L402.03 73.89L401.74 74L401.44 74.11L401.15 74.22L400.85 74.33L400.56 74.44L400.27 74.56L399.97 74.67L399.68 74.78L399.39 74.89L399.09 75L398.8 75.11L398.51 75.22L398.21 75.33L397.92 75.44L397.63 75.55L397.33 75.66L397.04 75.78L396.75 75.89L396.45 76L396.16 76.11L395.87 76.22L395.57 76.33L395.28 76.44L394.98 76.55L394.69 76.66L394.4 76.77L394.1 76.88L393.81 77L393.52 77.11L393.22 77.22L392.93 77.33L392.64 77.44L392.34 77.55L392.05 77.66L391.76 77.77L391.46 77.88L391.17 77.99L390.88 78.11L390.58 78.22L390.29 78.33L390 78.44L389.7 78.55L389.41 78.66L389.12 78.77L388.82 78.88L388.53 78.99L388.23 79.1L387.94 79.22L387.65 79.33L387.35 79.44L387.06 79.55L386.77 79.66L386.47 79.77L386.18 79.88L385.89 79.99L385.59 80.1L385.3 80.22L385.01 80.33L384.71 80.44L384.42 80.55L384.13 80.66L383.83 80.77L383.54 80.88L383.25 80.99L382.95 81.11L382.66 81.22L382.37 81.33L382.07 81.44L381.78 81.55L381.48 81.66L381.19 81.77L380.9 81.88L380.6 81.99L380.31 82.11L380.02 82.22L379.72 82.33L379.43 82.44L379.14 82.55L378.84 82.66L378.55 82.77L378.26 82.89L377.96 83L377.67 83.11L377.38 83.22L377.08 83.33L376.79 83.44L376.5 83.55L376.2 83.67L375.91 83.78L375.62 83.89L375.32 84L375.03 84.11L374.73 84.22L374.44 84.34L374.15 84.45L373.85 84.56L373.56 84.67L373.27 84.78L372.97 84.89L372.68 85.01L372.39 85.12L372.09 85.23L371.8 85.34L371.51 85.45L371.21 85.57L370.92 85.68L370.63 85.79L370.33 85.9L370.04 86.02L369.75 86.13L369.45 86.24L369.16 86.36L368.87 86.47L368.57 86.58L368.28 86.69L367.98 86.81L367.69 86.92L367.4 87.04L367.1 87.15L366.81 87.26L366.52 87.38L366.22 87.49L365.93 87.61L365.64 87.73L365.34 87.84L365.05 87.96L364.76 88.07L364.46 88.19L364.17 88.31L363.88 88.43L363.58 88.55L363.29 88.67L363 88.79L362.7 88.91L362.41 89.03L362.12 89.15L361.82 89.28L361.53 89.41L361.23 89.54L360.94 89.67L360.65 89.82L360.35 89.98L360.06 90.52L359.77 91.01L359.47 91.26L359.18 91.51L359.47 91.4L359.77 91.29L360.06 91.18L360.35 91.07L360.65 90.96L360.94 90.85L361.23 90.74L361.53 90.62L361.82 90.51L362.12 90.4L362.41 90.29L362.7 90.18L363 90.07L363.29 89.96L363.58 89.85L363.88 89.74L364.17 89.63L364.46 89.52L364.76 89.41L365.05 89.29L365.34 89.18L365.64 89.07L365.93 88.96L366.22 88.85L366.52 88.74L366.81 88.63L367.1 88.52L367.4 88.41L367.69 88.3L367.98 88.19L368.28 88.08L368.57 87.97L368.87 87.85L369.16 87.74L369.45 87.63L369.75 87.52L370.04 87.41L370.33 87.3L370.63 87.19L370.92 87.08L371.21 86.97L371.51 86.86L371.8 86.75L372.09 86.63L372.39 86.52L372.68 86.41L372.97 86.3L373.27 86.19L373.56 86.08L373.85 85.97L374.15 85.86L374.44 85.75L374.73 85.64L375.03 85.53L375.32 85.41L375.62 85.3L375.91 85.19L376.2 85.08L376.5 84.97L376.79 84.86L377.08 84.75L377.38 84.64L377.67 84.53L377.96 84.42L378.26 84.31L378.55 84.19L378.84 84.08L379.14 83.97L379.43 83.86L379.72 83.75L380.02 83.64L380.31 83.53L380.6 83.42L380.9 83.31L381.19 83.2L381.48 83.08L381.78 82.97L382.07 82.86L382.37 82.75L382.66 82.64L382.95 82.53L383.25 82.42L383.54 82.31L383.83 82.2L384.13 82.08L384.42 81.97L384.71 81.86L385.01 81.75L385.3 81.64L385.59 81.53L385.89 81.42L386.18 81.31L386.47 81.2L386.77 81.08L387.06 80.97L387.35 80.86L387.65 80.75L387.94 80.64L388.23 80.53L388.53 80.42L388.82 80.31L389.12 80.2L389.41 80.08L389.7 79.97L390 79.86L390.29 79.75L390.58 79.64L390.88 79.53L391.17 79.42L391.46 79.31L391.76 79.19L392.05 79.08L392.34 78.97L392.64 78.86L392.93 78.75L393.22 78.64L393.52 78.53L393.81 78.42L394.1 78.3L394.4 78.19L394.69 78.08L394.98 77.97L395.28 77.86L395.57 77.75L395.87 77.64L396.16 77.52L396.45 77.41L396.75 77.3L397.04 77.19L397.33 77.08L397.63 76.97L397.92 76.86L398.21 76.75L398.51 76.63L398.8 76.52L399.09 76.41L399.39 76.3L399.68 76.19L399.97 76.08L400.27 75.96L400.56 75.85L400.85 75.74L401.15 75.63L401.44 75.52L401.74 75.41L402.03 75.3L402.32 75.18L402.62 75.07L402.91 74.96L403.2 74.85L403.5 74.74L403.79 74.63L404.08 74.51L404.38 74.4L404.67 74.29L404.96 74.18L405.26 74.07L405.55 73.96L405.84 73.84L406.14 73.73L406.43 73.62L406.72 73.51L407.02 73.4L407.31 73.29L407.6 73.17L407.9 73.06L408.19 72.95L408.49 72.84L408.78 72.73L409.07 72.61L409.37 72.5L409.66 72.39L409.95 72.28L410.25 72.17L410.54 72.05L410.83 71.94L411.13 71.83L411.42 71.72L411.71 71.6L412.01 71.49L412.3 71.38L412.59 71.27L412.89 71.15L413.18 71.04L413.47 70.93L413.77 70.81L414.06 70.7L414.35 70.58L414.65 70.47L414.94 70.35L415.24 70.24L415.53 70.12L415.82 70L416.12 69.89L416.41 69.77L416.7 69.65L417 69.53L417.29 69.41L417.58 69.28L417.88 69.16L418.17 69.03L418.46 68.9L418.76 68.76L419.05 68.62L419.34 68.46L419.64 68.18L419.93 68.82L420.22 68.57L420.52 68.32L420.81 68.06L421.1 67.81L421.4 67.56L421.69 67.31L421.99 67.06L422.28 66.81L422.57 66.56L422.87 66.31L423.16 66.06L423.45 65.8ZM423.45 65.32L423.16 65.43L422.87 65.54L422.57 65.65L422.28 65.76L421.99 65.87L421.69 65.98L421.4 66.09L421.1 66.2L420.81 66.31L420.52 66.42L420.22 66.53L419.93 66.64L419.64 66.75L419.34 66.86L419.05 66.97L418.76 67.08L418.46 67.19L418.17 67.31L417.88 67.42L417.58 67.53L417.29 67.64L417 67.75L416.7 67.86L416.41 67.97L416.12 68.08L415.82 68.19L415.53 68.3L415.24 68.41L414.94 68.52L414.65 68.63L414.35 68.74L414.06 68.85L413.77 68.96L413.47 69.07L413.18 69.19L412.89 69.3L412.59 69.41L412.3 69.52L412.01 69.63L411.71 69.74L411.42 69.85L411.13 69.96L410.83 70.07L410.54 70.18L410.25 70.29L409.95 70.4L409.66 70.51L409.37 70.62L409.07 70.73L408.78 70.85L408.49 70.96L408.19 71.07L407.9 71.18L407.6 71.29L407.31 71.4L407.02 71.51L406.72 71.62L406.43 71.73L406.14 71.84L405.84 71.95L405.55 72.06L405.26 72.17L404.96 72.29L404.67 72.4L404.38 72.51L404.08 72.62L403.79 72.73L403.5 72.84L403.2 72.95L402.91 73.06L402.62 73.17L402.32 73.28L402.03 73.39L401.74 73.5L401.44 73.62L401.15 73.73L400.85 73.84L400.56 73.95L400.27 74.06L399.97 74.17L399.68 74.28L399.39 74.39L399.09 74.5L398.8 74.61L398.51 74.72L398.21 74.84L397.92 74.95L397.63 75.06L397.33 75.17L397.04 75.28L396.75 75.39L396.45 75.5L396.16 75.61L395.87 75.72L395.57 75.83L395.28 75.95L394.98 76.06L394.69 76.17L394.4 76.28L394.1 76.39L393.81 76.5L393.52 76.61L393.22 76.72L392.93 76.83L392.64 76.95L392.34 77.06L392.05 77.17L391.76 77.28L391.46 77.39L391.17 77.5L390.88 77.61L390.58 77.72L390.29 77.83L390 77.95L389.7 78.06L389.41 78.17L389.12 78.28L388.82 78.39L388.53 78.5L388.23 78.61L387.94 78.73L387.65 78.84L387.35 78.95L387.06 79.06L386.77 79.17L386.47 79.28L386.18 79.39L385.89 79.5L385.59 79.62L385.3 79.73L385.01 79.84L384.71 79.95L384.42 80.06L384.13 80.17L383.83 80.28L383.54 80.4L383.25 80.51L382.95 80.62L382.66 80.73L382.37 80.84L382.07 80.95L381.78 81.07L381.48 81.18L381.19 81.29L380.9 81.4L380.6 81.51L380.31 81.62L380.02 81.74L379.72 81.85L379.43 81.96L379.14 82.07L378.84 82.18L378.55 82.3L378.26 82.41L377.96 82.52L377.67 82.63L377.38 82.74L377.08 82.86L376.79 82.97L376.5 83.08L376.2 83.19L375.91 83.3L375.62 83.42L375.32 83.53L375.03 83.64L374.73 83.75L374.44 83.87L374.15 83.98L373.85 84.09L373.56 84.21L373.27 84.32L372.97 84.43L372.68 84.55L372.39 84.66L372.09 84.77L371.8 84.89L371.51 85L371.21 85.11L370.92 85.23L370.63 85.34L370.33 85.46L370.04 85.57L369.75 85.69L369.45 85.8L369.16 85.92L368.87 86.03L368.57 86.15L368.28 86.26L367.98 86.38L367.69 86.5L367.4 86.61L367.1 86.73L366.81 86.85L366.52 86.97L366.22 87.09L365.93 87.21L365.64 87.33L365.34 87.45L365.05 87.57L364.76 87.7L364.46 87.82L364.17 87.94L363.88 88.07L363.58 88.2L363.29 88.33L363 88.46L362.7 88.59L362.41 88.72L362.12 88.86L361.82 89L361.53 89.15L361.23 89.3L360.94 89.46L360.65 89.63L360.35 89.84L360.06 90.52L359.77 91.36L359.47 91.74L359.18 92L359.47 91.89L359.77 91.77L360.06 91.66L360.35 91.55L360.65 91.44L360.94 91.33L361.23 91.22L361.53 91.11L361.82 91L362.12 90.89L362.41 90.78L362.7 90.67L363 90.56L363.29 90.45L363.58 90.34L363.88 90.23L364.17 90.11L364.46 90L364.76 89.89L365.05 89.78L365.34 89.67L365.64 89.56L365.93 89.45L366.22 89.34L366.52 89.23L366.81 89.12L367.1 89.01L367.4 88.9L367.69 88.79L367.98 88.67L368.28 88.56L368.57 88.45L368.87 88.34L369.16 88.23L369.45 88.12L369.75 88.01L370.04 87.9L370.33 87.79L370.63 87.68L370.92 87.57L371.21 87.46L371.51 87.34L371.8 87.23L372.09 87.12L372.39 87.01L372.68 86.9L372.97 86.79L373.27 86.68L373.56 86.57L373.85 86.46L374.15 86.35L374.44 86.24L374.73 86.12L375.03 86.01L375.32 85.9L375.62 85.79L375.91 85.68L376.2 85.57L376.5 85.46L376.79 85.35L377.08 85.24L377.38 85.12L377.67 85.01L377.96 84.9L378.26 84.79L378.55 84.68L378.84 84.57L379.14 84.46L379.43 84.35L379.72 84.24L380.02 84.12L380.31 84.01L380.6 83.9L380.9 83.79L381.19 83.68L381.48 83.57L381.78 83.46L382.07 83.35L382.37 83.23L382.66 83.12L382.95 83.01L383.25 82.9L383.54 82.79L383.83 82.68L384.13 82.57L384.42 82.46L384.71 82.34L385.01 82.23L385.3 82.12L385.59 82.01L385.89 81.9L386.18 81.79L386.47 81.68L386.77 81.56L387.06 81.45L387.35 81.34L387.65 81.23L387.94 81.12L388.23 81.01L388.53 80.9L388.82 80.78L389.12 80.67L389.41 80.56L389.7 80.45L390 80.34L390.29 80.23L390.58 80.11L390.88 80L391.17 79.89L391.46 79.78L391.76 79.67L392.05 79.56L392.34 79.44L392.64 79.33L392.93 79.22L393.22 79.11L393.52 79L393.81 78.88L394.1 78.77L394.4 78.66L394.69 78.55L394.98 78.44L395.28 78.33L395.57 78.21L395.87 78.1L396.16 77.99L396.45 77.88L396.75 77.77L397.04 77.65L397.33 77.54L397.63 77.43L397.92 77.32L398.21 77.21L398.51 77.09L398.8 76.98L399.09 76.87L399.39 76.76L399.68 76.65L399.97 76.53L400.27 76.42L400.56 76.31L400.85 76.2L401.15 76.08L401.44 75.97L401.74 75.86L402.03 75.75L402.32 75.63L402.62 75.52L402.91 75.41L403.2 75.3L403.5 75.19L403.79 75.07L404.08 74.96L404.38 74.85L404.67 74.74L404.96 74.62L405.26 74.51L405.55 74.4L405.84 74.28L406.14 74.17L406.43 74.06L406.72 73.95L407.02 73.83L407.31 73.72L407.6 73.61L407.9 73.5L408.19 73.38L408.49 73.27L408.78 73.16L409.07 73.04L409.37 72.93L409.66 72.82L409.95 72.7L410.25 72.59L410.54 72.47L410.83 72.36L411.13 72.25L411.42 72.13L411.71 72.02L412.01 71.9L412.3 71.79L412.59 71.67L412.89 71.56L413.18 71.44L413.47 71.32L413.77 71.21L414.06 71.09L414.35 70.97L414.65 70.85L414.94 70.73L415.24 70.61L415.53 70.49L415.82 70.36L416.12 70.24L416.41 70.11L416.7 69.99L417 69.86L417.29 69.72L417.58 69.59L417.88 69.45L418.17 69.3L418.46 69.15L418.76 68.99L419.05 68.82L419.34 68.62L419.64 68.22L419.93 68.33L420.22 68.08L420.52 67.82L420.81 67.57L421.1 67.32L421.4 67.07L421.69 66.82L421.99 66.57L422.28 66.32L422.57 66.07L422.87 65.82L423.16 65.57L423.45 65.32ZM423.45 63.02L423.16 63.13L422.87 63.24L422.57 63.35L422.28 63.46L421.99 63.57L421.69 63.68L421.4 63.79L421.1 63.9L420.81 64L420.52 64.11L420.22 64.22L419.93 64.33L419.64 64.44L419.34 64.55L419.05 64.66L418.76 64.77L418.46 64.88L418.17 64.99L417.88 65.1L417.58 65.21L417.29 65.32L417 65.43L416.7 65.54L416.41 65.65L416.12 65.76L415.82 65.87L415.53 65.98L415.24 66.08L414.94 66.19L414.65 66.3L414.35 66.41L414.06 66.52L413.77 66.63L413.47 66.74L413.18 66.85L412.89 66.96L412.59 67.07L412.3 67.18L412.01 67.29L411.71 67.4L411.42 67.51L411.13 67.62L410.83 67.73L410.54 67.84L410.25 67.95L409.95 68.06L409.66 68.17L409.37 68.28L409.07 68.39L408.78 68.5L408.49 68.61L408.19 68.72L407.9 68.83L407.6 68.94L407.31 69.05L407.02 69.16L406.72 69.28L406.43 69.39L406.14 69.5L405.84 69.61L405.55 69.72L405.26 69.83L404.96 69.94L404.67 70.05L404.38 70.16L404.08 70.27L403.79 70.38L403.5 70.49L403.2 70.6L402.91 70.71L402.62 70.82L402.32 70.93L402.03 71.05L401.74 71.16L401.44 71.27L401.15 71.38L400.85 71.49L400.56 71.6L400.27 71.71L399.97 71.82L399.68 71.93L399.39 72.04L399.09 72.16L398.8 72.27L398.51 72.38L398.21 72.49L397.92 72.6L397.63 72.71L397.33 72.82L397.04 72.94L396.75 73.05L396.45 73.16L396.16 73.27L395.87 73.38L395.57 73.49L395.28 73.61L394.98 73.72L394.69 73.83L394.4 73.94L394.1 74.05L393.81 74.17L393.52 74.28L393.22 74.39L392.93 74.5L392.64 74.61L392.34 74.73L392.05 74.84L391.76 74.95L391.46 75.06L391.17 75.18L390.88 75.29L390.58 75.4L390.29 75.51L390 75.63L389.7 75.74L389.41 75.85L389.12 75.96L388.82 76.08L388.53 76.19L388.23 76.3L387.94 76.42L387.65 76.53L387.35 76.64L387.06 76.76L386.77 76.87L386.47 76.98L386.18 77.1L385.89 77.21L385.59 77.32L385.3 77.44L385.01 77.55L384.71 77.66L384.42 77.78L384.13 77.89L383.83 78.01L383.54 78.12L383.25 78.24L382.95 78.35L382.66 78.46L382.37 78.58L382.07 78.69L381.78 78.81L381.48 78.92L381.19 79.04L380.9 79.15L380.6 79.27L380.31 79.38L380.02 79.5L379.72 79.61L379.43 79.73L379.14 79.85L378.84 79.96L378.55 80.08L378.26 80.19L377.96 80.31L377.67 80.43L377.38 80.54L377.08 80.66L376.79 80.78L376.5 80.9L376.2 81.01L375.91 81.13L375.62 81.25L375.32 81.37L375.03 81.49L374.73 81.6L374.44 81.72L374.15 81.84L373.85 81.96L373.56 82.08L373.27 82.21L372.97 82.33L372.68 82.45L372.39 82.57L372.09 82.69L371.8 82.82L371.51 82.94L371.21 83.07L370.92 83.19L370.63 83.32L370.33 83.45L370.04 83.58L369.75 83.71L369.45 83.84L369.16 83.97L368.87 84.1L368.57 84.23L368.28 84.37L367.98 84.51L367.69 84.65L367.4 84.79L367.1 84.93L366.81 85.07L366.52 85.22L366.22 85.37L365.93 85.52L365.64 85.67L365.34 85.83L365.05 85.99L364.76 86.15L364.46 86.32L364.17 86.49L363.88 86.66L363.58 86.84L363.29 87.03L363 87.22L362.7 87.41L362.41 87.61L362.12 87.82L361.82 88.04L361.53 88.28L361.23 88.53L360.94 88.8L360.65 89.12L360.35 89.51L360.06 90.52L359.77 91.36L359.47 92.61L359.18 94.27L359.47 94.16L359.77 94.05L360.06 93.94L360.35 93.83L360.65 93.72L360.94 93.61L361.23 93.5L361.53 93.39L361.82 93.28L362.12 93.17L362.41 93.06L362.7 92.95L363 92.84L363.29 92.73L363.58 92.62L363.88 92.51L364.17 92.4L364.46 92.29L364.76 92.18L365.05 92.07L365.34 91.96L365.64 91.85L365.93 91.74L366.22 91.63L366.52 91.52L366.81 91.41L367.1 91.29L367.4 91.18L367.69 91.07L367.98 90.96L368.28 90.85L368.57 90.74L368.87 90.63L369.16 90.52L369.45 90.41L369.75 90.3L370.04 90.19L370.33 90.08L370.63 89.97L370.92 89.85L371.21 89.74L371.51 89.63L371.8 89.52L372.09 89.41L372.39 89.3L372.68 89.19L372.97 89.08L373.27 88.97L373.56 88.85L373.85 88.74L374.15 88.63L374.44 88.52L374.73 88.41L375.03 88.3L375.32 88.18L375.62 88.07L375.91 87.96L376.2 87.85L376.5 87.74L376.79 87.63L377.08 87.51L377.38 87.4L377.67 87.29L377.96 87.18L378.26 87.07L378.55 86.95L378.84 86.84L379.14 86.73L379.43 86.62L379.72 86.5L380.02 86.39L380.31 86.28L380.6 86.17L380.9 86.05L381.19 85.94L381.48 85.83L381.78 85.72L382.07 85.6L382.37 85.49L382.66 85.38L382.95 85.26L383.25 85.15L383.54 85.04L383.83 84.92L384.13 84.81L384.42 84.7L384.71 84.59L385.01 84.47L385.3 84.36L385.59 84.24L385.89 84.13L386.18 84.02L386.47 83.9L386.77 83.79L387.06 83.68L387.35 83.56L387.65 83.45L387.94 83.33L388.23 83.22L388.53 83.11L388.82 82.99L389.12 82.88L389.41 82.76L389.7 82.65L390 82.53L390.29 82.42L390.58 82.31L390.88 82.19L391.17 82.08L391.46 81.96L391.76 81.85L392.05 81.73L392.34 81.62L392.64 81.5L392.93 81.39L393.22 81.27L393.52 81.16L393.81 81.04L394.1 80.92L394.4 80.81L394.69 80.69L394.98 80.58L395.28 80.46L395.57 80.35L395.87 80.23L396.16 80.11L396.45 80L396.75 79.88L397.04 79.77L397.33 79.65L397.63 79.53L397.92 79.42L398.21 79.3L398.51 79.18L398.8 79.07L399.09 78.95L399.39 78.83L399.68 78.72L399.97 78.6L400.27 78.48L400.56 78.36L400.85 78.25L401.15 78.13L401.44 78.01L401.74 77.89L402.03 77.78L402.32 77.66L402.62 77.54L402.91 77.42L403.2 77.31L403.5 77.19L403.79 77.07L404.08 76.95L404.38 76.83L404.67 76.71L404.96 76.59L405.26 76.48L405.55 76.36L405.84 76.24L406.14 76.12L406.43 76L406.72 75.88L407.02 75.76L407.31 75.64L407.6 75.52L407.9 75.4L408.19 75.28L408.49 75.16L408.78 75.03L409.07 74.91L409.37 74.79L409.66 74.67L409.95 74.54L410.25 74.42L410.54 74.3L410.83 74.17L411.13 74.05L411.42 73.92L411.71 73.79L412.01 73.66L412.3 73.53L412.59 73.4L412.89 73.27L413.18 73.14L413.47 73L413.77 72.86L414.06 72.72L414.35 72.58L414.65 72.43L414.94 72.28L415.24 72.12L415.53 71.97L415.82 71.8L416.12 71.63L416.41 71.46L416.7 71.28L417 71.09L417.29 70.89L417.58 70.68L417.88 70.46L418.17 70.23L418.46 69.98L418.76 69.7L419.05 69.39L419.34 68.99L419.64 68.22L419.93 67.08L420.22 66.19L420.52 65.52L420.81 65.27L421.1 65.02L421.4 64.77L421.69 64.52L421.99 64.27L422.28 64.02L422.57 63.77L422.87 63.52L423.16 63.27L423.45 63.02ZM425.71 59.35L425.41 59.46L425.1 59.57L424.79 59.68L424.49 59.79L424.18 59.9L423.88 60.01L423.57 60.12L423.26 60.24L422.96 60.35L422.65 60.46L422.35 60.57L422.04 60.68L421.73 60.79L421.43 60.9L421.12 61.02L420.81 61.13L420.51 61.24L420.2 61.35L419.9 61.46L419.59 61.57L419.28 61.69L418.98 61.8L418.67 61.91L418.37 62.02L418.06 62.13L417.75 62.25L417.45 62.36L417.14 62.47L416.84 62.58L416.53 62.7L416.22 62.81L415.92 62.92L415.61 63.03L415.31 63.15L415 63.26L414.69 63.37L414.39 63.48L414.08 63.6L413.77 63.71L413.47 63.82L413.16 63.93L412.86 64.05L412.55 64.16L412.24 64.27L411.94 64.39L411.63 64.5L411.33 64.61L411.02 64.73L410.71 64.84L410.41 64.95L410.1 65.07L409.8 65.18L409.49 65.3L409.18 65.41L408.88 65.52L408.57 65.64L408.26 65.75L407.96 65.87L407.65 65.98L407.35 66.09L407.04 66.21L406.73 66.32L406.43 66.44L406.12 66.55L405.82 66.67L405.51 66.78L405.2 66.9L404.9 67.01L404.59 67.13L404.29 67.24L403.98 67.36L403.67 67.47L403.37 67.59L403.06 67.7L402.76 67.82L402.45 67.93L402.14 68.05L401.84 68.16L401.53 68.28L401.22 68.4L400.92 68.51L400.61 68.63L400.31 68.74L400 68.86L399.69 68.98L399.39 69.09L399.08 69.21L398.78 69.33L398.47 69.44L398.16 69.56L397.86 69.68L397.55 69.79L397.25 69.91L396.94 70.03L396.63 70.15L396.33 70.26L396.02 70.38L395.72 70.5L395.41 70.62L395.1 70.74L394.8 70.85L394.49 70.97L394.18 71.09L393.88 71.21L393.57 71.33L393.27 71.45L392.96 71.57L392.65 71.68L392.35 71.8L392.04 71.92L391.74 72.04L391.43 72.16L391.12 72.28L390.82 72.4L390.51 72.52L390.21 72.64L389.9 72.76L389.59 72.88L389.29 73L388.98 73.12L388.68 73.24L388.37 73.37L388.06 73.49L387.76 73.61L387.45 73.73L387.14 73.85L386.84 73.97L386.53 74.1L386.23 74.22L385.92 74.34L385.61 74.46L385.31 74.58L385 74.71L384.7 74.83L384.39 74.95L384.08 75.08L383.78 75.2L383.47 75.33L383.17 75.45L382.86 75.57L382.55 75.7L382.25 75.82L381.94 75.95L381.64 76.07L381.33 76.2L381.02 76.33L380.72 76.45L380.41 76.58L380.1 76.71L379.8 76.83L379.49 76.96L379.19 77.09L378.88 77.22L378.57 77.35L378.27 77.47L377.96 77.6L377.66 77.73L377.35 77.86L377.04 78L376.74 78.13L376.43 78.26L376.13 78.39L375.82 78.52L375.51 78.66L375.21 78.79L374.9 78.93L374.6 79.07L374.29 79.2L373.98 79.34L373.68 79.48L373.37 79.62L373.06 79.76L372.76 79.9L372.45 80.05L372.15 80.19L371.84 80.34L371.53 80.49L371.23 80.64L370.92 80.79L370.62 80.94L370.31 81.1L370 81.26L369.7 81.42L369.39 81.58L369.09 81.75L368.78 81.92L368.47 82.09L368.17 82.27L367.86 82.45L367.55 82.63L367.25 82.82L366.94 83.01L366.64 83.21L366.33 83.41L366.02 83.62L365.72 83.84L365.41 84.06L365.11 84.28L364.8 84.51L364.49 84.75L364.19 85L363.88 85.26L363.58 85.52L363.27 85.8L362.96 86.08L362.66 86.38L362.35 86.69L362.05 87.02L361.74 87.36L361.43 87.73L361.13 88.12L360.82 88.56L360.51 89.07L360.21 89.77L359.9 90.98L359.6 92.09L359.29 93.82L358.98 95.54L358.68 97.26L358.98 97.15L359.29 97.04L359.6 96.93L359.9 96.81L360.21 96.7L360.51 96.59L360.82 96.48L361.13 96.36L361.43 96.25L361.74 96.14L362.05 96.02L362.35 95.91L362.66 95.8L362.96 95.68L363.27 95.57L363.58 95.46L363.88 95.34L364.19 95.23L364.49 95.11L364.8 95L365.11 94.89L365.41 94.77L365.72 94.66L366.02 94.54L366.33 94.43L366.64 94.31L366.94 94.2L367.25 94.09L367.55 93.97L367.86 93.86L368.17 93.74L368.47 93.63L368.78 93.51L369.09 93.39L369.39 93.28L369.7 93.16L370 93.05L370.31 92.93L370.62 92.82L370.92 92.7L371.23 92.58L371.53 92.47L371.84 92.35L372.15 92.24L372.45 92.12L372.76 92L373.06 91.89L373.37 91.77L373.68 91.65L373.98 91.53L374.29 91.42L374.6 91.3L374.9 91.18L375.21 91.06L375.51 90.95L375.82 90.83L376.13 90.71L376.43 90.59L376.74 90.47L377.04 90.36L377.35 90.24L377.66 90.12L377.96 90L378.27 89.88L378.57 89.76L378.88 89.64L379.19 89.52L379.49 89.41L379.8 89.29L380.1 89.17L380.41 89.05L380.72 88.93L381.02 88.81L381.33 88.69L381.64 88.57L381.94 88.45L382.25 88.32L382.55 88.2L382.86 88.08L383.17 87.96L383.47 87.84L383.78 87.72L384.08 87.6L384.39 87.48L384.7 87.35L385 87.23L385.31 87.11L385.61 86.99L385.92 86.87L386.23 86.74L386.53 86.62L386.84 86.5L387.14 86.37L387.45 86.25L387.76 86.13L388.06 86L388.37 85.88L388.68 85.76L388.98 85.63L389.29 85.51L389.59 85.38L389.9 85.26L390.21 85.13L390.51 85.01L390.82 84.88L391.12 84.76L391.43 84.63L391.74 84.51L392.04 84.38L392.35 84.26L392.65 84.13L392.96 84L393.27 83.88L393.57 83.75L393.88 83.62L394.18 83.5L394.49 83.37L394.8 83.24L395.1 83.11L395.41 82.99L395.72 82.86L396.02 82.73L396.33 82.6L396.63 82.47L396.94 82.34L397.25 82.21L397.55 82.09L397.86 81.96L398.16 81.83L398.47 81.7L398.78 81.57L399.08 81.44L399.39 81.31L399.69 81.18L400 81.04L400.31 80.91L400.61 80.78L400.92 80.65L401.22 80.52L401.53 80.39L401.84 80.25L402.14 80.12L402.45 79.99L402.76 79.86L403.06 79.72L403.37 79.59L403.67 79.46L403.98 79.32L404.29 79.19L404.59 79.05L404.9 78.92L405.2 78.78L405.51 78.65L405.82 78.51L406.12 78.38L406.43 78.24L406.73 78.1L407.04 77.97L407.35 77.83L407.65 77.69L407.96 77.55L408.26 77.41L408.57 77.27L408.88 77.13L409.18 76.99L409.49 76.84L409.8 76.7L410.1 76.56L410.41 76.41L410.71 76.26L411.02 76.11L411.33 75.96L411.63 75.81L411.94 75.65L412.24 75.49L412.55 75.33L412.86 75.16L413.16 74.99L413.47 74.82L413.77 74.64L414.08 74.45L414.39 74.26L414.69 74.06L415 73.85L415.31 73.64L415.61 73.41L415.92 73.18L416.22 72.93L416.53 72.67L416.84 72.39L417.14 72.1L417.45 71.79L417.75 71.46L418.06 71.11L418.37 70.73L418.67 70.31L418.98 69.84L419.28 69.28L419.59 68.44L419.9 67.19L420.2 66.26L420.51 65.35L420.81 64.47L421.12 63.63L421.43 62.95L421.73 62.7L422.04 62.44L422.35 62.18L422.65 61.92L422.96 61.67L423.26 61.41L423.57 61.15L423.88 60.89L424.18 60.63L424.49 60.38L424.79 60.12L425.1 59.86L425.41 59.6L425.71 59.35ZM429.23 55.23L428.9 55.34L428.57 55.45L428.24 55.57L427.92 55.68L427.59 55.8L427.26 55.91L426.93 56.03L426.6 56.14L426.28 56.26L425.95 56.37L425.62 56.49L425.29 56.6L424.96 56.72L424.64 56.83L424.31 56.95L423.98 57.06L423.65 57.18L423.33 57.29L423 57.41L422.67 57.53L422.34 57.64L422.01 57.76L421.69 57.87L421.36 57.99L421.03 58.11L420.7 58.22L420.37 58.34L420.05 58.45L419.72 58.57L419.39 58.69L419.06 58.81L418.74 58.92L418.41 59.04L418.08 59.16L417.75 59.27L417.42 59.39L417.1 59.51L416.77 59.63L416.44 59.74L416.11 59.86L415.78 59.98L415.46 60.1L415.13 60.22L414.8 60.33L414.47 60.45L414.14 60.57L413.82 60.69L413.49 60.81L413.16 60.93L412.83 61.05L412.51 61.17L412.18 61.28L411.85 61.4L411.52 61.52L411.19 61.64L410.87 61.76L410.54 61.88L410.21 62L409.88 62.12L409.55 62.24L409.23 62.36L408.9 62.48L408.57 62.61L408.24 62.73L407.92 62.85L407.59 62.97L407.26 63.09L406.93 63.21L406.6 63.33L406.28 63.45L405.95 63.58L405.62 63.7L405.29 63.82L404.96 63.94L404.64 64.07L404.31 64.19L403.98 64.31L403.65 64.43L403.33 64.56L403 64.68L402.67 64.8L402.34 64.93L402.01 65.05L401.69 65.18L401.36 65.3L401.03 65.43L400.7 65.55L400.37 65.68L400.05 65.8L399.72 65.93L399.39 66.05L399.06 66.18L398.73 66.3L398.41 66.43L398.08 66.56L397.75 66.68L397.42 66.81L397.1 66.94L396.77 67.06L396.44 67.19L396.11 67.32L395.78 67.45L395.46 67.57L395.13 67.7L394.8 67.83L394.47 67.96L394.14 68.09L393.82 68.22L393.49 68.35L393.16 68.48L392.83 68.61L392.51 68.74L392.18 68.87L391.85 69L391.52 69.13L391.19 69.26L390.87 69.39L390.54 69.53L390.21 69.66L389.88 69.79L389.55 69.92L389.23 70.06L388.9 70.19L388.57 70.32L388.24 70.46L387.92 70.59L387.59 70.73L387.26 70.86L386.93 71L386.6 71.13L386.28 71.27L385.95 71.41L385.62 71.54L385.29 71.68L384.96 71.82L384.64 71.96L384.31 72.09L383.98 72.23L383.65 72.37L383.32 72.51L383 72.65L382.67 72.79L382.34 72.93L382.01 73.08L381.69 73.22L381.36 73.36L381.03 73.5L380.7 73.65L380.37 73.79L380.05 73.94L379.72 74.08L379.39 74.23L379.06 74.37L378.73 74.52L378.41 74.67L378.08 74.82L377.75 74.97L377.42 75.12L377.1 75.27L376.77 75.43L376.44 75.58L376.11 75.74L375.78 75.89L375.46 76.05L375.13 76.21L374.8 76.37L374.47 76.53L374.14 76.7L373.82 76.86L373.49 77.03L373.16 77.2L372.83 77.37L372.51 77.55L372.18 77.73L371.85 77.91L371.52 78.09L371.19 78.28L370.87 78.47L370.54 78.67L370.21 78.86L369.88 79.07L369.55 79.28L369.23 79.49L368.9 79.71L368.57 79.93L368.24 80.16L367.91 80.4L367.59 80.65L367.26 80.9L366.93 81.16L366.6 81.43L366.28 81.71L365.95 82L365.62 82.29L365.29 82.6L364.96 82.92L364.64 83.26L364.31 83.6L363.98 83.96L363.65 84.33L363.32 84.71L363 85.11L362.67 85.53L362.34 85.97L362.01 86.43L361.69 86.92L361.36 87.43L361.03 87.99L360.7 88.61L360.37 89.34L360.05 90.57L359.72 91.5L359.39 92.42L359.06 93.32L358.73 94.21L358.41 95.07L358.08 96.89L357.75 98.73L357.42 100.58L357.75 100.46L358.08 100.34L358.41 100.22L358.73 100.11L359.06 99.99L359.39 99.87L359.72 99.75L360.05 99.63L360.37 99.52L360.7 99.4L361.03 99.28L361.36 99.16L361.69 99.04L362.01 98.92L362.34 98.8L362.67 98.68L363 98.56L363.32 98.44L363.65 98.32L363.98 98.2L364.31 98.08L364.64 97.96L364.96 97.84L365.29 97.72L365.62 97.6L365.95 97.48L366.28 97.35L366.6 97.23L366.93 97.11L367.26 96.99L367.59 96.86L367.91 96.74L368.24 96.62L368.57 96.5L368.9 96.37L369.23 96.25L369.55 96.13L369.88 96L370.21 95.88L370.54 95.75L370.87 95.63L371.19 95.5L371.52 95.38L371.85 95.25L372.18 95.13L372.51 95L372.83 94.88L373.16 94.75L373.49 94.63L373.82 94.5L374.14 94.37L374.47 94.24L374.8 94.12L375.13 93.99L375.46 93.86L375.78 93.73L376.11 93.61L376.44 93.48L376.77 93.35L377.1 93.22L377.42 93.09L377.75 92.96L378.08 92.83L378.41 92.7L378.73 92.57L379.06 92.44L379.39 92.31L379.72 92.18L380.05 92.05L380.37 91.92L380.7 91.78L381.03 91.65L381.36 91.52L381.69 91.39L382.01 91.25L382.34 91.12L382.67 90.99L383 90.85L383.32 90.72L383.65 90.59L383.98 90.45L384.31 90.32L384.64 90.18L384.96 90.04L385.29 89.91L385.62 89.77L385.95 89.64L386.28 89.5L386.6 89.36L386.93 89.22L387.26 89.09L387.59 88.95L387.92 88.81L388.24 88.67L388.57 88.53L388.9 88.39L389.23 88.25L389.55 88.11L389.88 87.97L390.21 87.83L390.54 87.69L390.87 87.55L391.19 87.41L391.52 87.27L391.85 87.12L392.18 86.98L392.51 86.84L392.83 86.69L393.16 86.55L393.49 86.41L393.82 86.26L394.14 86.12L394.47 85.97L394.8 85.82L395.13 85.68L395.46 85.53L395.78 85.39L396.11 85.24L396.44 85.09L396.77 84.94L397.1 84.79L397.42 84.65L397.75 84.5L398.08 84.35L398.41 84.2L398.73 84.05L399.06 83.9L399.39 83.75L399.72 83.59L400.05 83.44L400.37 83.29L400.7 83.14L401.03 82.98L401.36 82.83L401.69 82.68L402.01 82.52L402.34 82.37L402.67 82.21L403 82.06L403.33 81.9L403.65 81.75L403.98 81.59L404.31 81.43L404.64 81.27L404.96 81.11L405.29 80.95L405.62 80.79L405.95 80.63L406.28 80.47L406.6 80.31L406.93 80.15L407.26 79.98L407.59 79.82L407.92 79.65L408.24 79.49L408.57 79.32L408.9 79.15L409.23 78.98L409.55 78.81L409.88 78.63L410.21 78.45L410.54 78.27L410.87 78.09L411.19 77.9L411.52 77.71L411.85 77.52L412.18 77.32L412.51 77.11L412.83 76.9L413.16 76.68L413.49 76.45L413.82 76.22L414.14 75.97L414.47 75.71L414.8 75.44L415.13 75.15L415.46 74.85L415.78 74.53L416.11 74.19L416.44 73.83L416.77 73.45L417.1 73.04L417.42 72.6L417.75 72.14L418.08 71.64L418.41 71.1L418.74 70.51L419.06 69.85L419.39 69.05L419.72 67.74L420.05 66.73L420.37 65.74L420.7 64.79L421.03 63.88L421.36 63L421.69 62.17L422.01 61.39L422.34 60.65L422.67 60.17L423 60.05L423.33 59.94L423.65 59.82L423.98 59.57L424.31 59.3L424.64 59.03L424.96 58.76L425.29 58.48L425.62 58.21L425.95 57.94L426.28 57.67L426.6 57.4L426.93 57.12L427.26 56.85L427.59 56.58L427.92 56.31L428.24 56.04L428.57 55.77L428.9 55.5L429.23 55.23ZM432.24 51.29L431.88 51.4L431.53 51.52L431.17 51.64L430.82 51.76L430.46 51.87L430.11 51.99L429.75 52.11L429.4 52.23L429.04 52.35L428.69 52.46L428.33 52.58L427.98 52.7L427.62 52.82L427.26 52.94L426.91 53.06L426.55 53.18L426.2 53.3L425.84 53.42L425.49 53.54L425.13 53.66L424.78 53.78L424.42 53.9L424.07 54.02L423.71 54.14L423.36 54.26L423 54.38L422.64 54.5L422.29 54.62L421.93 54.74L421.58 54.87L421.22 54.99L420.87 55.11L420.51 55.23L420.16 55.35L419.8 55.48L419.45 55.6L419.09 55.72L418.74 55.84L418.38 55.97L418.02 56.09L417.67 56.21L417.31 56.34L416.96 56.46L416.6 56.58L416.25 56.71L415.89 56.83L415.54 56.96L415.18 57.08L414.83 57.21L414.47 57.33L414.12 57.46L413.76 57.58L413.4 57.71L413.05 57.84L412.69 57.96L412.34 58.09L411.98 58.22L411.63 58.34L411.27 58.47L410.92 58.6L410.56 58.73L410.21 58.85L409.85 58.98L409.5 59.11L409.14 59.24L408.78 59.37L408.43 59.5L408.07 59.63L407.72 59.76L407.36 59.89L407.01 60.02L406.65 60.15L406.3 60.28L405.94 60.41L405.59 60.54L405.23 60.67L404.88 60.8L404.52 60.94L404.16 61.07L403.81 61.2L403.45 61.33L403.1 61.47L402.74 61.6L402.39 61.74L402.03 61.87L401.68 62.01L401.32 62.14L400.97 62.28L400.61 62.41L400.26 62.55L399.9 62.68L399.54 62.82L399.19 62.96L398.83 63.1L398.48 63.23L398.12 63.37L397.77 63.51L397.41 63.65L397.06 63.79L396.7 63.93L396.35 64.07L395.99 64.21L395.64 64.35L395.28 64.49L394.92 64.63L394.57 64.78L394.21 64.92L393.86 65.06L393.5 65.21L393.15 65.35L392.79 65.49L392.44 65.64L392.08 65.79L391.73 65.93L391.37 66.08L391.01 66.22L390.66 66.37L390.3 66.52L389.95 66.67L389.59 66.82L389.24 66.97L388.88 67.12L388.53 67.27L388.17 67.42L387.82 67.57L387.46 67.72L387.11 67.88L386.75 68.03L386.39 68.18L386.04 68.34L385.68 68.49L385.33 68.65L384.97 68.81L384.62 68.96L384.26 69.12L383.91 69.28L383.55 69.44L383.2 69.6L382.84 69.76L382.49 69.92L382.13 70.09L381.77 70.25L381.42 70.42L381.06 70.58L380.71 70.75L380.35 70.92L380 71.08L379.64 71.25L379.29 71.43L378.93 71.6L378.58 71.77L378.22 71.95L377.87 72.12L377.51 72.3L377.15 72.48L376.8 72.66L376.44 72.85L376.09 73.03L375.73 73.22L375.38 73.41L375.02 73.6L374.67 73.8L374.31 74L373.96 74.2L373.6 74.4L373.25 74.61L372.89 74.82L372.53 75.04L372.18 75.26L371.82 75.49L371.47 75.72L371.11 75.95L370.76 76.2L370.4 76.45L370.05 76.71L369.69 76.97L369.34 77.25L368.98 77.53L368.63 77.82L368.27 78.13L367.91 78.44L367.56 78.77L367.2 79.1L366.85 79.46L366.49 79.82L366.14 80.2L365.78 80.6L365.43 81.01L365.07 81.44L364.72 81.89L364.36 82.35L364.01 82.84L363.65 83.34L363.29 83.87L362.94 84.41L362.58 84.98L362.23 85.58L361.87 86.2L361.52 86.86L361.16 87.56L360.81 88.32L360.45 89.17L360.1 90.36L359.74 91.43L359.39 92.43L359.03 93.41L358.67 94.37L358.32 95.3L357.96 96.21L357.61 97.09L357.25 97.94L356.9 98.77L356.54 99.56L356.19 100.33L355.83 101.06L355.48 101.77L355.12 102.44L354.77 103.09L354.41 104.55L354.77 104.43L355.12 104.31L355.48 104.19L355.83 104.07L356.19 103.94L356.54 103.82L356.9 103.7L357.25 103.58L357.61 103.45L357.96 103.33L358.32 103.21L358.67 103.08L359.03 102.96L359.39 102.83L359.74 102.71L360.1 102.58L360.45 102.46L360.81 102.33L361.16 102.21L361.52 102.08L361.87 101.95L362.23 101.83L362.58 101.7L362.94 101.57L363.29 101.44L363.65 101.32L364.01 101.19L364.36 101.06L364.72 100.93L365.07 100.8L365.43 100.67L365.78 100.54L366.14 100.41L366.49 100.28L366.85 100.15L367.2 100.02L367.56 99.88L367.91 99.75L368.27 99.62L368.63 99.49L368.98 99.35L369.34 99.22L369.69 99.08L370.05 98.95L370.4 98.82L370.76 98.68L371.11 98.54L371.47 98.41L371.82 98.27L372.18 98.14L372.53 98L372.89 97.86L373.25 97.72L373.6 97.58L373.96 97.45L374.31 97.31L374.67 97.17L375.02 97.03L375.38 96.89L375.73 96.75L376.09 96.6L376.44 96.46L376.8 96.32L377.15 96.18L377.51 96.03L377.87 95.89L378.22 95.75L378.58 95.6L378.93 95.46L379.29 95.31L379.64 95.17L380 95.02L380.35 94.87L380.71 94.73L381.06 94.58L381.42 94.43L381.77 94.28L382.13 94.13L382.49 93.98L382.84 93.83L383.2 93.68L383.55 93.53L383.91 93.38L384.26 93.22L384.62 93.07L384.97 92.92L385.33 92.76L385.68 92.61L386.04 92.45L386.39 92.3L386.75 92.14L387.11 91.99L387.46 91.83L387.82 91.67L388.17 91.51L388.53 91.35L388.88 91.19L389.24 91.03L389.59 90.87L389.95 90.71L390.3 90.55L390.66 90.39L391.01 90.22L391.37 90.06L391.73 89.9L392.08 89.73L392.44 89.57L392.79 89.4L393.15 89.23L393.5 89.06L393.86 88.9L394.21 88.73L394.57 88.56L394.92 88.39L395.28 88.22L395.64 88.05L395.99 87.88L396.35 87.7L396.7 87.53L397.06 87.36L397.41 87.18L397.77 87.01L398.12 86.83L398.48 86.66L398.83 86.48L399.19 86.3L399.54 86.12L399.9 85.94L400.26 85.76L400.61 85.58L400.97 85.4L401.32 85.22L401.68 85.04L402.03 84.86L402.39 84.67L402.74 84.49L403.1 84.3L403.45 84.12L403.81 83.93L404.16 83.74L404.52 83.55L404.88 83.36L405.23 83.17L405.59 82.98L405.94 82.79L406.3 82.6L406.65 82.4L407.01 82.2L407.36 82.01L407.72 81.81L408.07 81.61L408.43 81.4L408.78 81.2L409.14 80.99L409.5 80.78L409.85 80.56L410.21 80.34L410.56 80.12L410.92 79.89L411.27 79.66L411.63 79.42L411.98 79.17L412.34 78.91L412.69 78.65L413.05 78.37L413.4 78.08L413.76 77.77L414.12 77.45L414.47 77.11L414.83 76.74L415.18 76.36L415.54 75.95L415.89 75.51L416.25 75.04L416.6 74.54L416.96 74L417.31 73.43L417.67 72.81L418.02 72.16L418.38 71.45L418.74 70.69L419.09 69.85L419.45 68.85L419.8 67.48L420.16 66.39L420.51 65.34L420.87 64.33L421.22 63.36L421.58 62.44L421.93 61.58L422.29 60.76L422.64 60L423 59.28L423.36 58.62L423.71 57.99L424.07 57.4L424.42 56.85L424.78 56.42L425.13 56.3L425.49 56.18L425.84 56.06L426.2 55.94L426.55 55.82L426.91 55.61L427.26 55.32L427.62 55.03L427.98 54.74L428.33 54.45L428.69 54.16L429.04 53.88L429.4 53.59L429.75 53.3L430.11 53.01L430.46 52.72L430.82 52.44L431.17 52.15L431.53 51.86L431.88 51.57L432.24 51.29ZM436.01 47.5L435.62 47.62L435.23 47.74L434.84 47.86L434.45 47.98L434.06 48.1L433.67 48.22L433.28 48.34L432.89 48.46L432.5 48.59L432.11 48.71L431.72 48.83L431.33 48.95L430.94 49.08L430.55 49.2L430.16 49.32L429.77 49.45L429.38 49.57L428.99 49.69L428.6 49.82L428.21 49.94L427.82 50.07L427.43 50.19L427.04 50.32L426.65 50.44L426.26 50.57L425.87 50.69L425.48 50.82L425.09 50.94L424.7 51.07L424.31 51.2L423.92 51.32L423.53 51.45L423.14 51.58L422.75 51.71L422.36 51.83L421.97 51.96L421.58 52.09L421.19 52.22L420.8 52.35L420.41 52.48L420.02 52.61L419.63 52.74L419.25 52.87L418.86 53L418.47 53.13L418.08 53.26L417.69 53.39L417.3 53.52L416.91 53.65L416.52 53.79L416.13 53.92L415.74 54.05L415.35 54.18L414.96 54.32L414.57 54.45L414.18 54.59L413.79 54.72L413.4 54.86L413.01 54.99L412.62 55.13L412.23 55.26L411.84 55.4L411.45 55.54L411.06 55.67L410.67 55.81L410.28 55.95L409.89 56.09L409.5 56.22L409.11 56.36L408.72 56.5L408.33 56.64L407.94 56.78L407.55 56.92L407.16 57.07L406.77 57.21L406.38 57.35L405.99 57.49L405.6 57.63L405.21 57.78L404.82 57.92L404.43 58.07L404.04 58.21L403.65 58.36L403.26 58.5L402.87 58.65L402.48 58.8L402.09 58.94L401.71 59.09L401.32 59.24L400.93 59.39L400.54 59.54L400.15 59.69L399.76 59.84L399.37 59.99L398.98 60.14L398.59 60.29L398.2 60.45L397.81 60.6L397.42 60.76L397.03 60.91L396.64 61.07L396.25 61.22L395.86 61.38L395.47 61.54L395.08 61.7L394.69 61.85L394.3 62.01L393.91 62.17L393.52 62.34L393.13 62.5L392.74 62.66L392.35 62.82L391.96 62.99L391.57 63.15L391.18 63.32L390.79 63.48L390.4 63.65L390.01 63.82L389.62 63.99L389.23 64.16L388.84 64.33L388.45 64.5L388.06 64.67L387.67 64.85L387.28 65.02L386.89 65.2L386.5 65.37L386.11 65.55L385.72 65.73L385.33 65.91L384.94 66.09L384.56 66.27L384.17 66.45L383.78 66.64L383.39 66.82L383 67.01L382.61 67.19L382.22 67.38L381.83 67.57L381.44 67.77L381.05 67.96L380.66 68.15L380.27 68.35L379.88 68.55L379.49 68.75L379.1 68.95L378.71 69.16L378.32 69.36L377.93 69.57L377.54 69.78L377.15 70L376.76 70.21L376.37 70.43L375.98 70.66L375.59 70.88L375.2 71.11L374.81 71.35L374.42 71.59L374.03 71.83L373.64 72.08L373.25 72.34L372.86 72.6L372.47 72.86L372.08 73.14L371.69 73.42L371.3 73.71L370.91 74.02L370.52 74.33L370.13 74.65L369.74 74.98L369.35 75.33L368.96 75.69L368.57 76.07L368.18 76.46L367.79 76.87L367.4 77.3L367.02 77.75L366.63 78.22L366.24 78.71L365.85 79.22L365.46 79.75L365.07 80.31L364.68 80.9L364.29 81.51L363.9 82.14L363.51 82.81L363.12 83.5L362.73 84.22L362.34 84.97L361.95 85.75L361.56 86.57L361.17 87.43L360.78 88.36L360.39 89.38L360 90.7L359.61 91.81L359.22 92.89L358.83 93.95L358.44 94.99L358.05 95.99L357.66 96.97L357.27 97.9L356.88 98.81L356.49 99.68L356.1 100.51L355.71 101.3L355.32 102.07L354.93 102.79L354.54 103.49L354.15 104.15L353.76 104.78L353.37 105.38L352.98 105.95L352.59 106.5L352.2 107.03L351.81 107.47L351.42 107.78L351.03 108.09L350.64 108.4L351.03 108.27L351.42 108.15L351.81 108.02L352.2 107.9L352.59 107.77L352.98 107.65L353.37 107.52L353.76 107.4L354.15 107.27L354.54 107.14L354.93 107.01L355.32 106.88L355.71 106.76L356.1 106.63L356.49 106.5L356.88 106.37L357.27 106.24L357.66 106.11L358.05 105.97L358.44 105.84L358.83 105.71L359.22 105.58L359.61 105.44L360 105.31L360.39 105.18L360.78 105.04L361.17 104.91L361.56 104.77L361.95 104.63L362.34 104.5L362.73 104.36L363.12 104.22L363.51 104.08L363.9 103.95L364.29 103.81L364.68 103.67L365.07 103.53L365.46 103.39L365.85 103.25L366.24 103.1L366.63 102.96L367.02 102.82L367.4 102.67L367.79 102.53L368.18 102.39L368.57 102.24L368.96 102.09L369.35 101.95L369.74 101.8L370.13 101.65L370.52 101.51L370.91 101.36L371.3 101.21L371.69 101.06L372.08 100.91L372.47 100.75L372.86 100.6L373.25 100.45L373.64 100.3L374.03 100.14L374.42 99.99L374.81 99.83L375.2 99.68L375.59 99.52L375.98 99.36L376.37 99.2L376.76 99.04L377.15 98.89L377.54 98.73L377.93 98.56L378.32 98.4L378.71 98.24L379.1 98.08L379.49 97.91L379.88 97.75L380.27 97.58L380.66 97.42L381.05 97.25L381.44 97.08L381.83 96.91L382.22 96.74L382.61 96.57L383 96.4L383.39 96.23L383.78 96.06L384.17 95.88L384.56 95.71L384.94 95.53L385.33 95.36L385.72 95.18L386.11 95L386.5 94.82L386.89 94.64L387.28 94.46L387.67 94.28L388.06 94.1L388.45 93.91L388.84 93.73L389.23 93.54L389.62 93.36L390.01 93.17L390.4 92.98L390.79 92.79L391.18 92.6L391.57 92.41L391.96 92.22L392.35 92.03L392.74 91.84L393.13 91.64L393.52 91.45L393.91 91.25L394.3 91.05L394.69 90.85L395.08 90.65L395.47 90.45L395.86 90.25L396.25 90.05L396.64 89.84L397.03 89.64L397.42 89.43L397.81 89.23L398.2 89.02L398.59 88.81L398.98 88.6L399.37 88.39L399.76 88.18L400.15 87.97L400.54 87.75L400.93 87.54L401.32 87.32L401.71 87.11L402.09 86.89L402.48 86.67L402.87 86.45L403.26 86.23L403.65 86L404.04 85.78L404.43 85.55L404.82 85.33L405.21 85.1L405.6 84.87L405.99 84.64L406.38 84.4L406.77 84.17L407.16 83.93L407.55 83.69L407.94 83.45L408.33 83.2L408.72 82.96L409.11 82.7L409.5 82.45L409.89 82.18L410.28 81.91L410.67 81.64L411.06 81.36L411.45 81.06L411.84 80.76L412.23 80.44L412.62 80.11L413.01 79.76L413.4 79.4L413.79 79.01L414.18 78.59L414.57 78.15L414.96 77.67L415.35 77.16L415.74 76.61L416.13 76.02L416.52 75.38L416.91 74.7L417.3 73.97L417.69 73.18L418.08 72.34L418.47 71.45L418.86 70.48L419.25 69.41L419.63 68.06L420.02 66.8L420.41 65.63L420.8 64.5L421.19 63.44L421.58 62.43L421.97 61.48L422.36 60.6L422.75 59.77L423.14 59.01L423.53 58.3L423.92 57.64L424.31 57.02L424.7 56.44L425.09 55.9L425.48 55.39L425.87 54.91L426.26 54.46L426.65 54.02L427.04 53.6L427.43 53.2L427.82 52.81L428.21 52.58L428.6 52.46L428.99 52.34L429.38 52.21L429.77 52.09L430.16 51.97L430.55 51.81L430.94 51.5L431.33 51.19L431.72 50.88L432.11 50.57L432.5 50.26L432.89 49.96L433.28 49.65L433.67 49.34L434.06 49.03L434.45 48.72L434.84 48.42L435.23 48.11L435.62 47.8L436.01 47.5ZM439.77 44.24L439.35 44.37L438.92 44.49L438.5 44.61L438.07 44.73L437.65 44.86L437.23 44.98L436.8 45.11L436.38 45.23L435.95 45.35L435.53 45.48L435.11 45.6L434.68 45.73L434.26 45.85L433.83 45.98L433.41 46.1L432.98 46.23L432.56 46.36L432.14 46.48L431.71 46.61L431.29 46.74L430.86 46.86L430.44 46.99L430.02 47.12L429.59 47.25L429.17 47.38L428.74 47.51L428.32 47.64L427.89 47.77L427.47 47.9L427.05 48.03L426.62 48.16L426.2 48.29L425.77 48.42L425.35 48.55L424.93 48.68L424.5 48.81L424.08 48.95L423.65 49.08L423.23 49.21L422.8 49.35L422.38 49.48L421.96 49.62L421.53 49.75L421.11 49.89L420.68 50.02L420.26 50.16L419.84 50.3L419.41 50.43L418.99 50.57L418.56 50.71L418.14 50.85L417.71 50.98L417.29 51.12L416.87 51.26L416.44 51.4L416.02 51.54L415.59 51.68L415.17 51.83L414.75 51.97L414.32 52.11L413.9 52.25L413.47 52.4L413.05 52.54L412.62 52.69L412.2 52.83L411.78 52.98L411.35 53.12L410.93 53.27L410.5 53.42L410.08 53.56L409.66 53.71L409.23 53.86L408.81 54.01L408.38 54.16L407.96 54.31L407.53 54.46L407.11 54.62L406.69 54.77L406.26 54.92L405.84 55.08L405.41 55.23L404.99 55.39L404.57 55.54L404.14 55.7L403.72 55.86L403.29 56.02L402.87 56.17L402.44 56.33L402.02 56.49L401.6 56.66L401.17 56.82L400.75 56.98L400.32 57.15L399.9 57.31L399.48 57.48L399.05 57.64L398.63 57.81L398.2 57.98L397.78 58.15L397.35 58.32L396.93 58.49L396.51 58.66L396.08 58.83L395.66 59L395.23 59.18L394.81 59.35L394.39 59.53L393.96 59.71L393.54 59.89L393.11 60.07L392.69 60.25L392.26 60.43L391.84 60.61L391.42 60.8L390.99 60.98L390.57 61.17L390.14 61.36L389.72 61.55L389.3 61.74L388.87 61.93L388.45 62.12L388.02 62.32L387.6 62.51L387.17 62.71L386.75 62.91L386.33 63.11L385.9 63.31L385.48 63.51L385.05 63.72L384.63 63.92L384.21 64.13L383.78 64.34L383.36 64.55L382.93 64.76L382.51 64.98L382.08 65.19L381.66 65.41L381.24 65.63L380.81 65.86L380.39 66.08L379.96 66.31L379.54 66.54L379.12 66.78L378.69 67.01L378.27 67.25L377.84 67.5L377.42 67.74L376.99 67.99L376.57 68.25L376.15 68.51L375.72 68.77L375.3 69.04L374.87 69.32L374.45 69.6L374.03 69.89L373.6 70.19L373.18 70.49L372.75 70.8L372.33 71.13L371.9 71.46L371.48 71.81L371.06 72.17L370.63 72.54L370.21 72.93L369.78 73.34L369.36 73.76L368.94 74.2L368.51 74.67L368.09 75.16L367.66 75.67L367.24 76.21L366.81 76.77L366.39 77.37L365.97 77.99L365.54 78.65L365.12 79.33L364.69 80.05L364.27 80.81L363.85 81.6L363.42 82.42L363 83.27L362.57 84.16L362.15 85.09L361.72 86.05L361.3 87.05L360.88 88.11L360.45 89.25L360.03 90.62L359.6 91.82L359.18 93L358.76 94.15L358.33 95.27L357.91 96.35L357.48 97.4L357.06 98.4L356.63 99.36L356.21 100.28L355.79 101.15L355.36 101.99L354.94 102.78L354.51 103.53L354.09 104.25L353.67 104.93L353.24 105.58L352.82 106.19L352.39 106.77L351.97 107.33L351.54 107.86L351.12 108.37L350.7 108.73L350.27 109.07L349.85 109.4L349.42 109.73L349 110.06L348.58 110.39L348.15 110.72L347.73 111.04L347.3 111.37L346.88 111.7L347.3 111.57L347.73 111.45L348.15 111.32L348.58 111.2L349 111.07L349.42 110.95L349.85 110.82L350.27 110.69L350.7 110.56L351.12 110.43L351.54 110.3L351.97 110.17L352.39 110.04L352.82 109.91L353.24 109.78L353.67 109.65L354.09 109.51L354.51 109.38L354.94 109.24L355.36 109.11L355.79 108.97L356.21 108.84L356.63 108.7L357.06 108.56L357.48 108.43L357.91 108.29L358.33 108.15L358.76 108.01L359.18 107.87L359.6 107.72L360.03 107.58L360.45 107.44L360.88 107.3L361.3 107.15L361.72 107.01L362.15 106.86L362.57 106.72L363 106.57L363.42 106.42L363.85 106.27L364.27 106.12L364.69 105.97L365.12 105.82L365.54 105.67L365.97 105.52L366.39 105.36L366.81 105.21L367.24 105.06L367.66 104.9L368.09 104.74L368.51 104.59L368.94 104.43L369.36 104.27L369.78 104.11L370.21 103.95L370.63 103.79L371.06 103.62L371.48 103.46L371.9 103.29L372.33 103.13L372.75 102.96L373.18 102.8L373.6 102.63L374.03 102.46L374.45 102.29L374.87 102.12L375.3 101.94L375.72 101.77L376.15 101.6L376.57 101.42L376.99 101.24L377.42 101.07L377.84 100.89L378.27 100.71L378.69 100.53L379.12 100.35L379.54 100.16L379.96 99.98L380.39 99.79L380.81 99.61L381.24 99.42L381.66 99.23L382.08 99.04L382.51 98.85L382.93 98.66L383.36 98.47L383.78 98.27L384.21 98.08L384.63 97.88L385.05 97.68L385.48 97.48L385.9 97.28L386.33 97.08L386.75 96.87L387.17 96.67L387.6 96.46L388.02 96.26L388.45 96.05L388.87 95.84L389.3 95.63L389.72 95.42L390.14 95.2L390.57 94.99L390.99 94.77L391.42 94.55L391.84 94.33L392.26 94.11L392.69 93.89L393.11 93.67L393.54 93.44L393.96 93.21L394.39 92.99L394.81 92.76L395.23 92.53L395.66 92.3L396.08 92.06L396.51 91.83L396.93 91.59L397.35 91.35L397.78 91.11L398.2 90.87L398.63 90.63L399.05 90.39L399.48 90.14L399.9 89.9L400.32 89.65L400.75 89.4L401.17 89.15L401.6 88.9L402.02 88.64L402.44 88.39L402.87 88.13L403.29 87.87L403.72 87.61L404.14 87.35L404.57 87.09L404.99 86.82L405.41 86.55L405.84 86.28L406.26 86.01L406.69 85.73L407.11 85.45L407.53 85.17L407.96 84.89L408.38 84.6L408.81 84.3L409.23 84L409.66 83.7L410.08 83.38L410.5 83.06L410.93 82.72L411.35 82.37L411.78 82.01L412.2 81.63L412.62 81.23L413.05 80.81L413.47 80.36L413.9 79.88L414.32 79.36L414.75 78.8L415.17 78.2L415.59 77.54L416.02 76.83L416.44 76.07L416.87 75.24L417.29 74.35L417.71 73.39L418.14 72.38L418.56 71.29L418.99 70.14L419.41 68.86L419.84 67.38L420.26 66.08L420.68 64.84L421.11 63.67L421.53 62.56L421.96 61.52L422.38 60.56L422.8 59.67L423.23 58.85L423.65 58.09L424.08 57.39L424.5 56.73L424.93 56.13L425.35 55.56L425.77 55.03L426.2 54.53L426.62 54.05L427.05 53.59L427.47 53.16L427.89 52.73L428.32 52.33L428.74 51.93L429.17 51.54L429.59 51.16L430.02 50.79L430.44 50.43L430.86 50.07L431.29 49.71L431.71 49.36L432.14 49.13L432.56 49L432.98 48.87L433.41 48.75L433.83 48.62L434.26 48.49L434.68 48.16L435.11 47.83L435.53 47.51L435.95 47.18L436.38 46.85L436.8 46.53L437.23 46.2L437.65 45.87L438.07 45.55L438.5 45.22L438.92 44.9L439.35 44.57L439.77 44.24ZM442.78 41.66L442.33 41.78L441.88 41.9L441.43 42.02L440.98 42.15L440.53 42.27L440.07 42.39L439.62 42.51L439.17 42.64L438.72 42.76L438.27 42.89L437.82 43.01L437.36 43.13L436.91 43.26L436.46 43.39L436.01 43.51L435.56 43.64L435.11 43.76L434.65 43.89L434.2 44.02L433.75 44.14L433.3 44.27L432.85 44.4L432.4 44.53L431.94 44.66L431.49 44.79L431.04 44.92L430.59 45.05L430.14 45.18L429.69 45.31L429.23 45.44L428.78 45.57L428.33 45.7L427.88 45.84L427.43 45.97L426.98 46.1L426.52 46.24L426.07 46.37L425.62 46.5L425.17 46.64L424.72 46.78L424.27 46.91L423.81 47.05L423.36 47.19L422.91 47.32L422.46 47.46L422.01 47.6L421.56 47.74L421.1 47.88L420.65 48.02L420.2 48.16L419.75 48.3L419.3 48.44L418.85 48.58L418.39 48.73L417.94 48.87L417.49 49.01L417.04 49.16L416.59 49.3L416.14 49.45L415.68 49.6L415.23 49.74L414.78 49.89L414.33 50.04L413.88 50.19L413.42 50.34L412.97 50.49L412.52 50.64L412.07 50.79L411.62 50.94L411.17 51.1L410.71 51.25L410.26 51.41L409.81 51.56L409.36 51.72L408.91 51.88L408.46 52.03L408 52.19L407.55 52.35L407.1 52.51L406.65 52.67L406.2 52.84L405.75 53L405.29 53.16L404.84 53.33L404.39 53.49L403.94 53.66L403.49 53.83L403.04 54L402.58 54.17L402.13 54.34L401.68 54.51L401.23 54.68L400.78 54.86L400.33 55.03L399.87 55.21L399.42 55.39L398.97 55.56L398.52 55.74L398.07 55.92L397.62 56.11L397.16 56.29L396.71 56.47L396.26 56.66L395.81 56.85L395.36 57.03L394.91 57.22L394.45 57.41L394 57.61L393.55 57.8L393.1 58L392.65 58.19L392.2 58.39L391.74 58.59L391.29 58.79L390.84 58.99L390.39 59.2L389.94 59.4L389.49 59.61L389.03 59.82L388.58 60.03L388.13 60.24L387.68 60.46L387.23 60.67L386.78 60.89L386.32 61.11L385.87 61.33L385.42 61.56L384.97 61.78L384.52 62.01L384.07 62.24L383.61 62.48L383.16 62.71L382.71 62.95L382.26 63.19L381.81 63.43L381.36 63.68L380.9 63.93L380.45 64.18L380 64.43L379.55 64.69L379.1 64.95L378.65 65.22L378.19 65.49L377.74 65.76L377.29 66.04L376.84 66.33L376.39 66.62L375.94 66.91L375.48 67.22L375.03 67.53L374.58 67.85L374.13 68.18L373.68 68.51L373.23 68.86L372.77 69.22L372.32 69.59L371.87 69.98L371.42 70.38L370.97 70.8L370.51 71.24L370.06 71.7L369.61 72.18L369.16 72.69L368.71 73.22L368.26 73.78L367.8 74.37L367.35 74.99L366.9 75.65L366.45 76.34L366 77.07L365.55 77.84L365.09 78.65L364.64 79.5L364.19 80.39L363.74 81.32L363.29 82.29L362.84 83.3L362.38 84.34L361.93 85.42L361.48 86.54L361.03 87.7L360.58 88.92L360.13 90.29L359.67 91.62L359.22 92.88L358.77 94.11L358.32 95.3L357.87 96.45L357.42 97.56L356.96 98.62L356.51 99.63L356.06 100.59L355.61 101.51L355.16 102.38L354.71 103.2L354.25 103.98L353.8 104.71L353.35 105.41L352.9 106.07L352.45 106.7L352 107.29L351.54 107.86L351.09 108.4L350.64 108.91L350.19 109.41L349.74 109.88L349.29 110.22L348.83 110.57L348.38 110.91L347.93 111.25L347.48 111.6L347.03 111.94L346.58 112.28L346.12 112.62L345.67 112.96L345.22 113.3L344.77 113.64L344.32 113.98L343.87 114.32L344.32 114.2L344.77 114.07L345.22 113.95L345.67 113.83L346.12 113.7L346.58 113.58L347.03 113.45L347.48 113.33L347.93 113.2L348.38 113.07L348.83 112.94L349.29 112.81L349.74 112.69L350.19 112.55L350.64 112.42L351.09 112.29L351.54 112.16L352 112.03L352.45 111.89L352.9 111.76L353.35 111.62L353.8 111.48L354.25 111.35L354.71 111.21L355.16 111.07L355.61 110.93L356.06 110.79L356.51 110.65L356.96 110.51L357.42 110.36L357.87 110.22L358.32 110.08L358.77 109.93L359.22 109.78L359.67 109.64L360.13 109.49L360.58 109.34L361.03 109.19L361.48 109.04L361.93 108.89L362.38 108.73L362.84 108.58L363.29 108.43L363.74 108.27L364.19 108.11L364.64 107.96L365.09 107.8L365.55 107.64L366 107.48L366.45 107.31L366.9 107.15L367.35 106.99L367.8 106.82L368.26 106.65L368.71 106.49L369.16 106.32L369.61 106.15L370.06 105.98L370.51 105.81L370.97 105.63L371.42 105.46L371.87 105.28L372.32 105.1L372.77 104.93L373.23 104.75L373.68 104.57L374.13 104.38L374.58 104.2L375.03 104.01L375.48 103.83L375.94 103.64L376.39 103.45L376.84 103.26L377.29 103.07L377.74 102.88L378.19 102.68L378.65 102.49L379.1 102.29L379.55 102.09L380 101.89L380.45 101.69L380.9 101.49L381.36 101.28L381.81 101.07L382.26 100.87L382.71 100.66L383.16 100.45L383.61 100.23L384.07 100.02L384.52 99.8L384.97 99.58L385.42 99.37L385.87 99.14L386.32 98.92L386.78 98.7L387.23 98.47L387.68 98.24L388.13 98.01L388.58 97.78L389.03 97.55L389.49 97.32L389.94 97.08L390.39 96.84L390.84 96.6L391.29 96.36L391.74 96.12L392.2 95.87L392.65 95.62L393.1 95.37L393.55 95.12L394 94.87L394.45 94.62L394.91 94.36L395.36 94.1L395.81 93.84L396.26 93.58L396.71 93.32L397.16 93.05L397.62 92.78L398.07 92.51L398.52 92.24L398.97 91.97L399.42 91.69L399.87 91.42L400.33 91.14L400.78 90.86L401.23 90.57L401.68 90.29L402.13 90L402.58 89.72L403.04 89.42L403.49 89.13L403.94 88.84L404.39 88.54L404.84 88.24L405.29 87.94L405.75 87.63L406.2 87.32L406.65 87.01L407.1 86.7L407.55 86.38L408 86.05L408.46 85.72L408.91 85.38L409.36 85.04L409.81 84.69L410.26 84.32L410.71 83.95L411.17 83.55L411.62 83.15L412.07 82.72L412.52 82.26L412.97 81.78L413.42 81.26L413.88 80.7L414.33 80.1L414.78 79.45L415.23 78.73L415.68 77.96L416.14 77.11L416.59 76.2L417.04 75.21L417.49 74.15L417.94 73.01L418.39 71.81L418.85 70.54L419.3 69.19L419.75 67.65L420.2 66.26L420.65 64.94L421.1 63.68L421.56 62.5L422.01 61.4L422.46 60.39L422.91 59.46L423.36 58.6L423.81 57.82L424.27 57.09L424.72 56.42L425.17 55.8L425.62 55.22L426.07 54.67L426.52 54.16L426.98 53.67L427.43 53.2L427.88 52.75L428.33 52.32L428.78 51.89L429.23 51.48L429.69 51.08L430.14 50.69L430.59 50.3L431.04 49.92L431.49 49.54L431.94 49.17L432.4 48.81L432.85 48.45L433.3 48.09L433.75 47.73L434.2 47.38L434.65 47.03L435.11 46.69L435.56 46.34L436.01 46.15L436.46 46.03L436.91 45.9L437.36 45.73L437.82 45.39L438.27 45.05L438.72 44.71L439.17 44.37L439.62 44.03L440.07 43.69L440.53 43.35L440.98 43.01L441.43 42.67L441.88 42.33L442.33 42L442.78 41.66ZM446.05 39.06L445.57 39.18L445.09 39.3L444.6 39.42L444.12 39.54L443.64 39.66L443.16 39.78L442.68 39.9L442.2 40.02L441.71 40.14L441.23 40.27L440.75 40.39L440.27 40.51L439.79 40.63L439.31 40.76L438.83 40.88L438.34 41.01L437.86 41.13L437.38 41.26L436.9 41.38L436.42 41.51L435.94 41.64L435.46 41.76L434.97 41.89L434.49 42.02L434.01 42.15L433.53 42.28L433.05 42.4L432.57 42.53L432.08 42.66L431.6 42.8L431.12 42.93L430.64 43.06L430.16 43.19L429.68 43.32L429.2 43.46L428.71 43.59L428.23 43.72L427.75 43.86L427.27 44L426.79 44.13L426.31 44.27L425.83 44.41L425.34 44.54L424.86 44.68L424.38 44.82L423.9 44.96L423.42 45.1L422.94 45.24L422.46 45.38L421.97 45.52L421.49 45.67L421.01 45.81L420.53 45.96L420.05 46.1L419.57 46.25L419.08 46.39L418.6 46.54L418.12 46.69L417.64 46.84L417.16 46.99L416.68 47.14L416.2 47.29L415.71 47.44L415.23 47.59L414.75 47.75L414.27 47.9L413.79 48.06L413.31 48.21L412.83 48.37L412.34 48.53L411.86 48.69L411.38 48.85L410.9 49.01L410.42 49.17L409.94 49.33L409.45 49.5L408.97 49.66L408.49 49.83L408.01 49.99L407.53 50.16L407.05 50.33L406.57 50.5L406.08 50.67L405.6 50.85L405.12 51.02L404.64 51.2L404.16 51.37L403.68 51.55L403.2 51.73L402.71 51.91L402.23 52.09L401.75 52.28L401.27 52.46L400.79 52.65L400.31 52.83L399.83 53.02L399.34 53.21L398.86 53.4L398.38 53.6L397.9 53.79L397.42 53.99L396.94 54.19L396.45 54.39L395.97 54.59L395.49 54.79L395.01 55L394.53 55.2L394.05 55.41L393.57 55.62L393.08 55.83L392.6 56.05L392.12 56.26L391.64 56.48L391.16 56.7L390.68 56.92L390.2 57.15L389.71 57.38L389.23 57.6L388.75 57.83L388.27 58.07L387.79 58.3L387.31 58.54L386.82 58.78L386.34 59.02L385.86 59.27L385.38 59.52L384.9 59.77L384.42 60.02L383.94 60.28L383.45 60.54L382.97 60.8L382.49 61.07L382.01 61.34L381.53 61.61L381.05 61.89L380.57 62.17L380.08 62.45L379.6 62.74L379.12 63.03L378.64 63.33L378.16 63.64L377.68 63.95L377.2 64.27L376.71 64.59L376.23 64.92L375.75 65.26L375.27 65.61L374.79 65.97L374.31 66.34L373.82 66.72L373.34 67.12L372.86 67.53L372.38 67.96L371.9 68.4L371.42 68.87L370.94 69.36L370.45 69.87L369.97 70.41L369.49 70.97L369.01 71.57L368.53 72.21L368.05 72.88L367.57 73.59L367.08 74.34L366.6 75.14L366.12 75.98L365.64 76.87L365.16 77.81L364.68 78.8L364.19 79.84L363.71 80.92L363.23 82.05L362.75 83.22L362.27 84.43L361.79 85.67L361.31 86.95L360.82 88.27L360.34 89.64L359.86 91.09L359.38 92.45L358.9 93.77L358.42 95.05L357.94 96.28L357.45 97.47L356.97 98.6L356.49 99.68L356.01 100.7L355.53 101.67L355.05 102.58L354.57 103.45L354.08 104.26L353.6 105.03L353.12 105.75L352.64 106.44L352.16 107.09L351.68 107.7L351.19 108.28L350.71 108.83L350.23 109.36L349.75 109.86L349.27 110.35L348.79 110.81L348.31 111.25L347.82 111.68L347.34 112.1L346.86 112.5L346.38 112.84L345.9 113.08L345.42 113.43L344.94 113.79L344.45 114.14L343.97 114.49L343.49 114.84L343.01 115.19L342.53 115.54L342.05 115.89L341.56 116.24L341.08 116.59L340.6 116.94L341.08 116.82L341.56 116.7L342.05 116.58L342.53 116.47L343.01 116.35L343.49 116.23L343.97 116.1L344.45 115.98L344.94 115.86L345.42 115.74L345.9 115.61L346.38 115.49L346.86 115.36L347.34 115.23L347.82 115.1L348.31 114.98L348.79 114.85L349.27 114.72L349.75 114.58L350.23 114.45L350.71 114.32L351.19 114.18L351.68 114.05L352.16 113.91L352.64 113.78L353.12 113.64L353.6 113.5L354.08 113.36L354.57 113.22L355.05 113.07L355.53 112.93L356.01 112.79L356.49 112.64L356.97 112.5L357.45 112.35L357.94 112.2L358.42 112.05L358.9 111.9L359.38 111.75L359.86 111.59L360.34 111.44L360.82 111.28L361.31 111.12L361.79 110.97L362.27 110.81L362.75 110.65L363.23 110.48L363.71 110.32L364.19 110.16L364.68 109.99L365.16 109.82L365.64 109.65L366.12 109.48L366.6 109.31L367.08 109.14L367.57 108.96L368.05 108.79L368.53 108.61L369.01 108.43L369.49 108.25L369.97 108.07L370.45 107.88L370.94 107.7L371.42 107.51L371.9 107.32L372.38 107.13L372.86 106.94L373.34 106.75L373.82 106.55L374.31 106.36L374.79 106.16L375.27 105.96L375.75 105.76L376.23 105.55L376.71 105.35L377.2 105.14L377.68 104.93L378.16 104.72L378.64 104.51L379.12 104.29L379.6 104.07L380.08 103.86L380.57 103.63L381.05 103.41L381.53 103.19L382.01 102.96L382.49 102.73L382.97 102.5L383.45 102.27L383.94 102.03L384.42 101.79L384.9 101.55L385.38 101.31L385.86 101.07L386.34 100.82L386.82 100.58L387.31 100.32L387.79 100.07L388.27 99.82L388.75 99.56L389.23 99.3L389.71 99.04L390.2 98.77L390.68 98.51L391.16 98.24L391.64 97.97L392.12 97.69L392.6 97.42L393.08 97.14L393.57 96.86L394.05 96.58L394.53 96.29L395.01 96L395.49 95.71L395.97 95.42L396.45 95.13L396.94 94.83L397.42 94.53L397.9 94.23L398.38 93.92L398.86 93.62L399.34 93.31L399.83 93L400.31 92.68L400.79 92.36L401.27 92.05L401.75 91.72L402.23 91.4L402.71 91.07L403.2 90.74L403.68 90.41L404.16 90.08L404.64 89.74L405.12 89.4L405.6 89.05L406.08 88.7L406.57 88.35L407.05 87.99L407.53 87.63L408.01 87.26L408.49 86.88L408.97 86.5L409.45 86.1L409.94 85.7L410.42 85.28L410.9 84.84L411.38 84.38L411.86 83.9L412.34 83.39L412.83 82.84L413.31 82.25L413.79 81.62L414.27 80.93L414.75 80.17L415.23 79.35L415.71 78.44L416.2 77.45L416.68 76.38L417.16 75.21L417.64 73.97L418.12 72.65L418.6 71.26L419.08 69.81L419.57 68.27L420.05 66.73L420.53 65.29L421.01 63.93L421.49 62.66L421.97 61.48L422.46 60.4L422.94 59.41L423.42 58.5L423.9 57.67L424.38 56.91L424.86 56.22L425.34 55.57L425.83 54.97L426.31 54.4L426.79 53.87L427.27 53.36L427.75 52.88L428.23 52.41L428.71 51.96L429.2 51.52L429.68 51.09L430.16 50.67L430.64 50.26L431.12 49.85L431.6 49.45L432.08 49.06L432.57 48.67L433.05 48.29L433.53 47.91L434.01 47.53L434.49 47.16L434.97 46.79L435.46 46.42L435.94 46.06L436.42 45.7L436.9 45.34L437.38 44.99L437.86 44.64L438.34 44.29L438.83 43.94L439.31 43.6L439.79 43.28L440.27 43.15L440.75 42.92L441.23 42.57L441.71 42.22L442.2 41.86L442.68 41.51L443.16 41.16L443.64 40.81L444.12 40.46L444.6 40.11L445.09 39.76L445.57 39.43L446.05 39.06ZM449.81 36.52L449.3 36.64L448.78 36.75L448.27 36.87L447.75 36.99L447.23 37.1L446.72 37.22L446.2 37.34L445.69 37.46L445.17 37.58L444.66 37.7L444.14 37.82L443.62 37.94L443.11 38.06L442.59 38.18L442.08 38.3L441.56 38.42L441.04 38.54L440.53 38.67L440.01 38.79L439.5 38.91L438.98 39.04L438.46 39.16L437.95 39.29L437.43 39.41L436.92 39.54L436.4 39.67L435.89 39.79L435.37 39.92L434.85 40.05L434.34 40.18L433.82 40.31L433.31 40.44L432.79 40.57L432.27 40.7L431.76 40.83L431.24 40.97L430.73 41.1L430.21 41.24L429.69 41.37L429.18 41.51L428.66 41.64L428.15 41.78L427.63 41.92L427.12 42.06L426.6 42.19L426.08 42.33L425.57 42.47L425.05 42.62L424.54 42.76L424.02 42.9L423.5 43.05L422.99 43.19L422.47 43.34L421.96 43.48L421.44 43.63L420.92 43.78L420.41 43.93L419.89 44.08L419.38 44.23L418.86 44.38L418.35 44.53L417.83 44.69L417.31 44.84L416.8 45L416.28 45.15L415.77 45.31L415.25 45.47L414.73 45.63L414.22 45.79L413.7 45.95L413.19 46.12L412.67 46.28L412.15 46.45L411.64 46.62L411.12 46.79L410.61 46.96L410.09 47.13L409.58 47.3L409.06 47.47L408.54 47.65L408.03 47.83L407.51 48L407 48.18L406.48 48.36L405.96 48.55L405.45 48.73L404.93 48.92L404.42 49.1L403.9 49.29L403.38 49.48L402.87 49.68L402.35 49.87L401.84 50.07L401.32 50.27L400.81 50.46L400.29 50.67L399.77 50.87L399.26 51.08L398.74 51.28L398.23 51.49L397.71 51.7L397.19 51.92L396.68 52.13L396.16 52.35L395.65 52.57L395.13 52.79L394.61 53.02L394.1 53.25L393.58 53.48L393.07 53.71L392.55 53.94L392.04 54.18L391.52 54.42L391 54.66L390.49 54.91L389.97 55.15L389.46 55.4L388.94 55.66L388.42 55.91L387.91 56.17L387.39 56.44L386.88 56.7L386.36 56.97L385.84 57.24L385.33 57.52L384.81 57.8L384.3 58.08L383.78 58.37L383.27 58.66L382.75 58.96L382.23 59.26L381.72 59.56L381.2 59.87L380.69 60.18L380.17 60.5L379.65 60.83L379.14 61.16L378.62 61.5L378.11 61.84L377.59 62.2L377.07 62.56L376.56 62.93L376.04 63.31L375.53 63.7L375.01 64.11L374.5 64.53L373.98 64.96L373.46 65.41L372.95 65.88L372.43 66.37L371.92 66.88L371.4 67.42L370.88 67.99L370.37 68.58L369.85 69.22L369.34 69.89L368.82 70.6L368.3 71.36L367.79 72.17L367.27 73.02L366.76 73.94L366.24 74.91L365.73 75.94L365.21 77.02L364.69 78.17L364.18 79.38L363.66 80.64L363.15 81.94L362.63 83.3L362.11 84.69L361.6 86.11L361.08 87.56L360.57 89.03L360.05 90.55L359.53 92.02L359.02 93.44L358.5 94.82L357.99 96.15L357.47 97.43L356.96 98.64L356.44 99.79L355.92 100.88L355.41 101.9L354.89 102.86L354.38 103.77L353.86 104.62L353.34 105.42L352.83 106.17L352.31 106.88L351.8 107.55L351.28 108.18L350.76 108.78L350.25 109.34L349.73 109.88L349.22 110.4L348.7 110.89L348.19 111.36L347.67 111.82L347.15 112.26L346.64 112.68L346.12 113.09L345.61 113.49L345.09 113.88L344.57 114.26L344.06 114.63L343.54 114.99L343.03 115.34L342.51 115.57L341.99 115.86L341.48 116.23L340.96 116.59L340.45 116.95L339.93 117.31L339.42 117.64L338.9 117.94L338.38 118.25L337.87 118.54L337.35 118.84L336.84 119.46L337.35 119.35L337.87 119.24L338.38 119.13L338.9 119.02L339.42 118.91L339.93 118.8L340.45 118.68L340.96 118.57L341.48 118.45L341.99 118.33L342.51 118.21L343.03 118.1L343.54 117.98L344.06 117.85L344.57 117.73L345.09 117.61L345.61 117.48L346.12 117.36L346.64 117.23L347.15 117.11L347.67 116.98L348.19 116.85L348.7 116.72L349.22 116.58L349.73 116.45L350.25 116.32L350.76 116.18L351.28 116.04L351.8 115.91L352.31 115.77L352.83 115.63L353.34 115.48L353.86 115.34L354.38 115.2L354.89 115.05L355.41 114.9L355.92 114.75L356.44 114.6L356.96 114.45L357.47 114.3L357.99 114.14L358.5 113.99L359.02 113.83L359.53 113.67L360.05 113.51L360.57 113.35L361.08 113.18L361.6 113.02L362.11 112.85L362.63 112.68L363.15 112.51L363.66 112.34L364.18 112.17L364.69 111.99L365.21 111.81L365.73 111.63L366.24 111.45L366.76 111.27L367.27 111.09L367.79 110.9L368.3 110.71L368.82 110.52L369.34 110.33L369.85 110.13L370.37 109.94L370.88 109.74L371.4 109.54L371.92 109.33L372.43 109.13L372.95 108.92L373.46 108.71L373.98 108.5L374.5 108.29L375.01 108.07L375.53 107.85L376.04 107.63L376.56 107.41L377.07 107.18L377.59 106.96L378.11 106.73L378.62 106.49L379.14 106.26L379.65 106.02L380.17 105.78L380.69 105.54L381.2 105.29L381.72 105.04L382.23 104.79L382.75 104.54L383.27 104.28L383.78 104.02L384.3 103.76L384.81 103.5L385.33 103.23L385.84 102.96L386.36 102.68L386.88 102.41L387.39 102.13L387.91 101.85L388.42 101.56L388.94 101.28L389.46 100.99L389.97 100.69L390.49 100.39L391 100.1L391.52 99.79L392.04 99.49L392.55 99.18L393.07 98.87L393.58 98.55L394.1 98.23L394.61 97.91L395.13 97.59L395.65 97.26L396.16 96.93L396.68 96.6L397.19 96.26L397.71 95.92L398.23 95.58L398.74 95.23L399.26 94.88L399.77 94.53L400.29 94.18L400.81 93.82L401.32 93.46L401.84 93.09L402.35 92.72L402.87 92.35L403.38 91.98L403.9 91.6L404.42 91.22L404.93 90.83L405.45 90.44L405.96 90.05L406.48 89.65L407 89.24L407.51 88.83L408.03 88.41L408.54 87.98L409.06 87.54L409.58 87.08L410.09 86.61L410.61 86.13L411.12 85.61L411.64 85.07L412.15 84.5L412.67 83.89L413.19 83.22L413.7 82.5L414.22 81.71L414.73 80.84L415.25 79.88L415.77 78.83L416.28 77.67L416.8 76.41L417.31 75.04L417.83 73.59L418.35 72.06L418.86 70.48L419.38 68.85L419.89 67.2L420.41 65.64L420.92 64.17L421.44 62.79L421.96 61.52L422.47 60.36L422.99 59.31L423.5 58.35L424.02 57.48L424.54 56.68L425.05 55.96L425.57 55.29L426.08 54.66L426.6 54.08L427.12 53.52L427.63 53L428.15 52.49L428.66 52L429.18 51.53L429.69 51.07L430.21 50.62L430.73 50.18L431.24 49.75L431.76 49.33L432.27 48.91L432.79 48.49L433.31 48.08L433.82 47.68L434.34 47.28L434.85 46.88L435.37 46.49L435.89 46.1L436.4 45.71L436.92 45.33L437.43 44.95L437.95 44.57L438.46 44.2L438.98 43.83L439.5 43.47L440.01 43.11L440.53 42.75L441.04 42.39L441.56 42.04L442.08 41.69L442.59 41.35L443.11 41.01L443.62 40.67L444.14 40.46L444.66 40.16L445.17 39.8L445.69 39.43L446.2 39.07L446.72 38.71L447.23 38.4L447.75 38.09L448.27 37.78L448.78 37.48L449.3 37.18L449.81 36.52ZM453.33 34.17L452.78 34.28L452.23 34.39L451.68 34.5L451.14 34.61L450.59 34.72L450.04 34.83L449.49 34.95L448.95 35.06L448.4 35.17L447.85 35.29L447.3 35.4L446.75 35.51L446.21 35.63L445.66 35.74L445.11 35.86L444.56 35.98L444.01 36.09L443.47 36.21L442.92 36.33L442.37 36.45L441.82 36.57L441.27 36.69L440.73 36.81L440.18 36.93L439.63 37.05L439.08 37.17L438.53 37.3L437.99 37.42L437.44 37.54L436.89 37.67L436.34 37.79L435.79 37.92L435.25 38.05L434.7 38.17L434.15 38.3L433.6 38.43L433.05 38.56L432.51 38.69L431.96 38.82L431.41 38.96L430.86 39.09L430.31 39.22L429.77 39.36L429.22 39.49L428.67 39.63L428.12 39.77L427.57 39.91L427.03 40.05L426.48 40.19L425.93 40.33L425.38 40.47L424.83 40.61L424.29 40.76L423.74 40.9L423.19 41.05L422.64 41.19L422.09 41.34L421.55 41.49L421 41.64L420.45 41.79L419.9 41.95L419.35 42.1L418.81 42.26L418.26 42.41L417.71 42.57L417.16 42.73L416.61 42.89L416.07 43.05L415.52 43.22L414.97 43.38L414.42 43.55L413.87 43.71L413.33 43.88L412.78 44.05L412.23 44.23L411.68 44.4L411.13 44.58L410.59 44.75L410.04 44.93L409.49 45.11L408.94 45.29L408.39 45.48L407.85 45.66L407.3 45.85L406.75 46.04L406.2 46.23L405.65 46.43L405.11 46.62L404.56 46.82L404.01 47.02L403.46 47.22L402.91 47.42L402.37 47.63L401.82 47.84L401.27 48.05L400.72 48.26L400.17 48.48L399.63 48.7L399.08 48.92L398.53 49.14L397.98 49.36L397.43 49.59L396.89 49.82L396.34 50.06L395.79 50.29L395.24 50.53L394.69 50.78L394.15 51.02L393.6 51.27L393.05 51.52L392.5 51.78L391.96 52.04L391.41 52.3L390.86 52.56L390.31 52.83L389.76 53.1L389.22 53.38L388.67 53.66L388.12 53.94L387.57 54.23L387.02 54.52L386.48 54.81L385.93 55.11L385.38 55.42L384.83 55.73L384.28 56.04L383.74 56.36L383.19 56.68L382.64 57.01L382.09 57.34L381.54 57.68L381 58.03L380.45 58.38L379.9 58.74L379.35 59.11L378.8 59.49L378.26 59.87L377.71 60.27L377.16 60.67L376.61 61.09L376.06 61.52L375.52 61.96L374.97 62.42L374.42 62.89L373.87 63.39L373.32 63.91L372.78 64.45L372.23 65.02L371.68 65.62L371.13 66.25L370.58 66.92L370.04 67.63L369.49 68.39L368.94 69.2L368.39 70.06L367.84 70.98L367.3 71.97L366.75 73.02L366.2 74.14L365.65 75.34L365.1 76.6L364.56 77.94L364.01 79.33L363.46 80.79L362.91 82.3L362.36 83.85L361.82 85.43L361.27 87.03L360.72 88.62L360.17 90.21L359.62 91.76L359.08 93.28L358.53 94.76L357.98 96.17L357.43 97.52L356.88 98.8L356.34 100.01L355.79 101.15L355.24 102.22L354.69 103.22L354.14 104.16L353.6 105.04L353.05 105.86L352.5 106.63L351.95 107.35L351.4 108.03L350.86 108.67L350.31 109.28L349.76 109.85L349.21 110.4L348.66 110.92L348.12 111.43L347.57 111.91L347.02 112.37L346.47 112.82L345.92 113.25L345.38 113.67L344.83 114.07L344.28 114.47L343.73 114.86L343.18 115.24L342.64 115.61L342.09 115.97L341.54 116.32L340.99 116.67L340.44 117.01L339.9 117.35L339.35 117.68L338.8 118L338.25 118.32L337.7 118.64L337.16 118.94L336.61 119.25L336.06 119.55L335.51 119.85L334.97 120.14L334.42 120.43L333.87 120.71L333.32 121.77L333.87 121.67L334.42 121.57L334.97 121.47L335.51 121.37L336.06 121.27L336.61 121.17L337.16 121.07L337.7 120.96L338.25 120.86L338.8 120.75L339.35 120.64L339.9 120.53L340.44 120.42L340.99 120.31L341.54 120.2L342.09 120.08L342.64 119.97L343.18 119.85L343.73 119.73L344.28 119.61L344.83 119.49L345.38 119.37L345.92 119.25L346.47 119.12L347.02 119L347.57 118.87L348.12 118.74L348.66 118.61L349.21 118.48L349.76 118.35L350.31 118.21L350.86 118.08L351.4 117.94L351.95 117.8L352.5 117.66L353.05 117.52L353.6 117.37L354.14 117.22L354.69 117.08L355.24 116.93L355.79 116.78L356.34 116.62L356.88 116.47L357.43 116.31L357.98 116.15L358.53 115.99L359.08 115.83L359.62 115.67L360.17 115.5L360.72 115.33L361.27 115.16L361.82 114.99L362.36 114.82L362.91 114.64L363.46 114.46L364.01 114.28L364.56 114.1L365.1 113.91L365.65 113.72L366.2 113.53L366.75 113.34L367.3 113.14L367.84 112.95L368.39 112.75L368.94 112.55L369.49 112.34L370.04 112.13L370.58 111.92L371.13 111.71L371.68 111.5L372.23 111.28L372.78 111.06L373.32 110.83L373.87 110.61L374.42 110.38L374.97 110.14L375.52 109.91L376.06 109.67L376.61 109.43L377.16 109.19L377.71 108.94L378.26 108.69L378.8 108.43L379.35 108.18L379.9 107.92L380.45 107.65L381 107.39L381.54 107.12L382.09 106.85L382.64 106.57L383.19 106.29L383.74 106L384.28 105.72L384.83 105.43L385.38 105.13L385.93 104.83L386.48 104.53L387.02 104.23L387.57 103.92L388.12 103.61L388.67 103.29L389.22 102.97L389.76 102.65L390.31 102.32L390.86 101.99L391.41 101.65L391.96 101.31L392.5 100.97L393.05 100.62L393.6 100.27L394.15 99.92L394.69 99.56L395.24 99.2L395.79 98.83L396.34 98.46L396.89 98.09L397.43 97.71L397.98 97.33L398.53 96.94L399.08 96.55L399.63 96.16L400.17 95.76L400.72 95.36L401.27 94.96L401.82 94.55L402.37 94.13L402.91 93.72L403.46 93.3L404.01 92.87L404.56 92.44L405.11 92L405.65 91.56L406.2 91.12L406.75 90.66L407.3 90.2L407.85 89.73L408.39 89.25L408.94 88.75L409.49 88.24L410.04 87.72L410.59 87.16L411.13 86.58L411.68 85.97L412.23 85.31L412.78 84.6L413.33 83.83L413.87 82.98L414.42 82.04L414.97 81L415.52 79.85L416.07 78.58L416.61 77.19L417.16 75.68L417.71 74.07L418.26 72.38L418.81 70.64L419.35 68.89L419.9 67.17L420.45 65.52L421 63.97L421.55 62.52L422.09 61.2L422.64 60L423.19 58.92L423.74 57.94L424.29 57.06L424.83 56.26L425.38 55.52L425.93 54.84L426.48 54.21L427.03 53.62L427.57 53.05L428.12 52.51L428.67 52L429.22 51.5L429.77 51.01L430.31 50.54L430.86 50.07L431.41 49.61L431.96 49.16L432.51 48.72L433.05 48.28L433.6 47.85L434.15 47.42L434.7 47L435.25 46.58L435.79 46.17L436.34 45.75L436.89 45.35L437.44 44.95L437.99 44.55L438.53 44.15L439.08 43.76L439.63 43.37L440.18 42.99L440.73 42.61L441.27 42.24L441.82 41.86L442.37 41.5L442.92 41.13L443.47 40.77L444.01 40.42L444.56 40.06L445.11 39.72L445.66 39.37L446.21 39.03L446.75 38.69L447.3 38.36L447.85 38.03L448.4 37.71L448.95 37.38L449.49 37.07L450.04 36.75L450.59 36.44L451.14 36.13L451.68 35.83L452.23 35.53L452.78 35.24L453.33 34.17Z" stroke="#000" stroke-width="0.9" fill="none" stroke-linejoin="round"/>
<path d="M70.92 313.18L71.74 313.1L72.52 312.93L73.31 312.74L74.08 312.54L74.86 312.33L75.63 312.13L76.4 311.92L77.18 311.71L77.95 311.5L78.72 311.28L79.48 311.07L80.25 310.86L81.02 310.65L81.79 310.44L82.55 310.23L83.32 310.02L84.09 309.81L84.85 309.6L85.62 309.39L86.38 309.18L87.15 308.97L87.91 308.76L88.68 308.56L89.44 308.35L90.2 308.14L90.97 307.94L91.73 307.73L92.5 307.53L93.26 307.33L94.02 307.12L94.78 306.92L95.55 306.72L96.31 306.52L97.07 306.32L97.84 306.12L98.6 305.92L99.36 305.72L100.12 305.52L100.88 305.32L101.65 305.12L102.41 304.92L103.17 304.73L103.93 304.53L104.69 304.33L105.46 304.14L106.22 303.94L106.98 303.75L107.74 303.55L108.5 303.36L109.26 303.16L110.02 302.97L110.79 302.77L111.55 302.58L112.31 302.39L113.07 302.19L113.83 302L114.59 301.81L115.35 301.61L116.11 301.42L116.87 301.23L117.63 301.03L118.4 300.84L119.16 300.65L119.92 300.46L120.68 300.26L121.44 300.07L122.2 299.88L122.96 299.68L123.72 299.49L124.48 299.3L125.24 299.1L126 298.91L126.77 298.71L127.53 298.52L128.29 298.32L129.05 298.13L129.81 297.93L130.57 297.74L131.33 297.54L132.09 297.35L132.85 297.15L133.61 296.95L134.37 296.76L135.13 296.56L135.89 296.36L136.66 296.16L137.42 295.96L138.18 295.76L138.94 295.56L139.7 295.36L140.46 295.16L141.22 294.95L141.98 294.75L142.74 294.55L143.5 294.34L144.26 294.14L145.02 293.93L145.78 293.72L146.54 293.51L147.3 293.3L148.07 293.09L148.83 292.88L149.59 292.67L150.35 292.46L151.11 292.24L151.87 292.03L152.63 291.81L153.39 291.59L154.15 291.37L154.91 291.15L155.67 290.93L156.43 290.71L157.19 290.48L157.95 290.26L158.71 290.03L159.47 289.8L160.23 289.57L160.99 289.34L161.74 289.11L162.5 288.87L163.26 288.64L164.02 288.4L164.78 288.16L165.54 287.92L166.3 287.67L167.06 287.43L167.82 287.18L168.57 286.93L169.33 286.68L170.09 286.43L170.85 286.18L171.6 285.92L172.36 285.66L173.12 285.4L173.88 285.14L174.63 284.88L175.39 284.61L176.15 284.34L176.9 284.07L177.66 283.8L178.41 283.52L179.17 283.24L179.92 282.96L180.68 282.67L181.43 282.39L182.18 282.1L182.94 281.8L183.69 281.51L184.44 281.21L185.19 280.9L185.94 280.59L186.69 280.28L187.43 279.96L188.18 279.64L188.92 279.31L189.67 278.98L190.4 278.63L191.13 278.26L191.83 277.79L191.83 277.79L191 277.91L190.21 278.12L189.43 278.34L188.65 278.57L187.87 278.81L187.1 279.04L186.32 279.28L185.55 279.52L184.78 279.76L184.01 280L183.24 280.24L182.47 280.48L181.7 280.72L180.94 280.96L180.17 281.2L179.4 281.44L178.63 281.67L177.87 281.91L177.1 282.14L176.34 282.38L175.57 282.61L174.81 282.84L174.04 283.07L173.28 283.3L172.52 283.53L171.75 283.76L170.99 283.98L170.22 284.21L169.46 284.43L168.7 284.66L167.94 284.88L167.17 285.1L166.41 285.32L165.65 285.54L164.89 285.76L164.12 285.98L163.36 286.19L162.6 286.41L161.84 286.62L161.08 286.84L160.32 287.05L159.55 287.26L158.79 287.48L158.03 287.69L157.27 287.9L156.51 288.11L155.75 288.32L154.99 288.52L154.23 288.73L153.47 288.94L152.7 289.14L151.94 289.35L151.18 289.55L150.42 289.76L149.66 289.96L148.9 290.17L148.14 290.37L147.38 290.57L146.62 290.77L145.86 290.97L145.1 291.17L144.34 291.37L143.58 291.57L142.82 291.77L142.06 291.97L141.3 292.17L140.54 292.37L139.78 292.57L139.02 292.76L138.26 292.96L137.5 293.16L136.74 293.36L135.98 293.55L135.22 293.75L134.46 293.95L133.7 294.14L132.94 294.34L132.18 294.54L131.42 294.73L130.66 294.93L129.9 295.12L129.14 295.32L128.38 295.52L127.62 295.71L126.86 295.91L126.09 296.1L125.33 296.3L124.57 296.5L123.81 296.69L123.05 296.89L122.29 297.09L121.53 297.29L120.77 297.48L120.01 297.68L119.25 297.88L118.49 298.08L117.73 298.28L116.97 298.48L116.21 298.68L115.45 298.88L114.69 299.08L113.93 299.28L113.17 299.49L112.42 299.69L111.66 299.89L110.9 300.1L110.14 300.3L109.38 300.51L108.62 300.72L107.86 300.93L107.1 301.14L106.34 301.35L105.58 301.56L104.82 301.77L104.06 301.98L103.3 302.19L102.54 302.41L101.78 302.62L101.02 302.84L100.27 303.06L99.51 303.28L98.75 303.5L97.99 303.72L97.23 303.94L96.47 304.17L95.71 304.39L94.96 304.62L94.2 304.85L93.44 305.08L92.68 305.31L91.92 305.54L91.17 305.78L90.41 306.01L89.65 306.25L88.9 306.49L88.14 306.73L87.38 306.98L86.63 307.22L85.87 307.47L85.11 307.72L84.36 307.97L83.6 308.22L82.85 308.48L82.09 308.74L81.34 309L80.59 309.26L79.83 309.53L79.08 309.8L78.33 310.07L77.58 310.34L76.83 310.62L76.08 310.91L75.33 311.19L74.58 311.49L73.83 311.78L73.09 312.09L72.35 312.41L71.62 312.75L70.92 313.18Z" fill="#000" stroke="#000" stroke-width="0.7" stroke-linejoin="round"/>
<defs><linearGradient id="coreg" gradientUnits="userSpaceOnUse" x1="340" y1="0" x2="455" y2="0"><stop offset="0" stop-color="#333"/><stop offset="0.2" stop-color="#151515"/><stop offset="0.6" stop-color="#181818"/><stop offset="0.85" stop-color="#333"/><stop offset="1" stop-color="#666"/></linearGradient></defs>
<path d="M332.91 324.19L333.67 323.72L334.42 323.24L335.18 322.76L335.93 322.27L336.69 321.79L337.45 321.31L338.2 320.83L338.96 320.34L339.71 319.86L340.47 319.37L341.23 318.89L341.98 318.41L342.74 317.93L343.49 317.44L344.25 316.96L345.01 316.48L345.76 316.01L346.52 315.53L347.28 315.05L348.03 314.58L348.79 314.11L349.54 313.64L350.3 313.17L351.06 312.7L351.81 312.24L352.57 311.77L353.32 311.31L354.08 310.85L354.84 310.4L355.59 309.94L356.35 309.49L357.11 309.04L357.86 308.59L358.62 308.15L359.37 307.7L360.13 307.26L360.89 306.82L361.64 306.39L362.4 305.96L363.15 305.52L363.91 305.1L364.67 304.67L365.42 304.25L366.18 303.82L366.94 303.4L367.69 302.99L368.45 302.57L369.2 302.16L369.96 301.75L370.72 301.34L371.47 300.93L372.23 300.53L372.98 300.13L373.74 299.73L374.5 299.33L375.25 298.93L376.01 298.54L376.76 298.15L377.52 297.76L378.28 297.37L379.03 296.98L379.79 296.59L380.55 296.21L381.3 295.82L382.06 295.44L382.81 295.06L383.57 294.68L384.33 294.3L385.08 293.93L385.84 293.55L386.59 293.18L387.35 292.8L388.11 292.43L388.86 292.06L389.62 291.69L390.38 291.32L391.13 290.95L391.89 290.58L392.64 290.21L393.4 289.84L394.16 289.47L394.91 289.11L395.67 288.74L396.42 288.37L397.18 288.01L397.94 287.64L398.69 287.28L399.45 286.91L400.21 286.55L400.96 286.18L401.72 285.82L402.47 285.46L403.23 285.09L403.99 284.73L404.74 284.37L405.5 284L406.25 283.64L407.01 283.28L407.77 282.92L408.52 282.55L409.28 282.19L410.04 281.83L410.79 281.47L411.55 281.11L412.3 280.75L413.06 280.39L413.82 280.03L414.57 279.67L415.33 279.32L416.08 278.96L416.84 278.61L417.6 278.25L418.35 277.9L419.11 277.55L419.86 277.19L420.62 276.84L421.38 276.5L422.13 276.15L422.89 275.81L423.65 275.46L424.4 275.12L425.16 274.79L425.91 274.45L426.67 274.12L427.43 273.79L428.18 273.46L428.94 273.14L429.69 272.82L430.45 272.5L431.21 272.19L431.96 271.88L432.72 271.58L433.48 271.28L434.23 270.99L434.99 270.7L435.74 270.42L436.5 270.14L437.26 269.87L438.01 269.61L438.77 269.35L439.52 269.1L440.28 268.86L441.04 268.63L441.79 268.4L442.55 268.18L443.31 267.98L444.06 267.78L444.82 267.59L445.57 267.41L446.33 267.25L447.09 267.09L447.84 266.95L448.6 266.82L449.35 266.7L450.11 266.6L450.87 266.51L451.62 266.43L452.38 266.37L453.13 266.32L453.89 266.3L453.89 266.3L453.13 267.16L452.38 267.99L451.62 268.82L450.87 269.63L450.11 270.43L449.35 271.21L448.6 271.99L447.84 272.75L447.09 273.5L446.33 274.23L445.57 274.96L444.82 275.67L444.06 276.38L443.31 277.07L442.55 277.76L441.79 278.43L441.04 279.09L440.28 279.75L439.52 280.39L438.77 281.03L438.01 281.65L437.26 282.27L436.5 282.88L435.74 283.48L434.99 284.08L434.23 284.66L433.48 285.24L432.72 285.81L431.96 286.37L431.21 286.93L430.45 287.48L429.69 288.02L428.94 288.55L428.18 289.08L427.43 289.61L426.67 290.12L425.91 290.63L425.16 291.14L424.4 291.63L423.65 292.13L422.89 292.61L422.13 293.1L421.38 293.57L420.62 294.04L419.86 294.51L419.11 294.97L418.35 295.42L417.6 295.88L416.84 296.32L416.08 296.76L415.33 297.2L414.57 297.63L413.82 298.06L413.06 298.49L412.3 298.9L411.55 299.32L410.79 299.73L410.04 300.14L409.28 300.54L408.52 300.94L407.77 301.33L407.01 301.73L406.25 302.11L405.5 302.5L404.74 302.88L403.99 303.25L403.23 303.62L402.47 303.99L401.72 304.36L400.96 304.72L400.21 305.08L399.45 305.43L398.69 305.78L397.94 306.13L397.18 306.48L396.42 306.82L395.67 307.15L394.91 307.49L394.16 307.82L393.4 308.15L392.64 308.47L391.89 308.79L391.13 309.11L390.38 309.42L389.62 309.73L388.86 310.04L388.11 310.34L387.35 310.64L386.59 310.94L385.84 311.24L385.08 311.53L384.33 311.81L383.57 312.1L382.81 312.38L382.06 312.66L381.3 312.93L380.55 313.2L379.79 313.47L379.03 313.74L378.28 314L377.52 314.26L376.76 314.51L376.01 314.76L375.25 315.01L374.5 315.25L373.74 315.5L372.98 315.74L372.23 315.97L371.47 316.2L370.72 316.43L369.96 316.66L369.2 316.88L368.45 317.1L367.69 317.31L366.94 317.53L366.18 317.73L365.42 317.94L364.67 318.14L363.91 318.34L363.15 318.54L362.4 318.73L361.64 318.92L360.89 319.11L360.13 319.29L359.37 319.47L358.62 319.65L357.86 319.83L357.11 320L356.35 320.17L355.59 320.33L354.84 320.5L354.08 320.66L353.32 320.81L352.57 320.97L351.81 321.12L351.06 321.27L350.3 321.41L349.54 321.56L348.79 321.7L348.03 321.84L347.28 321.97L346.52 322.11L345.76 322.24L345.01 322.37L344.25 322.5L343.49 322.62L342.74 322.74L341.98 322.86L341.23 322.98L340.47 323.1L339.71 323.22L338.96 323.33L338.2 323.44L337.45 323.56L336.69 323.67L335.93 323.78L335.18 323.88L334.42 323.99L333.67 324.1L332.91 324.2Z" fill="#c6c6c6" stroke="none"/>
<path d="M332.91 324.02L333.67 323.53L334.42 323.03L335.18 322.54L335.93 322.04L336.69 321.55L337.45 321.06L338.2 320.58L338.96 320.09L339.71 319.61L340.47 319.12L341.23 318.64L341.98 318.16L342.74 317.69L343.49 317.21L344.25 316.74L345.01 316.26L345.76 315.79L346.52 315.33L347.28 314.86L348.03 314.39L348.79 313.93L349.54 313.47L350.3 313.01L351.06 312.56L351.81 312.1L352.57 311.65L353.32 311.2L354.08 310.75L354.84 310.3L355.59 309.86L356.35 309.42L357.11 308.98L357.86 308.54L358.62 308.11L359.37 307.68L360.13 307.25L360.89 306.82L361.64 306.4L362.4 305.97L363.15 305.55L363.91 305.14L364.67 304.72L365.42 304.31L366.18 303.9L366.94 303.49L367.69 303.09L368.45 302.69L369.2 302.29L369.96 301.89L370.72 301.5L371.47 301.11L372.23 300.72L372.98 300.34L373.74 299.95L374.5 299.58L375.25 299.2L376.01 298.83L376.76 298.46L377.52 298.09L378.28 297.72L379.03 297.36L379.79 297L380.55 296.65L381.3 296.3L382.06 295.95L382.81 295.6L383.57 295.26L384.33 294.91L385.08 294.58L385.84 294.24L386.59 293.91L387.35 293.58L388.11 293.25L388.86 292.93L389.62 292.61L390.38 292.29L391.13 291.98L391.89 291.66L392.64 291.36L393.4 291.05L394.16 290.74L394.91 290.44L395.67 290.14L396.42 289.85L397.18 289.56L397.94 289.26L398.69 288.98L399.45 288.69L400.21 288.41L400.96 288.12L401.72 287.84L402.47 287.57L403.23 287.29L403.99 287.02L404.74 286.75L405.5 286.48L406.25 286.21L407.01 285.94L407.77 285.68L408.52 285.42L409.28 285.16L410.04 284.9L410.79 284.64L411.55 284.38L412.3 284.12L413.06 283.87L413.82 283.61L414.57 283.36L415.33 283.11L416.08 282.85L416.84 282.6L417.6 282.35L418.35 282.09L419.11 281.84L419.86 281.59L420.62 281.33L421.38 281.08L422.13 280.82L422.89 280.57L423.65 280.31L424.4 280.05L425.16 279.79L425.91 279.53L426.67 279.27L427.43 279L428.18 278.74L428.94 278.47L429.69 278.19L430.45 277.92L431.21 277.64L431.96 277.36L432.72 277.07L433.48 276.78L434.23 276.49L434.99 276.19L435.74 275.89L436.5 275.59L437.26 275.27L438.01 274.96L438.77 274.63L439.52 274.31L440.28 273.97L441.04 273.63L441.79 273.28L442.55 272.93L443.31 272.57L444.06 272.2L444.82 271.82L445.57 271.44L446.33 271.04L447.09 270.64L447.84 270.23L448.6 269.81L449.35 269.37L450.11 268.93L450.87 268.48L451.62 268.01L452.38 267.54L453.13 267.05L453.89 266.55M332.91 324.03L333.67 323.49L334.42 322.97L335.18 322.48L335.93 322.01L336.69 321.55L337.45 321.12L338.2 320.7L338.96 320.3L339.71 319.91L340.47 319.54L341.23 319.19L341.98 318.85L342.74 318.52L343.49 318.2L344.25 317.89L345.01 317.59L345.76 317.31L346.52 317.03L347.28 316.76L348.03 316.49L348.79 316.24L349.54 315.99L350.3 315.74L351.06 315.5L351.81 315.27L352.57 315.04L353.32 314.81L354.08 314.59L354.84 314.37L355.59 314.15L356.35 313.93L357.11 313.72L357.86 313.5L358.62 313.29L359.37 313.08L360.13 312.87L360.89 312.65L361.64 312.44L362.4 312.23L363.15 312.01L363.91 311.8L364.67 311.58L365.42 311.36L366.18 311.14L366.94 310.92L367.69 310.7L368.45 310.47L369.2 310.25L369.96 310.02L370.72 309.78L371.47 309.55L372.23 309.31L372.98 309.07L373.74 308.83L374.5 308.58L375.25 308.33L376.01 308.08L376.76 307.82L377.52 307.57L378.28 307.3L379.03 307.04L379.79 306.77L380.55 306.5L381.3 306.23L382.06 305.96L382.81 305.68L383.57 305.4L384.33 305.12L385.08 304.83L385.84 304.54L386.59 304.25L387.35 303.96L388.11 303.66L388.86 303.36L389.62 303.06L390.38 302.76L391.13 302.45L391.89 302.15L392.64 301.84L393.4 301.53L394.16 301.22L394.91 300.9L395.67 300.59L396.42 300.27L397.18 299.95L397.94 299.63L398.69 299.31L399.45 298.99L400.21 298.67L400.96 298.34L401.72 298.02L402.47 297.69L403.23 297.36L403.99 297.04L404.74 296.71L405.5 296.38L406.25 296.05L407.01 295.72L407.77 295.38L408.52 295.05L409.28 294.72L410.04 294.38L410.79 294.05L411.55 293.71L412.3 293.38L413.06 293.04L413.82 292.7L414.57 292.36L415.33 292.02L416.08 291.68L416.84 291.33L417.6 290.99L418.35 290.64L419.11 290.3L419.86 289.95L420.62 289.6L421.38 289.24L422.13 288.89L422.89 288.53L423.65 288.17L424.4 287.8L425.16 287.44L425.91 287.07L426.67 286.69L427.43 286.31L428.18 285.93L428.94 285.54L429.69 285.15L430.45 284.75L431.21 284.34L431.96 283.93L432.72 283.51L433.48 283.09L434.23 282.66L434.99 282.21L435.74 281.76L436.5 281.31L437.26 280.84L438.01 280.36L438.77 279.87L439.52 279.36L440.28 278.85L441.04 278.32L441.79 277.78L442.55 277.22L443.31 276.65L444.06 276.06L444.82 275.46L445.57 274.84L446.33 274.2L447.09 273.54L447.84 272.86L448.6 272.15L449.35 271.43L450.11 270.68L450.87 269.91L451.62 269.11L452.38 268.29L453.13 267.44L453.89 266.56M332.91 324.05L333.67 323.56L334.42 323.07L335.18 322.57L335.93 322.08L336.69 321.59L337.45 321.11L338.2 320.62L338.96 320.13L339.71 319.65L340.47 319.17L341.23 318.68L341.98 318.2L342.74 317.73L343.49 317.25L344.25 316.77L345.01 316.3L345.76 315.83L346.52 315.36L347.28 314.89L348.03 314.43L348.79 313.96L349.54 313.5L350.3 313.04L351.06 312.58L351.81 312.12L352.57 311.67L353.32 311.22L354.08 310.77L354.84 310.32L355.59 309.87L356.35 309.43L357.11 308.99L357.86 308.55L358.62 308.12L359.37 307.68L360.13 307.25L360.89 306.82L361.64 306.39L362.4 305.97L363.15 305.55L363.91 305.13L364.67 304.71L365.42 304.3L366.18 303.89L366.94 303.48L367.69 303.07L368.45 302.67L369.2 302.27L369.96 301.87L370.72 301.47L371.47 301.08L372.23 300.69L372.98 300.3L373.74 299.92L374.5 299.53L375.25 299.16L376.01 298.78L376.76 298.4L377.52 298.03L378.28 297.66L379.03 297.3L379.79 296.94L380.55 296.58L381.3 296.22L382.06 295.86L382.81 295.51L383.57 295.16L384.33 294.81L385.08 294.47L385.84 294.13L386.59 293.79L387.35 293.45L388.11 293.12L388.86 292.78L389.62 292.46L390.38 292.13L391.13 291.81L391.89 291.48L392.64 291.16L393.4 290.85L394.16 290.53L394.91 290.22L395.67 289.91L396.42 289.6L397.18 289.3L397.94 288.99L398.69 288.69L399.45 288.39L400.21 288.1L400.96 287.8L401.72 287.51L402.47 287.22L403.23 286.93L403.99 286.64L404.74 286.35L405.5 286.07L406.25 285.78L407.01 285.5L407.77 285.22L408.52 284.94L409.28 284.66L410.04 284.39L410.79 284.11L411.55 283.84L412.3 283.56L413.06 283.29L413.82 283.02L414.57 282.75L415.33 282.47L416.08 282.2L416.84 281.93L417.6 281.66L418.35 281.39L419.11 281.12L419.86 280.86L420.62 280.59L421.38 280.32L422.13 280.05L422.89 279.78L423.65 279.5L424.4 279.23L425.16 278.96L425.91 278.69L426.67 278.41L427.43 278.13L428.18 277.86L428.94 277.58L429.69 277.3L430.45 277.02L431.21 276.73L431.96 276.45L432.72 276.16L433.48 275.87L434.23 275.57L434.99 275.28L435.74 274.98L436.5 274.68L437.26 274.37L438.01 274.07L438.77 273.75L439.52 273.44L440.28 273.12L441.04 272.8L441.79 272.47L442.55 272.14L443.31 271.8L444.06 271.46L444.82 271.12L445.57 270.77L446.33 270.41L447.09 270.05L447.84 269.68L448.6 269.31L449.35 268.93L450.11 268.54L450.87 268.15L451.62 267.75L452.38 267.34L453.13 266.93L453.89 266.51M332.91 324.06L333.67 323.59L334.42 323.14L335.18 322.71L335.93 322.3L336.69 321.9L337.45 321.52L338.2 321.16L338.96 320.8L339.71 320.46L340.47 320.14L341.23 319.82L341.98 319.52L342.74 319.22L343.49 318.94L344.25 318.66L345.01 318.39L345.76 318.13L346.52 317.87L347.28 317.63L348.03 317.38L348.79 317.15L349.54 316.92L350.3 316.69L351.06 316.46L351.81 316.24L352.57 316.03L353.32 315.81L354.08 315.6L354.84 315.39L355.59 315.18L356.35 314.97L357.11 314.76L357.86 314.56L358.62 314.35L359.37 314.14L360.13 313.94L360.89 313.73L361.64 313.52L362.4 313.31L363.15 313.1L363.91 312.89L364.67 312.68L365.42 312.46L366.18 312.24L366.94 312.02L367.69 311.8L368.45 311.58L369.2 311.35L369.96 311.12L370.72 310.89L371.47 310.66L372.23 310.42L372.98 310.18L373.74 309.94L374.5 309.69L375.25 309.44L376.01 309.19L376.76 308.94L377.52 308.68L378.28 308.42L379.03 308.16L379.79 307.89L380.55 307.62L381.3 307.35L382.06 307.07L382.81 306.8L383.57 306.52L384.33 306.23L385.08 305.95L385.84 305.66L386.59 305.37L387.35 305.07L388.11 304.77L388.86 304.48L389.62 304.17L390.38 303.87L391.13 303.56L391.89 303.26L392.64 302.94L393.4 302.63L394.16 302.32L394.91 302L395.67 301.68L396.42 301.36L397.18 301.04L397.94 300.72L398.69 300.39L399.45 300.06L400.21 299.74L400.96 299.41L401.72 299.07L402.47 298.74L403.23 298.41L403.99 298.07L404.74 297.74L405.5 297.4L406.25 297.06L407.01 296.72L407.77 296.38L408.52 296.03L409.28 295.69L410.04 295.34L410.79 294.99L411.55 294.65L412.3 294.3L413.06 293.95L413.82 293.59L414.57 293.24L415.33 292.88L416.08 292.53L416.84 292.17L417.6 291.8L418.35 291.44L419.11 291.08L419.86 290.71L420.62 290.34L421.38 289.96L422.13 289.59L422.89 289.21L423.65 288.83L424.4 288.44L425.16 288.05L425.91 287.66L426.67 287.26L427.43 286.86L428.18 286.45L428.94 286.04L429.69 285.63L430.45 285.2L431.21 284.77L431.96 284.34L432.72 283.9L433.48 283.45L434.23 282.99L434.99 282.52L435.74 282.05L436.5 281.57L437.26 281.08L438.01 280.57L438.77 280.06L439.52 279.53L440.28 279L441.04 278.45L441.79 277.89L442.55 277.31L443.31 276.72L444.06 276.12L444.82 275.5L445.57 274.86L446.33 274.2L447.09 273.53L447.84 272.84L448.6 272.13L449.35 271.39L450.11 270.64L450.87 269.86L451.62 269.07L452.38 268.24L453.13 267.39L453.89 266.52M332.91 324.08L333.67 323.59L334.42 323.1L335.18 322.61L335.93 322.12L336.69 321.63L337.45 321.15L338.2 320.66L338.96 320.17L339.71 319.69L340.47 319.21L341.23 318.73L341.98 318.24L342.74 317.77L343.49 317.29L344.25 316.81L345.01 316.34L345.76 315.86L346.52 315.39L347.28 314.92L348.03 314.46L348.79 313.99L349.54 313.53L350.3 313.06L351.06 312.6L351.81 312.15L352.57 311.69L353.32 311.24L354.08 310.78L354.84 310.33L355.59 309.89L356.35 309.44L357.11 309L357.86 308.56L358.62 308.12L359.37 307.69L360.13 307.25L360.89 306.82L361.64 306.39L362.4 305.97L363.15 305.54L363.91 305.12L364.67 304.7L365.42 304.29L366.18 303.87L366.94 303.46L367.69 303.05L368.45 302.65L369.2 302.25L369.96 301.84L370.72 301.45L371.47 301.05L372.23 300.66L372.98 300.27L373.74 299.88L374.5 299.49L375.25 299.11L376.01 298.73L376.76 298.35L377.52 297.98L378.28 297.6L379.03 297.23L379.79 296.87L380.55 296.5L381.3 296.14L382.06 295.78L382.81 295.42L383.57 295.06L384.33 294.71L385.08 294.36L385.84 294.01L386.59 293.67L387.35 293.32L388.11 292.98L388.86 292.64L389.62 292.3L390.38 291.97L391.13 291.63L391.89 291.3L392.64 290.97L393.4 290.65L394.16 290.32L394.91 290L395.67 289.68L396.42 289.36L397.18 289.04L397.94 288.72L398.69 288.41L399.45 288.1L400.21 287.79L400.96 287.48L401.72 287.17L402.47 286.86L403.23 286.56L403.99 286.26L404.74 285.95L405.5 285.65L406.25 285.35L407.01 285.06L407.77 284.76L408.52 284.46L409.28 284.17L410.04 283.88L410.79 283.58L411.55 283.29L412.3 283L413.06 282.71L413.82 282.42L414.57 282.13L415.33 281.84L416.08 281.56L416.84 281.27L417.6 280.98L418.35 280.7L419.11 280.41L419.86 280.12L420.62 279.84L421.38 279.55L422.13 279.27L422.89 278.98L423.65 278.7L424.4 278.41L425.16 278.12L425.91 277.84L426.67 277.55L427.43 277.27L428.18 276.98L428.94 276.69L429.69 276.4L430.45 276.11L431.21 275.82L431.96 275.53L432.72 275.24L433.48 274.95L434.23 274.66L434.99 274.36L435.74 274.07L436.5 273.77L437.26 273.47L438.01 273.17L438.77 272.87L439.52 272.57L440.28 272.27L441.04 271.96L441.79 271.66L442.55 271.35L443.31 271.04L444.06 270.73L444.82 270.41L445.57 270.1L446.33 269.78L447.09 269.46L447.84 269.13L448.6 268.81L449.35 268.48L450.11 268.15L450.87 267.82L451.62 267.49L452.38 267.15L453.13 266.81L453.89 266.47M332.91 324.09L333.67 323.69L334.42 323.31L335.18 322.95L335.93 322.6L336.69 322.26L337.45 321.93L338.2 321.61L338.96 321.31L339.71 321.01L340.47 320.73L341.23 320.45L341.98 320.19L342.74 319.93L343.49 319.67L344.25 319.43L345.01 319.19L345.76 318.95L346.52 318.72L347.28 318.5L348.03 318.27L348.79 318.06L349.54 317.84L350.3 317.63L351.06 317.42L351.81 317.22L352.57 317.01L353.32 316.81L354.08 316.61L354.84 316.41L355.59 316.21L356.35 316.01L357.11 315.81L357.86 315.61L358.62 315.41L359.37 315.21L360.13 315.01L360.89 314.81L361.64 314.6L362.4 314.4L363.15 314.19L363.91 313.98L364.67 313.77L365.42 313.56L366.18 313.34L366.94 313.12L367.69 312.9L368.45 312.68L369.2 312.46L369.96 312.23L370.72 312L371.47 311.77L372.23 311.53L372.98 311.29L373.74 311.05L374.5 310.8L375.25 310.56L376.01 310.31L376.76 310.05L377.52 309.8L378.28 309.54L379.03 309.27L379.79 309.01L380.55 308.74L381.3 308.47L382.06 308.19L382.81 307.91L383.57 307.63L384.33 307.35L385.08 307.06L385.84 306.77L386.59 306.48L387.35 306.19L388.11 305.89L388.86 305.59L389.62 305.29L390.38 304.98L391.13 304.67L391.89 304.36L392.64 304.05L393.4 303.74L394.16 303.42L394.91 303.1L395.67 302.78L396.42 302.45L397.18 302.13L397.94 301.8L398.69 301.47L399.45 301.14L400.21 300.8L400.96 300.47L401.72 300.13L402.47 299.79L403.23 299.45L403.99 299.11L404.74 298.76L405.5 298.42L406.25 298.07L407.01 297.72L407.77 297.37L408.52 297.01L409.28 296.66L410.04 296.3L410.79 295.94L411.55 295.58L412.3 295.22L413.06 294.85L413.82 294.49L414.57 294.12L415.33 293.75L416.08 293.37L416.84 293L417.6 292.62L418.35 292.24L419.11 291.85L419.86 291.47L420.62 291.08L421.38 290.69L422.13 290.29L422.89 289.89L423.65 289.49L424.4 289.08L425.16 288.67L425.91 288.25L426.67 287.83L427.43 287.41L428.18 286.98L428.94 286.54L429.69 286.1L430.45 285.66L431.21 285.2L431.96 284.75L432.72 284.28L433.48 283.81L434.23 283.32L434.99 282.84L435.74 282.34L436.5 281.83L437.26 281.31L438.01 280.79L438.77 280.25L439.52 279.71L440.28 279.15L441.04 278.58L441.79 278L442.55 277.4L443.31 276.79L444.06 276.17L444.82 275.53L445.57 274.88L446.33 274.21L447.09 273.52L447.84 272.82L448.6 272.1L449.35 271.36L450.11 270.6L450.87 269.82L451.62 269.02L452.38 268.19L453.13 267.34L453.89 266.47M332.91 324.11L333.67 323.62L334.42 323.13L335.18 322.65L335.93 322.16L336.69 321.67L337.45 321.19L338.2 320.7L338.96 320.22L339.71 319.73L340.47 319.25L341.23 318.77L341.98 318.29L342.74 317.81L343.49 317.33L344.25 316.85L345.01 316.37L345.76 315.9L346.52 315.43L347.28 314.96L348.03 314.49L348.79 314.02L349.54 313.55L350.3 313.09L351.06 312.63L351.81 312.17L352.57 311.71L353.32 311.25L354.08 310.8L354.84 310.35L355.59 309.9L356.35 309.45L357.11 309.01L357.86 308.57L358.62 308.13L359.37 307.69L360.13 307.25L360.89 306.82L361.64 306.39L362.4 305.96L363.15 305.54L363.91 305.12L364.67 304.7L365.42 304.28L366.18 303.86L366.94 303.45L367.69 303.04L368.45 302.63L369.2 302.22L369.96 301.82L370.72 301.42L371.47 301.02L372.23 300.63L372.98 300.23L373.74 299.84L374.5 299.45L375.25 299.07L376.01 298.68L376.76 298.3L377.52 297.92L378.28 297.55L379.03 297.17L379.79 296.8L380.55 296.43L381.3 296.06L382.06 295.69L382.81 295.33L383.57 294.97L384.33 294.61L385.08 294.25L385.84 293.9L386.59 293.54L387.35 293.19L388.11 292.84L388.86 292.49L389.62 292.15L390.38 291.8L391.13 291.46L391.89 291.12L392.64 290.78L393.4 290.44L394.16 290.11L394.91 289.77L395.67 289.44L396.42 289.11L397.18 288.78L397.94 288.45L398.69 288.13L399.45 287.8L400.21 287.48L400.96 287.15L401.72 286.83L402.47 286.51L403.23 286.19L403.99 285.87L404.74 285.56L405.5 285.24L406.25 284.93L407.01 284.61L407.77 284.3L408.52 283.99L409.28 283.67L410.04 283.36L410.79 283.05L411.55 282.75L412.3 282.44L413.06 282.13L413.82 281.82L414.57 281.52L415.33 281.21L416.08 280.91L416.84 280.6L417.6 280.3L418.35 280L419.11 279.69L419.86 279.39L420.62 279.09L421.38 278.79L422.13 278.49L422.89 278.19L423.65 277.89L424.4 277.59L425.16 277.29L425.91 276.99L426.67 276.69L427.43 276.4L428.18 276.1L428.94 275.8L429.69 275.51L430.45 275.21L431.21 274.92L431.96 274.62L432.72 274.33L433.48 274.03L434.23 273.74L434.99 273.45L435.74 273.16L436.5 272.86L437.26 272.57L438.01 272.28L438.77 271.99L439.52 271.7L440.28 271.42L441.04 271.13L441.79 270.84L442.55 270.56L443.31 270.27L444.06 269.99L444.82 269.71L445.57 269.43L446.33 269.14L447.09 268.87L447.84 268.59L448.6 268.31L449.35 268.04L450.11 267.76L450.87 267.49L451.62 267.22L452.38 266.95L453.13 266.69L453.89 266.42M332.91 324.12L333.67 323.79L334.42 323.48L335.18 323.18L335.93 322.89L336.69 322.61L337.45 322.34L338.2 322.07L338.96 321.82L339.71 321.57L340.47 321.32L341.23 321.09L341.98 320.86L342.74 320.63L343.49 320.41L344.25 320.19L345.01 319.98L345.76 319.77L346.52 319.57L347.28 319.37L348.03 319.17L348.79 318.97L349.54 318.77L350.3 318.58L351.06 318.39L351.81 318.19L352.57 318L353.32 317.81L354.08 317.62L354.84 317.43L355.59 317.24L356.35 317.05L357.11 316.86L357.86 316.67L358.62 316.47L359.37 316.28L360.13 316.08L360.89 315.88L361.64 315.68L362.4 315.48L363.15 315.28L363.91 315.07L364.67 314.86L365.42 314.65L366.18 314.44L366.94 314.22L367.69 314.01L368.45 313.79L369.2 313.56L369.96 313.34L370.72 313.11L371.47 312.87L372.23 312.64L372.98 312.4L373.74 312.16L374.5 311.92L375.25 311.67L376.01 311.42L376.76 311.17L377.52 310.91L378.28 310.65L379.03 310.39L379.79 310.12L380.55 309.85L381.3 309.58L382.06 309.31L382.81 309.03L383.57 308.75L384.33 308.46L385.08 308.18L385.84 307.89L386.59 307.6L387.35 307.3L388.11 307L388.86 306.7L389.62 306.4L390.38 306.09L391.13 305.78L391.89 305.47L392.64 305.15L393.4 304.84L394.16 304.52L394.91 304.2L395.67 303.87L396.42 303.54L397.18 303.21L397.94 302.88L398.69 302.55L399.45 302.21L400.21 301.87L400.96 301.53L401.72 301.19L402.47 300.84L403.23 300.49L403.99 300.14L404.74 299.79L405.5 299.44L406.25 299.08L407.01 298.72L407.77 298.36L408.52 297.99L409.28 297.63L410.04 297.26L410.79 296.89L411.55 296.52L412.3 296.14L413.06 295.76L413.82 295.38L414.57 295L415.33 294.61L416.08 294.22L416.84 293.83L417.6 293.43L418.35 293.03L419.11 292.63L419.86 292.23L420.62 291.82L421.38 291.41L422.13 290.99L422.89 290.57L423.65 290.15L424.4 289.72L425.16 289.29L425.91 288.85L426.67 288.41L427.43 287.96L428.18 287.51L428.94 287.05L429.69 286.58L430.45 286.11L431.21 285.64L431.96 285.15L432.72 284.66L433.48 284.16L434.23 283.66L434.99 283.15L435.74 282.62L436.5 282.09L437.26 281.55L438.01 281L438.77 280.45L439.52 279.88L440.28 279.3L441.04 278.71L441.79 278.1L442.55 277.49L443.31 276.86L444.06 276.22L444.82 275.57L445.57 274.9L446.33 274.22L447.09 273.52L447.84 272.8L448.6 272.07L449.35 271.32L450.11 270.56L450.87 269.77L451.62 268.97L452.38 268.14L453.13 267.3L453.89 266.43M332.91 324.14L333.67 323.65L334.42 323.17L335.18 322.68L335.93 322.2L336.69 321.71L337.45 321.23L338.2 320.74L338.96 320.26L339.71 319.77L340.47 319.29L341.23 318.81L341.98 318.33L342.74 317.85L343.49 317.37L344.25 316.89L345.01 316.41L345.76 315.94L346.52 315.46L347.28 314.99L348.03 314.52L348.79 314.05L349.54 313.58L350.3 313.12L351.06 312.65L351.81 312.19L352.57 311.73L353.32 311.27L354.08 310.82L354.84 310.37L355.59 309.91L356.35 309.47L357.11 309.02L357.86 308.58L358.62 308.13L359.37 307.69L360.13 307.26L360.89 306.82L361.64 306.39L362.4 305.96L363.15 305.53L363.91 305.11L364.67 304.69L365.42 304.27L366.18 303.85L366.94 303.43L367.69 303.02L368.45 302.61L369.2 302.2L369.96 301.8L370.72 301.39L371.47 300.99L372.23 300.59L372.98 300.2L373.74 299.8L374.5 299.41L375.25 299.02L376.01 298.64L376.76 298.25L377.52 297.87L378.28 297.49L379.03 297.11L379.79 296.73L380.55 296.35L381.3 295.98L382.06 295.61L382.81 295.24L383.57 294.87L384.33 294.51L385.08 294.14L385.84 293.78L386.59 293.42L387.35 293.06L388.11 292.7L388.86 292.35L389.62 291.99L390.38 291.64L391.13 291.29L391.89 290.94L392.64 290.59L393.4 290.24L394.16 289.9L394.91 289.55L395.67 289.21L396.42 288.87L397.18 288.52L397.94 288.18L398.69 287.84L399.45 287.5L400.21 287.17L400.96 286.83L401.72 286.49L402.47 286.16L403.23 285.83L403.99 285.49L404.74 285.16L405.5 284.83L406.25 284.5L407.01 284.17L407.77 283.84L408.52 283.51L409.28 283.18L410.04 282.85L410.79 282.53L411.55 282.2L412.3 281.88L413.06 281.55L413.82 281.23L414.57 280.9L415.33 280.58L416.08 280.26L416.84 279.94L417.6 279.62L418.35 279.3L419.11 278.98L419.86 278.66L420.62 278.34L421.38 278.02L422.13 277.71L422.89 277.39L423.65 277.08L424.4 276.77L425.16 276.46L425.91 276.15L426.67 275.84L427.43 275.53L428.18 275.22L428.94 274.92L429.69 274.61L430.45 274.31L431.21 274.01L431.96 273.71L432.72 273.41L433.48 273.12L434.23 272.82L434.99 272.53L435.74 272.24L436.5 271.96L437.26 271.67L438.01 271.39L438.77 271.11L439.52 270.84L440.28 270.56L441.04 270.29L441.79 270.03L442.55 269.77L443.31 269.51L444.06 269.25L444.82 269L445.57 268.75L446.33 268.51L447.09 268.27L447.84 268.04L448.6 267.81L449.35 267.59L450.11 267.37L450.87 267.16L451.62 266.96L452.38 266.76L453.13 266.57L453.89 266.38M332.91 324.14L333.67 323.89L334.42 323.65L335.18 323.42L335.93 323.19L336.69 322.96L337.45 322.74L338.2 322.53L338.96 322.32L339.71 322.12L340.47 321.92L341.23 321.72L341.98 321.53L342.74 321.33L343.49 321.15L344.25 320.96L345.01 320.78L345.76 320.59L346.52 320.41L347.28 320.23L348.03 320.06L348.79 319.88L349.54 319.7L350.3 319.52L351.06 319.35L351.81 319.17L352.57 318.99L353.32 318.81L354.08 318.63L354.84 318.45L355.59 318.27L356.35 318.09L357.11 317.9L357.86 317.72L358.62 317.53L359.37 317.34L360.13 317.15L360.89 316.96L361.64 316.76L362.4 316.56L363.15 316.36L363.91 316.16L364.67 315.96L365.42 315.75L366.18 315.54L366.94 315.32L367.69 315.11L368.45 314.89L369.2 314.67L369.96 314.44L370.72 314.21L371.47 313.98L372.23 313.75L372.98 313.51L373.74 313.27L374.5 313.03L375.25 312.78L376.01 312.53L376.76 312.28L377.52 312.03L378.28 311.77L379.03 311.5L379.79 311.24L380.55 310.97L381.3 310.7L382.06 310.42L382.81 310.15L383.57 309.87L384.33 309.58L385.08 309.29L385.84 309L386.59 308.71L387.35 308.42L388.11 308.12L388.86 307.81L389.62 307.51L390.38 307.2L391.13 306.89L391.89 306.58L392.64 306.26L393.4 305.94L394.16 305.62L394.91 305.29L395.67 304.97L396.42 304.64L397.18 304.3L397.94 303.97L398.69 303.63L399.45 303.29L400.21 302.94L400.96 302.59L401.72 302.25L402.47 301.89L403.23 301.54L403.99 301.18L404.74 300.82L405.5 300.46L406.25 300.09L407.01 299.72L407.77 299.35L408.52 298.98L409.28 298.6L410.04 298.22L410.79 297.84L411.55 297.45L412.3 297.06L413.06 296.67L413.82 296.27L414.57 295.88L415.33 295.47L416.08 295.07L416.84 294.66L417.6 294.25L418.35 293.83L419.11 293.41L419.86 292.99L420.62 292.56L421.38 292.13L422.13 291.69L422.89 291.25L423.65 290.81L424.4 290.36L425.16 289.9L425.91 289.44L426.67 288.98L427.43 288.51L428.18 288.03L428.94 287.55L429.69 287.06L430.45 286.57L431.21 286.07L431.96 285.56L432.72 285.04L433.48 284.52L434.23 283.99L434.99 283.46L435.74 282.91L436.5 282.36L437.26 281.79L438.01 281.22L438.77 280.64L439.52 280.05L440.28 279.45L441.04 278.83L441.79 278.21L442.55 277.58L443.31 276.93L444.06 276.27L444.82 275.6L445.57 274.92L446.33 274.22L447.09 273.51L447.84 272.78L448.6 272.04L449.35 271.29L450.11 270.51L450.87 269.72L451.62 268.92L452.38 268.09L453.13 267.25L453.89 266.39M332.91 324.17L333.67 323.68L334.42 323.2L335.18 322.72L335.93 322.24L336.69 321.75L337.45 321.27L338.2 320.78L338.96 320.3L339.71 319.82L340.47 319.33L341.23 318.85L341.98 318.37L342.74 317.89L343.49 317.41L344.25 316.93L345.01 316.45L345.76 315.97L346.52 315.5L347.28 315.02L348.03 314.55L348.79 314.08L349.54 313.61L350.3 313.14L351.06 312.68L351.81 312.21L352.57 311.75L353.32 311.29L354.08 310.84L354.84 310.38L355.59 309.93L356.35 309.48L357.11 309.03L357.86 308.58L358.62 308.14L359.37 307.7L360.13 307.26L360.89 306.82L361.64 306.39L362.4 305.96L363.15 305.53L363.91 305.1L364.67 304.68L365.42 304.26L366.18 303.84L366.94 303.42L367.69 303L368.45 302.59L369.2 302.18L369.96 301.77L370.72 301.37L371.47 300.96L372.23 300.56L372.98 300.16L373.74 299.77L374.5 299.37L375.25 298.98L376.01 298.59L376.76 298.2L377.52 297.81L378.28 297.43L379.03 297.04L379.79 296.66L380.55 296.28L381.3 295.9L382.06 295.53L382.81 295.15L383.57 294.78L384.33 294.41L385.08 294.04L385.84 293.67L386.59 293.3L387.35 292.93L388.11 292.57L388.86 292.2L389.62 291.84L390.38 291.48L391.13 291.12L391.89 290.76L392.64 290.4L393.4 290.04L394.16 289.68L394.91 289.33L395.67 288.97L396.42 288.62L397.18 288.27L397.94 287.91L398.69 287.56L399.45 287.21L400.21 286.86L400.96 286.51L401.72 286.16L402.47 285.81L403.23 285.46L403.99 285.11L404.74 284.76L405.5 284.42L406.25 284.07L407.01 283.72L407.77 283.38L408.52 283.03L409.28 282.69L410.04 282.34L410.79 282L411.55 281.66L412.3 281.31L413.06 280.97L413.82 280.63L414.57 280.29L415.33 279.95L416.08 279.61L416.84 279.27L417.6 278.93L418.35 278.6L419.11 278.26L419.86 277.93L420.62 277.59L421.38 277.26L422.13 276.93L422.89 276.6L423.65 276.27L424.4 275.95L425.16 275.62L425.91 275.3L426.67 274.98L427.43 274.66L428.18 274.34L428.94 274.03L429.69 273.72L430.45 273.41L431.21 273.1L431.96 272.8L432.72 272.5L433.48 272.2L434.23 271.91L434.99 271.62L435.74 271.33L436.5 271.05L437.26 270.77L438.01 270.5L438.77 270.23L439.52 269.97L440.28 269.71L441.04 269.46L441.79 269.21L442.55 268.98L443.31 268.74L444.06 268.52L444.82 268.3L445.57 268.08L446.33 267.88L447.09 267.68L447.84 267.5L448.6 267.32L449.35 267.15L450.11 266.99L450.87 266.83L451.62 266.69L452.38 266.56L453.13 266.45L453.89 266.34M332.91 324.17L333.67 324L334.42 323.82L335.18 323.65L335.93 323.48L336.69 323.31L337.45 323.15L338.2 322.99L338.96 322.83L339.71 322.67L340.47 322.51L341.23 322.35L341.98 322.19L342.74 322.04L343.49 321.88L344.25 321.73L345.01 321.57L345.76 321.42L346.52 321.26L347.28 321.1L348.03 320.95L348.79 320.79L349.54 320.63L350.3 320.47L351.06 320.31L351.81 320.14L352.57 319.98L353.32 319.81L354.08 319.64L354.84 319.47L355.59 319.3L356.35 319.13L357.11 318.95L357.86 318.77L358.62 318.59L359.37 318.41L360.13 318.22L360.89 318.03L361.64 317.84L362.4 317.65L363.15 317.45L363.91 317.25L364.67 317.05L365.42 316.84L366.18 316.64L366.94 316.42L367.69 316.21L368.45 315.99L369.2 315.77L369.96 315.55L370.72 315.32L371.47 315.09L372.23 314.86L372.98 314.62L373.74 314.38L374.5 314.14L375.25 313.9L376.01 313.65L376.76 313.4L377.52 313.14L378.28 312.88L379.03 312.62L379.79 312.36L380.55 312.09L381.3 311.82L382.06 311.54L382.81 311.26L383.57 310.98L384.33 310.7L385.08 310.41L385.84 310.12L386.59 309.83L387.35 309.53L388.11 309.23L388.86 308.93L389.62 308.62L390.38 308.31L391.13 308L391.89 307.68L392.64 307.36L393.4 307.04L394.16 306.72L394.91 306.39L395.67 306.06L396.42 305.73L397.18 305.39L397.94 305.05L398.69 304.71L399.45 304.36L400.21 304.01L400.96 303.66L401.72 303.3L402.47 302.94L403.23 302.58L403.99 302.22L404.74 301.85L405.5 301.48L406.25 301.1L407.01 300.72L407.77 300.34L408.52 299.96L409.28 299.57L410.04 299.18L410.79 298.78L411.55 298.38L412.3 297.98L413.06 297.58L413.82 297.17L414.57 296.75L415.33 296.34L416.08 295.92L416.84 295.49L417.6 295.06L418.35 294.63L419.11 294.19L419.86 293.75L420.62 293.3L421.38 292.85L422.13 292.39L422.89 291.93L423.65 291.47L424.4 291L425.16 290.52L425.91 290.04L426.67 289.55L427.43 289.06L428.18 288.56L428.94 288.05L429.69 287.54L430.45 287.02L431.21 286.5L431.96 285.97L432.72 285.43L433.48 284.88L434.23 284.33L434.99 283.77L435.74 283.2L436.5 282.62L437.26 282.03L438.01 281.44L438.77 280.83L439.52 280.22L440.28 279.6L441.04 278.96L441.79 278.32L442.55 277.67L443.31 277L444.06 276.33L444.82 275.64L445.57 274.94L446.33 274.23L447.09 273.5L447.84 272.77L448.6 272.01L449.35 271.25L450.11 270.47L450.87 269.68L451.62 268.87L452.38 268.04L453.13 267.2L453.89 266.35" stroke="#444" stroke-width="0.6" fill="none"/>
<path d="M332.91 324L333.67 323.5L334.42 323L335.18 322.5L335.93 322.01L336.69 321.51L337.45 321.02L338.2 320.54L338.96 320.05L339.71 319.56L340.47 319.08L341.23 318.6L341.98 318.12L342.74 317.65L343.49 317.17L344.25 316.7L345.01 316.23L345.76 315.76L346.52 315.29L347.28 314.83L348.03 314.36L348.79 313.9L349.54 313.44L350.3 312.99L351.06 312.53L351.81 312.08L352.57 311.63L353.32 311.18L354.08 310.73L354.84 310.29L355.59 309.85L356.35 309.41L357.11 308.97L357.86 308.54L358.62 308.1L359.37 307.67L360.13 307.24L360.89 306.82L361.64 306.4L362.4 305.98L363.15 305.56L363.91 305.14L364.67 304.73L365.42 304.32L366.18 303.91L366.94 303.51L367.69 303.11L368.45 302.71L369.2 302.31L369.96 301.92L370.72 301.53L371.47 301.14L372.23 300.75L372.98 300.37L373.74 299.99L374.5 299.62L375.25 299.24L376.01 298.87L376.76 298.51L377.52 298.14L378.28 297.78L379.03 297.43L379.79 297.07L380.55 296.72L381.3 296.37L382.06 296.03L382.81 295.69L383.57 295.35L384.33 295.02L385.08 294.68L385.84 294.36L386.59 294.03L387.35 293.71L388.11 293.39L388.86 293.08L389.62 292.76L390.38 292.45L391.13 292.15L391.89 291.85L392.64 291.55L393.4 291.25L394.16 290.96L394.91 290.67L395.67 290.38L396.42 290.09L397.18 289.81L397.94 289.53L398.69 289.26L399.45 288.99L400.21 288.71L400.96 288.45L401.72 288.18L402.47 287.92L403.23 287.66L403.99 287.4L404.74 287.14L405.5 286.89L406.25 286.64L407.01 286.39L407.77 286.14L408.52 285.9L409.28 285.65L410.04 285.41L410.79 285.17L411.55 284.93L412.3 284.69L413.06 284.45L413.82 284.21L414.57 283.97L415.33 283.74L416.08 283.5L416.84 283.27L417.6 283.03L418.35 282.79L419.11 282.56L419.86 282.32L420.62 282.08L421.38 281.84L422.13 281.6L422.89 281.36L423.65 281.12L424.4 280.87L425.16 280.63L425.91 280.38L426.67 280.13L427.43 279.87L428.18 279.62L428.94 279.35L429.69 279.09L430.45 278.82L431.21 278.55L431.96 278.27L432.72 277.99L433.48 277.7L434.23 277.41L434.99 277.11L435.74 276.8L436.5 276.49L437.26 276.17L438.01 275.85L438.77 275.52L439.52 275.17L440.28 274.82L441.04 274.47L441.79 274.1L442.55 273.72L443.31 273.33L444.06 272.94L444.82 272.53L445.57 272.11L446.33 271.67L447.09 271.23L447.84 270.77L448.6 270.3L449.35 269.82L450.11 269.32L450.87 268.81L451.62 268.28L452.38 267.73L453.13 267.17L453.89 266.6L453.89 266.6L453.13 267.49L452.38 268.34L451.62 269.16L450.87 269.96L450.11 270.73L449.35 271.47L448.6 272.18L447.84 272.87L447.09 273.54L446.33 274.19L445.57 274.82L444.82 275.42L444.06 276.01L443.31 276.58L442.55 277.13L441.79 277.67L441.04 278.19L440.28 278.7L439.52 279.19L438.77 279.67L438.01 280.14L437.26 280.6L436.5 281.04L435.74 281.48L434.99 281.9L434.23 282.32L433.48 282.73L432.72 283.13L431.96 283.53L431.21 283.91L430.45 284.29L429.69 284.67L428.94 285.04L428.18 285.4L427.43 285.76L426.67 286.12L425.91 286.47L425.16 286.82L424.4 287.17L423.65 287.51L422.89 287.85L422.13 288.19L421.38 288.52L420.62 288.85L419.86 289.19L419.11 289.52L418.35 289.85L417.6 290.18L416.84 290.5L416.08 290.83L415.33 291.16L414.57 291.48L413.82 291.81L413.06 292.13L412.3 292.45L411.55 292.78L410.79 293.1L410.04 293.42L409.28 293.75L408.52 294.07L407.77 294.39L407.01 294.71L406.25 295.04L405.5 295.36L404.74 295.68L403.99 296L403.23 296.32L402.47 296.64L401.72 296.96L400.96 297.28L400.21 297.6L399.45 297.92L398.69 298.23L397.94 298.55L397.18 298.87L396.42 299.18L395.67 299.49L394.91 299.81L394.16 300.12L393.4 300.43L392.64 300.73L391.89 301.04L391.13 301.35L390.38 301.65L389.62 301.95L388.86 302.25L388.11 302.55L387.35 302.84L386.59 303.13L385.84 303.43L385.08 303.71L384.33 304L383.57 304.28L382.81 304.56L382.06 304.84L381.3 305.12L380.55 305.39L379.79 305.66L379.03 305.92L378.28 306.19L377.52 306.45L376.76 306.71L376.01 306.96L375.25 307.22L374.5 307.47L373.74 307.71L372.98 307.96L372.23 308.2L371.47 308.44L370.72 308.67L369.96 308.91L369.2 309.14L368.45 309.37L367.69 309.6L366.94 309.82L366.18 310.05L365.42 310.27L364.67 310.49L363.91 310.71L363.15 310.93L362.4 311.14L361.64 311.36L360.89 311.58L360.13 311.79L359.37 312.01L358.62 312.23L357.86 312.45L357.11 312.67L356.35 312.89L355.59 313.12L354.84 313.35L354.08 313.58L353.32 313.81L352.57 314.05L351.81 314.29L351.06 314.54L350.3 314.8L349.54 315.06L348.79 315.33L348.03 315.6L347.28 315.89L346.52 316.18L345.76 316.48L345.01 316.8L344.25 317.12L343.49 317.46L342.74 317.81L341.98 318.18L341.23 318.56L340.47 318.95L339.71 319.36L338.96 319.79L338.2 320.24L337.45 320.71L336.69 321.2L335.93 321.71L335.18 322.25L334.42 322.8L333.67 323.39L332.91 324Z" fill="url(#coreg)" stroke="url(#coreg)" stroke-width="0.6"/>
<path d="M332.91 324.19L333.67 323.72L334.42 323.24L335.18 322.76L335.93 322.27L336.69 321.79L337.45 321.31L338.2 320.83L338.96 320.34L339.71 319.86L340.47 319.37L341.23 318.89L341.98 318.41L342.74 317.93L343.49 317.44L344.25 316.96L345.01 316.48L345.76 316.01L346.52 315.53L347.28 315.05L348.03 314.58L348.79 314.11L349.54 313.64L350.3 313.17L351.06 312.7L351.81 312.24L352.57 311.77L353.32 311.31L354.08 310.85L354.84 310.4L355.59 309.94L356.35 309.49L357.11 309.04L357.86 308.59L358.62 308.15L359.37 307.7L360.13 307.26L360.89 306.82L361.64 306.39L362.4 305.96L363.15 305.52L363.91 305.1L364.67 304.67L365.42 304.25L366.18 303.82L366.94 303.4L367.69 302.99L368.45 302.57L369.2 302.16L369.96 301.75L370.72 301.34L371.47 300.93L372.23 300.53L372.98 300.13L373.74 299.73L374.5 299.33L375.25 298.93L376.01 298.54L376.76 298.15L377.52 297.76L378.28 297.37L379.03 296.98L379.79 296.59L380.55 296.21L381.3 295.82L382.06 295.44L382.81 295.06L383.57 294.68L384.33 294.3L385.08 293.93L385.84 293.55L386.59 293.18L387.35 292.8L388.11 292.43L388.86 292.06L389.62 291.69L390.38 291.32L391.13 290.95L391.89 290.58L392.64 290.21L393.4 289.84L394.16 289.47L394.91 289.11L395.67 288.74L396.42 288.37L397.18 288.01L397.94 287.64L398.69 287.28L399.45 286.91L400.21 286.55L400.96 286.18L401.72 285.82L402.47 285.46L403.23 285.09L403.99 284.73L404.74 284.37L405.5 284L406.25 283.64L407.01 283.28L407.77 282.92L408.52 282.55L409.28 282.19L410.04 281.83L410.79 281.47L411.55 281.11L412.3 280.75L413.06 280.39L413.82 280.03L414.57 279.67L415.33 279.32L416.08 278.96L416.84 278.61L417.6 278.25L418.35 277.9L419.11 277.55L419.86 277.19L420.62 276.84L421.38 276.5L422.13 276.15L422.89 275.81L423.65 275.46L424.4 275.12L425.16 274.79L425.91 274.45L426.67 274.12L427.43 273.79L428.18 273.46L428.94 273.14L429.69 272.82L430.45 272.5L431.21 272.19L431.96 271.88L432.72 271.58L433.48 271.28L434.23 270.99L434.99 270.7L435.74 270.42L436.5 270.14L437.26 269.87L438.01 269.61L438.77 269.35L439.52 269.1L440.28 268.86L441.04 268.63L441.79 268.4L442.55 268.18L443.31 267.98L444.06 267.78L444.82 267.59L445.57 267.41L446.33 267.25L447.09 267.09L447.84 266.95L448.6 266.82L449.35 266.7L450.11 266.6L450.87 266.51L451.62 266.43L452.38 266.37L453.13 266.32L453.89 266.3L453.89 266.3L453.13 267.16L452.38 267.99L451.62 268.82L450.87 269.63L450.11 270.43L449.35 271.21L448.6 271.99L447.84 272.75L447.09 273.5L446.33 274.23L445.57 274.96L444.82 275.67L444.06 276.38L443.31 277.07L442.55 277.76L441.79 278.43L441.04 279.09L440.28 279.75L439.52 280.39L438.77 281.03L438.01 281.65L437.26 282.27L436.5 282.88L435.74 283.48L434.99 284.08L434.23 284.66L433.48 285.24L432.72 285.81L431.96 286.37L431.21 286.93L430.45 287.48L429.69 288.02L428.94 288.55L428.18 289.08L427.43 289.61L426.67 290.12L425.91 290.63L425.16 291.14L424.4 291.63L423.65 292.13L422.89 292.61L422.13 293.1L421.38 293.57L420.62 294.04L419.86 294.51L419.11 294.97L418.35 295.42L417.6 295.88L416.84 296.32L416.08 296.76L415.33 297.2L414.57 297.63L413.82 298.06L413.06 298.49L412.3 298.9L411.55 299.32L410.79 299.73L410.04 300.14L409.28 300.54L408.52 300.94L407.77 301.33L407.01 301.73L406.25 302.11L405.5 302.5L404.74 302.88L403.99 303.25L403.23 303.62L402.47 303.99L401.72 304.36L400.96 304.72L400.21 305.08L399.45 305.43L398.69 305.78L397.94 306.13L397.18 306.48L396.42 306.82L395.67 307.15L394.91 307.49L394.16 307.82L393.4 308.15L392.64 308.47L391.89 308.79L391.13 309.11L390.38 309.42L389.62 309.73L388.86 310.04L388.11 310.34L387.35 310.64L386.59 310.94L385.84 311.24L385.08 311.53L384.33 311.81L383.57 312.1L382.81 312.38L382.06 312.66L381.3 312.93L380.55 313.2L379.79 313.47L379.03 313.74L378.28 314L377.52 314.26L376.76 314.51L376.01 314.76L375.25 315.01L374.5 315.25L373.74 315.5L372.98 315.74L372.23 315.97L371.47 316.2L370.72 316.43L369.96 316.66L369.2 316.88L368.45 317.1L367.69 317.31L366.94 317.53L366.18 317.73L365.42 317.94L364.67 318.14L363.91 318.34L363.15 318.54L362.4 318.73L361.64 318.92L360.89 319.11L360.13 319.29L359.37 319.47L358.62 319.65L357.86 319.83L357.11 320L356.35 320.17L355.59 320.33L354.84 320.5L354.08 320.66L353.32 320.81L352.57 320.97L351.81 321.12L351.06 321.27L350.3 321.41L349.54 321.56L348.79 321.7L348.03 321.84L347.28 321.97L346.52 322.11L345.76 322.24L345.01 322.37L344.25 322.5L343.49 322.62L342.74 322.74L341.98 322.86L341.23 322.98L340.47 323.1L339.71 323.22L338.96 323.33L338.2 323.44L337.45 323.56L336.69 323.67L335.93 323.78L335.18 323.88L334.42 323.99L333.67 324.1L332.91 324.2Z" fill="none" stroke="#000" stroke-width="1" stroke-linejoin="round"/>
<path d="M393.4 298.96V306.86" stroke="#333" stroke-width="0.8"/>
</svg>
</body></html>
